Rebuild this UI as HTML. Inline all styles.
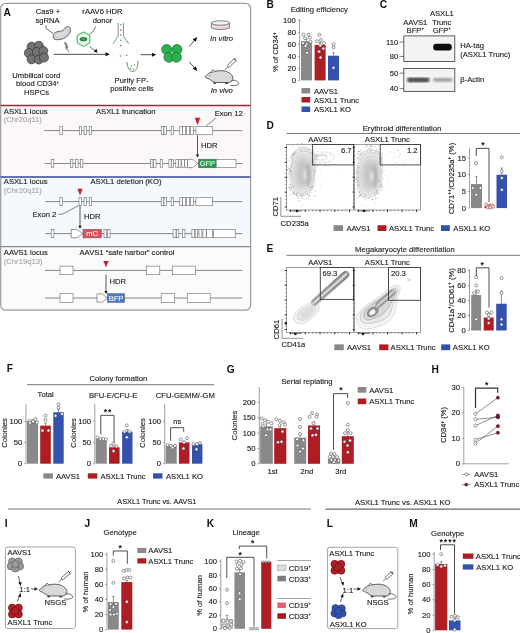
<!DOCTYPE html><html><head><meta charset="utf-8"><style>html,body{margin:0;padding:0;background:#fff;width:520px;height:633px;overflow:hidden}svg{display:block}svg text{font-family:"Liberation Sans",Arial,Helvetica,sans-serif}</style></head><body><svg width="520" height="633" viewBox="0 0 520 633" fill="#1e1e1e">
<defs><clipPath id="boxA"><rect x="0.7" y="3.3" width="249.9" height="306.9" rx="5"/></clipPath><radialGradient id="blob" cx="0.55" cy="0.55" r="0.5"><stop offset="0" stop-color="#d8d8d8"/><stop offset="0.35" stop-color="#9a9a9a"/><stop offset="0.7" stop-color="#c4c4c4"/><stop offset="1" stop-color="#eeeeee" stop-opacity="0.3"/></radialGradient><radialGradient id="blob2" cx="0.5" cy="0.5" r="0.5"><stop offset="0" stop-color="#bbbbbb"/><stop offset="0.6" stop-color="#d6d6d6"/><stop offset="1" stop-color="#f2f2f2" stop-opacity="0.2"/></radialGradient><linearGradient id="streak" x1="0" y1="0" x2="0" y2="1"><stop offset="0" stop-color="#777"/><stop offset="0.3" stop-color="#a8a8a8"/><stop offset="0.5" stop-color="#dddddd"/><stop offset="0.7" stop-color="#a8a8a8"/><stop offset="1" stop-color="#777"/></linearGradient><linearGradient id="along" x1="0" y1="0" x2="1" y2="0"><stop offset="0" stop-color="#bbbbbb"/><stop offset="0.45" stop-color="#888888"/><stop offset="1" stop-color="#444444"/></linearGradient><linearGradient id="fadeL" x1="0" y1="0" x2="1" y2="0"><stop offset="0" stop-color="#fff" stop-opacity="0.6"/><stop offset="1" stop-color="#fff" stop-opacity="0"/></linearGradient><filter id="blur1"><feGaussianBlur stdDeviation="0.8"/></filter><filter id="blur05"><feGaussianBlur stdDeviation="0.45"/></filter></defs>
<rect width="520" height="633" fill="#fff"/>
<g clip-path="url(#boxA)">
<rect x="0.00" y="3.00" width="252.00" height="103.00" fill="#fff" stroke="none" stroke-width="0.8" />
<rect x="0.00" y="105.50" width="252.00" height="71.50" fill="#fcf8fa" stroke="none" stroke-width="0.8" />
<rect x="0.00" y="177.00" width="252.00" height="69.50" fill="#f5f8fc" stroke="none" stroke-width="0.8" />
<rect x="0.00" y="246.50" width="252.00" height="66.00" fill="#fbfbfc" stroke="none" stroke-width="0.8" />
</g>
<rect x="0.70" y="3.30" width="249.90" height="306.90" fill="none" stroke="#9a9a9a" stroke-width="1.2" rx="5" />
<line x1="0.70" y1="105.50" x2="250.60" y2="105.50" stroke="#9c2a2e" stroke-width="1.5" />
<line x1="0.70" y1="177.00" x2="250.60" y2="177.00" stroke="#34469a" stroke-width="1.3" />
<line x1="0.70" y1="246.60" x2="250.60" y2="246.60" stroke="#8a8a8a" stroke-width="1.2" />
<text x="3.60" y="15.60" font-size="10.2" fill="#111" font-weight="bold">A</text>
<text x="48.00" y="14.50" font-size="7.9" text-anchor="middle" stroke="#1e1e1e" stroke-width="0.14" transform="translate(48.00 14.50) scale(0.97 1) translate(-48.00 -14.50)">Cas9 +</text>
<text x="47.50" y="23.00" font-size="7.9" text-anchor="middle" stroke="#1e1e1e" stroke-width="0.14" transform="translate(47.50 23.00) scale(0.97 1) translate(-47.50 -23.00)">sgRNA</text>
<text x="102.50" y="14.50" font-size="7.9" text-anchor="middle" stroke="#1e1e1e" stroke-width="0.14" transform="translate(102.50 14.50) scale(0.97 1) translate(-102.50 -14.50)">rAAV6 HDR</text>
<text x="102.50" y="23.00" font-size="7.9" text-anchor="middle" stroke="#1e1e1e" stroke-width="0.14" transform="translate(102.50 23.00) scale(0.97 1) translate(-102.50 -23.00)">donor</text>
<circle cx="31.60" cy="46.70" r="4.5" fill="#737373" stroke="#333" stroke-width="0.7"/>
<circle cx="38.80" cy="45.80" r="4.5" fill="#737373" stroke="#333" stroke-width="0.7"/>
<circle cx="28.80" cy="53.00" r="4.5" fill="#737373" stroke="#333" stroke-width="0.7"/>
<circle cx="36.80" cy="52.00" r="4.5" fill="#737373" stroke="#333" stroke-width="0.7"/>
<circle cx="43.30" cy="51.00" r="4.5" fill="#737373" stroke="#333" stroke-width="0.7"/>
<circle cx="31.60" cy="59.30" r="4.5" fill="#737373" stroke="#333" stroke-width="0.7"/>
<circle cx="38.80" cy="59.50" r="4.5" fill="#737373" stroke="#333" stroke-width="0.7"/>
<circle cx="44.00" cy="57.50" r="4.5" fill="#737373" stroke="#333" stroke-width="0.7"/>
<text x="36.30" y="78.20" font-size="7.9" text-anchor="middle" stroke="#1e1e1e" stroke-width="0.14" transform="translate(36.30 78.20) scale(0.97 1) translate(-36.30 -78.20)">Umbilical cord</text>
<text x="37.50" y="86.50" font-size="7.9" text-anchor="middle" stroke="#1e1e1e" stroke-width="0.14" transform="translate(37.50 86.50) scale(0.97 1) translate(-37.50 -86.50)">blood CD34<tspan font-size="4.5" dy="-2.8">+</tspan></text>
<text x="36.50" y="95.00" font-size="7.9" text-anchor="middle" stroke="#1e1e1e" stroke-width="0.14" transform="translate(36.50 95.00) scale(0.97 1) translate(-36.50 -95.00)">HSPCs</text>
<path d="M45.8,25.2 L46.2,28.5 L53.2,33.6" fill="none" stroke="#333" stroke-width="0.7" />
<path d="M53.2,35.5 C53.5,32.5 57,31.5 60.5,31.2 C63,31 64.5,28.5 66,27 C68,25.8 70.6,26.8 70.6,29.5 C70.6,33 68,36.5 63.5,38.5 C60,40 55,40.2 53.8,38.5 C53.2,37.6 53.1,36.5 53.2,35.5 Z" fill="#d2d2d2" stroke="#444" stroke-width="0.8" />
<path d="M56,35.5 C59,34 63,33.5 66,31.5" fill="none" stroke="#f2f2f2" stroke-width="0.9" />
<path d="M58,37.3 C61,36.5 64,35.5 67,33.5" fill="none" stroke="#ececec" stroke-width="0.6" />
<path d="M64,42.5 L66.5,47 L65,47.3 L69.3,52.5 L66.8,47.8 L68.3,47.5 L66,42.5 Z" fill="#777" stroke="#666" stroke-width="0.3" />
<polygon points="83.50,31.90 89.82,35.55 89.82,42.85 83.50,46.50 77.18,42.85 77.18,35.55" fill="#e6f5ea" stroke="#2a9f4c" stroke-width="0.9"/>
<ellipse cx="83.5" cy="39.2" rx="3.6" ry="1.9" fill="#1f8c3c" stroke="#1a6e30" stroke-width="0.4"/>
<ellipse cx="83.5" cy="39.2" rx="1.8" ry="0.8" fill="#3cb862"/>
<path d="M95.5,26.5 Q95,31 89.5,34.5" fill="none" stroke="#333" stroke-width="0.7" />
<line x1="89.50" y1="46.50" x2="95.50" y2="51.00" stroke="#333" stroke-width="0.7" />
<polygon points="97.6,52.6 93.6,51.8 96.4,48.8" fill="#111"/>
<line x1="53.70" y1="54.30" x2="106.50" y2="54.30" stroke="#222" stroke-width="0.8" />
<polygon points="110,54.3 105.5,52.3 105.5,56.3" fill="#111"/>
<line x1="118.20" y1="23.00" x2="118.20" y2="36.00" stroke="#555" stroke-width="0.7" />
<line x1="123.40" y1="23.00" x2="123.40" y2="36.00" stroke="#555" stroke-width="0.7" />
<line x1="118.20" y1="36.00" x2="113.00" y2="43.70" stroke="#555" stroke-width="0.7" />
<line x1="123.40" y1="36.00" x2="128.60" y2="43.70" stroke="#555" stroke-width="0.7" />
<circle cx="120.80" cy="24.70" r="0.75" fill="#2ea04c" stroke="none" stroke-width="0"/>
<circle cx="120.80" cy="29.90" r="0.75" fill="#b03030" stroke="none" stroke-width="0"/>
<circle cx="120.80" cy="35.10" r="0.75" fill="#2ea04c" stroke="none" stroke-width="0"/>
<circle cx="120.80" cy="40.30" r="0.75" fill="#2ea04c" stroke="none" stroke-width="0"/>
<circle cx="120.80" cy="45.50" r="0.75" fill="#a04040" stroke="none" stroke-width="0"/>
<circle cx="120.40" cy="55.90" r="0.75" fill="#b05050" stroke="none" stroke-width="0"/>
<circle cx="126.80" cy="55.30" r="0.75" fill="#2ea04c" stroke="none" stroke-width="0"/>
<path d="M126.8,62 Q128,72 133,71.5 Q138,71 138,61" fill="none" stroke="#555" stroke-width="0.7" />
<circle cx="131.50" cy="66.00" r="0.75" fill="#2ea04c" stroke="none" stroke-width="0"/>
<circle cx="134.50" cy="65.00" r="0.75" fill="#2ea04c" stroke="none" stroke-width="0"/>
<circle cx="133.50" cy="69.00" r="0.75" fill="#2ea04c" stroke="none" stroke-width="0"/>
<circle cx="130.50" cy="68.50" r="0.75" fill="#2ea04c" stroke="none" stroke-width="0"/>
<text x="131.60" y="82.70" font-size="7.9" text-anchor="middle" stroke="#1e1e1e" stroke-width="0.14" transform="translate(131.60 82.70) scale(0.97 1) translate(-131.60 -82.70)">Purify FP-</text>
<text x="132.00" y="91.30" font-size="7.9" text-anchor="middle" stroke="#1e1e1e" stroke-width="0.14" transform="translate(132.00 91.30) scale(0.97 1) translate(-132.00 -91.30)">positive cells</text>
<line x1="140.70" y1="54.70" x2="152.50" y2="54.70" stroke="#222" stroke-width="0.8" />
<polygon points="156.2,54.7 152,52.7 152,56.7" fill="#111"/>
<circle cx="166.60" cy="49.50" r="5.0" fill="#2bb04f" stroke="#1b6a30" stroke-width="0.7"/>
<circle cx="177.00" cy="49.50" r="5.0" fill="#2bb04f" stroke="#1b6a30" stroke-width="0.7"/>
<circle cx="168.90" cy="57.30" r="5.0" fill="#2bb04f" stroke="#1b6a30" stroke-width="0.7"/>
<circle cx="176.40" cy="57.30" r="5.0" fill="#2bb04f" stroke="#1b6a30" stroke-width="0.7"/>
<line x1="189.20" y1="46.50" x2="195.50" y2="39.20" stroke="#222" stroke-width="0.8" />
<polygon points="197.3,37 192.6,39.2 195.8,41.8" fill="#111"/>
<line x1="189.20" y1="61.90" x2="195.50" y2="68.80" stroke="#222" stroke-width="0.8" />
<polygon points="197.3,71 192.6,68.8 195.8,66.2" fill="#111"/>
<path d="M211.3,23 V28 Q220.4,31.3 229.5,28 V23" fill="#ead6da" stroke="#555" stroke-width="0.7" />
<ellipse cx="220.4" cy="23" rx="9.1" ry="2.2" fill="#f6f0f1" stroke="#555" stroke-width="0.7"/>
<text x="221.60" y="40.70" font-size="7.9" text-anchor="middle" stroke="#1e1e1e" stroke-width="0.14" font-style="italic" transform="translate(221.60 40.70) scale(0.97 1) translate(-221.60 -40.70)">In vitro</text>
<path d="M205.2,76.5 C208.2,73.5 210.2,72.0 213.2,71.9 C219.2,70.0 227.2,70.0 231.2,74.5 C234.2,78.0 233.2,81.5 229.2,82.5 L215.2,82.5 C212.2,81.5 210.2,79.5 208.2,78.5 C206.7,78.1 205.2,77.5 205.2,76.5 Z" fill="#d9d9d9" stroke="#333" stroke-width="0.75" />
<path d="M211.7,72.5 C211.2,69.5 214.2,69.0 214.7,71.7" fill="#d9d9d9" stroke="#333" stroke-width="0.7" />
<path d="M231.2,80.5 C236.2,79.5 240.2,82.5 238.2,84.5 C236.2,86.0 232.2,85.5 230.2,85.5" fill="none" stroke="#333" stroke-width="0.7" />
<ellipse cx="214.70" cy="83.10" rx="1.60" ry="0.80" fill="#333"/>
<ellipse cx="226.70" cy="83.30" rx="1.60" ry="0.80" fill="#333"/>
<circle cx="209.40" cy="75.50" r="0.45" fill="#333" stroke="none" stroke-width="0"/>
<line x1="225.00" y1="69.80" x2="228.08" y2="66.66" stroke="#333" stroke-width="0.7" />
<polygon points="229.01,67.57 235.88,60.58 234.02,58.76 227.15,65.75" fill="#fff" stroke="#333" stroke-width="0.7"/>
<line x1="236.62" y1="61.31" x2="233.28" y2="58.03" stroke="#333" stroke-width="0.7" />
<line x1="234.95" y1="59.67" x2="236.35" y2="58.24" stroke="#333" stroke-width="0.7" />
<text x="221.70" y="93.50" font-size="7.9" text-anchor="middle" stroke="#1e1e1e" stroke-width="0.14" font-style="italic" transform="translate(221.70 93.50) scale(0.97 1) translate(-221.70 -93.50)">In vivo</text>
<text x="3.80" y="113.80" font-size="7.9" stroke="#1e1e1e" stroke-width="0.14" transform="translate(3.80 113.80) scale(0.97 1) translate(-3.80 -113.80)">ASXL1 locus</text>
<text x="3.80" y="122.00" font-size="7.9" fill="#a8a8a8" stroke="#a8a8a8" stroke-width="0.14" transform="translate(3.80 122.00) scale(0.97 1) translate(-3.80 -122.00)">(Chr20q11)</text>
<text x="96.00" y="113.80" font-size="7.9" stroke="#1e1e1e" stroke-width="0.14" transform="translate(96.00 113.80) scale(0.97 1) translate(-96.00 -113.80)">ASXL1 truncation</text>
<text x="214.70" y="115.80" font-size="7.9" stroke="#1e1e1e" stroke-width="0.14" transform="translate(214.70 115.80) scale(0.97 1) translate(-214.70 -115.80)">Exon 12</text>
<line x1="44.30" y1="130.60" x2="242.30" y2="130.60" stroke="#7a7a7a" stroke-width="0.9" />
<rect x="59.90" y="126.45" width="2.60" height="8.30" fill="#fff" stroke="#6a6a6a" stroke-width="0.6" />
<rect x="79.30" y="126.45" width="2.30" height="8.30" fill="#fff" stroke="#6a6a6a" stroke-width="0.6" />
<rect x="84.10" y="126.45" width="2.30" height="8.30" fill="#fff" stroke="#6a6a6a" stroke-width="0.6" />
<rect x="89.20" y="126.45" width="2.30" height="8.30" fill="#fff" stroke="#6a6a6a" stroke-width="0.6" />
<rect x="161.20" y="126.45" width="2.60" height="8.30" fill="#fff" stroke="#6a6a6a" stroke-width="0.6" />
<rect x="164.00" y="126.45" width="2.30" height="8.30" fill="#fff" stroke="#6a6a6a" stroke-width="0.6" />
<rect x="171.20" y="126.45" width="2.30" height="8.30" fill="#fff" stroke="#6a6a6a" stroke-width="0.6" />
<rect x="179.80" y="126.45" width="2.90" height="8.30" fill="#fff" stroke="#6a6a6a" stroke-width="0.6" />
<rect x="182.70" y="126.45" width="2.90" height="8.30" fill="#fff" stroke="#6a6a6a" stroke-width="0.6" />
<rect x="186.50" y="126.45" width="2.90" height="8.30" fill="#fff" stroke="#6a6a6a" stroke-width="0.6" />
<rect x="190.40" y="126.45" width="2.90" height="8.30" fill="#fff" stroke="#6a6a6a" stroke-width="0.6" />
<rect x="195.90" y="126.45" width="16.70" height="8.30" fill="#fff" stroke="#6a6a6a" stroke-width="0.6" />
<path d="M206.2,126 L215.3,118.6 V117.6" fill="none" stroke="#333" stroke-width="0.6" />
<polygon points="194.80,117.80 200.20,117.80 197.50,125.30" fill="#c8202a"/>
<line x1="197.50" y1="135.50" x2="197.50" y2="154.90" stroke="#222" stroke-width="0.75" />
<polygon points="197.50,157.50 195.90,154.50 199.10,154.50" fill="#111"/>
<text x="201.00" y="148.00" font-size="7.9" stroke="#1e1e1e" stroke-width="0.14" transform="translate(201.00 148.00) scale(0.97 1) translate(-201.00 -148.00)">HDR</text>
<line x1="44.80" y1="163.50" x2="242.30" y2="163.50" stroke="#7a7a7a" stroke-width="0.9" />
<rect x="51.20" y="159.35" width="2.60" height="8.30" fill="#fff" stroke="#6a6a6a" stroke-width="0.6" />
<rect x="70.30" y="159.35" width="2.60" height="8.30" fill="#fff" stroke="#6a6a6a" stroke-width="0.6" />
<rect x="75.50" y="159.35" width="2.60" height="8.30" fill="#fff" stroke="#6a6a6a" stroke-width="0.6" />
<rect x="80.30" y="159.35" width="2.60" height="8.30" fill="#fff" stroke="#6a6a6a" stroke-width="0.6" />
<rect x="150.50" y="159.35" width="2.50" height="8.30" fill="#fff" stroke="#6a6a6a" stroke-width="0.6" />
<rect x="153.60" y="159.35" width="2.40" height="8.30" fill="#fff" stroke="#6a6a6a" stroke-width="0.6" />
<rect x="160.20" y="159.35" width="2.40" height="8.30" fill="#fff" stroke="#6a6a6a" stroke-width="0.6" />
<rect x="168.90" y="159.35" width="2.30" height="8.30" fill="#fff" stroke="#6a6a6a" stroke-width="0.6" />
<rect x="171.40" y="159.35" width="2.20" height="8.30" fill="#fff" stroke="#6a6a6a" stroke-width="0.6" />
<rect x="175.80" y="159.35" width="2.40" height="8.30" fill="#fff" stroke="#6a6a6a" stroke-width="0.6" />
<rect x="178.60" y="159.35" width="2.40" height="8.30" fill="#fff" stroke="#6a6a6a" stroke-width="0.6" />
<rect x="181.80" y="159.35" width="2.80" height="8.30" fill="#fff" stroke="#6a6a6a" stroke-width="0.6" />
<rect x="184.80" y="159.35" width="2.80" height="8.30" fill="#fff" stroke="#6a6a6a" stroke-width="0.6" />
<path d="M187.6,159.35 H192.7 L197.8,163.5 L192.7,167.65 H187.6 Z" fill="#fff" stroke="#555" stroke-width="0.6" />
<rect x="198.60" y="159.20" width="17.60" height="8.60" fill="#1fa04a" stroke="#555" stroke-width="0.5" />
<text x="207.40" y="166.20" font-size="7.79" text-anchor="middle" fill="#f4f4f4" stroke="#f4f4f4" stroke-width="0.14" transform="translate(207.40 166.20) scale(0.97 1) translate(-207.40 -166.20)">GFP</text>
<rect x="216.20" y="159.35" width="19.80" height="8.30" fill="#fff" stroke="#6a6a6a" stroke-width="0.6" />
<text x="3.80" y="184.30" font-size="7.9" stroke="#1e1e1e" stroke-width="0.14" transform="translate(3.80 184.30) scale(0.97 1) translate(-3.80 -184.30)">ASXL1 locus</text>
<text x="3.80" y="193.00" font-size="7.9" fill="#a8a8a8" stroke="#a8a8a8" stroke-width="0.14" transform="translate(3.80 193.00) scale(0.97 1) translate(-3.80 -193.00)">(Chr20q11)</text>
<text x="90.50" y="184.30" font-size="7.9" stroke="#1e1e1e" stroke-width="0.14" transform="translate(90.50 184.30) scale(0.97 1) translate(-90.50 -184.30)">ASXL1 deletion (KO)</text>
<line x1="45.50" y1="201.60" x2="242.30" y2="201.60" stroke="#7a7a7a" stroke-width="0.9" />
<rect x="59.90" y="197.45" width="2.60" height="8.30" fill="#fff" stroke="#6a6a6a" stroke-width="0.6" />
<rect x="79.00" y="197.45" width="2.30" height="8.30" fill="#fff" stroke="#6a6a6a" stroke-width="0.6" />
<rect x="84.10" y="197.45" width="2.30" height="8.30" fill="#fff" stroke="#6a6a6a" stroke-width="0.6" />
<rect x="89.20" y="197.45" width="2.30" height="8.30" fill="#fff" stroke="#6a6a6a" stroke-width="0.6" />
<rect x="161.20" y="197.45" width="2.60" height="8.30" fill="#fff" stroke="#6a6a6a" stroke-width="0.6" />
<rect x="164.00" y="197.45" width="2.30" height="8.30" fill="#fff" stroke="#6a6a6a" stroke-width="0.6" />
<rect x="171.20" y="197.45" width="2.30" height="8.30" fill="#fff" stroke="#6a6a6a" stroke-width="0.6" />
<rect x="179.80" y="197.45" width="2.90" height="8.30" fill="#fff" stroke="#6a6a6a" stroke-width="0.6" />
<rect x="182.70" y="197.45" width="2.90" height="8.30" fill="#fff" stroke="#6a6a6a" stroke-width="0.6" />
<rect x="186.50" y="197.45" width="2.90" height="8.30" fill="#fff" stroke="#6a6a6a" stroke-width="0.6" />
<rect x="190.40" y="197.45" width="2.90" height="8.30" fill="#fff" stroke="#6a6a6a" stroke-width="0.6" />
<rect x="195.90" y="197.45" width="16.70" height="8.30" fill="#fff" stroke="#6a6a6a" stroke-width="0.6" />
<polygon points="77.30,188.80 82.70,188.80 80.00,195.20" fill="#c8202a"/>
<path d="M58.5,214.3 L62,214.3 L78.5,205.6" fill="none" stroke="#333" stroke-width="0.6" />
<text x="32.50" y="217.00" font-size="7.9" stroke="#1e1e1e" stroke-width="0.14" transform="translate(32.50 217.00) scale(0.97 1) translate(-32.50 -217.00)">Exon 2</text>
<line x1="80.00" y1="206.00" x2="80.00" y2="226.20" stroke="#222" stroke-width="0.75" />
<polygon points="80.00,228.80 78.40,225.80 81.60,225.80" fill="#111"/>
<text x="84.00" y="218.80" font-size="7.9" stroke="#1e1e1e" stroke-width="0.14" transform="translate(84.00 218.80) scale(0.97 1) translate(-84.00 -218.80)">HDR</text>
<line x1="45.50" y1="233.60" x2="242.30" y2="233.60" stroke="#7a7a7a" stroke-width="0.9" />
<rect x="51.20" y="229.45" width="2.70" height="8.30" fill="#fff" stroke="#6a6a6a" stroke-width="0.6" />
<rect x="104.00" y="229.45" width="2.30" height="8.30" fill="#fff" stroke="#6a6a6a" stroke-width="0.6" />
<rect x="107.60" y="229.45" width="2.40" height="8.30" fill="#fff" stroke="#6a6a6a" stroke-width="0.6" />
<rect x="173.10" y="229.45" width="2.90" height="8.30" fill="#fff" stroke="#6a6a6a" stroke-width="0.6" />
<rect x="176.30" y="229.45" width="2.50" height="8.30" fill="#fff" stroke="#6a6a6a" stroke-width="0.6" />
<rect x="182.30" y="229.45" width="2.70" height="8.30" fill="#fff" stroke="#6a6a6a" stroke-width="0.6" />
<rect x="191.90" y="229.45" width="2.70" height="8.30" fill="#fff" stroke="#6a6a6a" stroke-width="0.6" />
<rect x="195.20" y="229.45" width="2.50" height="8.30" fill="#fff" stroke="#6a6a6a" stroke-width="0.6" />
<rect x="199.00" y="229.45" width="2.90" height="8.30" fill="#fff" stroke="#6a6a6a" stroke-width="0.6" />
<rect x="202.90" y="229.45" width="3.30" height="8.30" fill="#fff" stroke="#6a6a6a" stroke-width="0.6" />
<rect x="206.70" y="229.45" width="5.80" height="8.30" fill="#fff" stroke="#6a6a6a" stroke-width="0.6" />
<rect x="213.50" y="229.45" width="21.70" height="8.30" fill="#fff" stroke="#6a6a6a" stroke-width="0.6" />
<path d="M71.2,229.45 H77.0 L82.8,233.6 L77.0,237.75 H71.2 Z" fill="#fff" stroke="#555" stroke-width="0.6" />
<rect x="83.00" y="229.30" width="18.30" height="8.60" fill="#e0505a" stroke="#555" stroke-width="0.5" />
<text x="92.15" y="236.30" font-size="7.79" text-anchor="middle" fill="#f4f4f4" stroke="#f4f4f4" stroke-width="0.14" transform="translate(92.15 236.30) scale(0.97 1) translate(-92.15 -236.30)">mC</text>
<text x="3.80" y="255.50" font-size="7.9" stroke="#1e1e1e" stroke-width="0.14" transform="translate(3.80 255.50) scale(0.97 1) translate(-3.80 -255.50)">AAVS1 locus</text>
<text x="3.80" y="264.00" font-size="7.9" fill="#a8a8a8" stroke="#a8a8a8" stroke-width="0.14" transform="translate(3.80 264.00) scale(0.97 1) translate(-3.80 -264.00)">(Chr19q13)</text>
<text x="79.50" y="255.50" font-size="7.9" stroke="#1e1e1e" stroke-width="0.14" transform="translate(79.50 255.50) scale(0.97 1) translate(-79.50 -255.50)">AAVS1 “safe harbor” control</text>
<line x1="45.00" y1="270.40" x2="242.30" y2="270.40" stroke="#7a7a7a" stroke-width="0.9" />
<rect x="60.00" y="266.10" width="13.00" height="8.60" fill="#fff" stroke="#6a6a6a" stroke-width="0.6" />
<rect x="146.40" y="266.10" width="13.40" height="8.60" fill="#fff" stroke="#6a6a6a" stroke-width="0.6" />
<rect x="172.50" y="266.10" width="22.90" height="8.60" fill="#fff" stroke="#6a6a6a" stroke-width="0.6" />
<polygon points="103.30,261.00 108.70,261.00 106.00,267.30" fill="#c8202a"/>
<line x1="106.00" y1="274.60" x2="106.00" y2="291.40" stroke="#222" stroke-width="0.75" />
<polygon points="106.00,294.00 104.40,291.00 107.60,291.00" fill="#111"/>
<text x="109.50" y="284.50" font-size="7.9" stroke="#1e1e1e" stroke-width="0.14" transform="translate(109.50 284.50) scale(0.97 1) translate(-109.50 -284.50)">HDR</text>
<line x1="45.00" y1="298.00" x2="242.30" y2="298.00" stroke="#7a7a7a" stroke-width="0.9" />
<rect x="60.00" y="293.70" width="13.00" height="8.60" fill="#fff" stroke="#6a6a6a" stroke-width="0.6" />
<rect x="161.20" y="293.70" width="13.50" height="8.60" fill="#fff" stroke="#6a6a6a" stroke-width="0.6" />
<rect x="187.30" y="293.70" width="22.90" height="8.60" fill="#fff" stroke="#6a6a6a" stroke-width="0.6" />
<path d="M97,293.85 H102.15 L107.3,298 L102.15,302.15 H97 Z" fill="#fff" stroke="#555" stroke-width="0.6" />
<rect x="107.50" y="293.70" width="17.10" height="8.60" fill="#4a78c8" stroke="#555" stroke-width="0.5" />
<text x="116.05" y="300.70" font-size="7.79" text-anchor="middle" fill="#f4f4f4" stroke="#f4f4f4" stroke-width="0.14" transform="translate(116.05 300.70) scale(0.97 1) translate(-116.05 -300.70)">BFP</text>
<text x="266.60" y="7.60" font-size="10.2" fill="#111" font-weight="bold">B</text>
<text x="319.30" y="12.00" font-size="7.9" text-anchor="middle" stroke="#1e1e1e" stroke-width="0.14" transform="translate(319.30 12.00) scale(0.97 1) translate(-319.30 -12.00)">Editing efficiency</text>
<line x1="299.60" y1="80.40" x2="299.60" y2="19.20" stroke="#777" stroke-width="0.7" />
<line x1="297.80" y1="80.40" x2="299.60" y2="80.40" stroke="#777" stroke-width="0.7" />
<text x="295.90" y="83.00" font-size="7.9" text-anchor="end" stroke="#1e1e1e" stroke-width="0.14" transform="translate(295.90 83.00) scale(0.97 1) translate(-295.90 -83.00)">0</text>
<line x1="297.80" y1="68.36" x2="299.60" y2="68.36" stroke="#777" stroke-width="0.7" />
<text x="295.90" y="70.96" font-size="7.9" text-anchor="end" stroke="#1e1e1e" stroke-width="0.14" transform="translate(295.90 70.96) scale(0.97 1) translate(-295.90 -70.96)">20</text>
<line x1="297.80" y1="56.32" x2="299.60" y2="56.32" stroke="#777" stroke-width="0.7" />
<text x="295.90" y="58.92" font-size="7.9" text-anchor="end" stroke="#1e1e1e" stroke-width="0.14" transform="translate(295.90 58.92) scale(0.97 1) translate(-295.90 -58.92)">40</text>
<line x1="297.80" y1="44.28" x2="299.60" y2="44.28" stroke="#777" stroke-width="0.7" />
<text x="295.90" y="46.88" font-size="7.9" text-anchor="end" stroke="#1e1e1e" stroke-width="0.14" transform="translate(295.90 46.88) scale(0.97 1) translate(-295.90 -46.88)">60</text>
<line x1="297.80" y1="32.24" x2="299.60" y2="32.24" stroke="#777" stroke-width="0.7" />
<text x="295.90" y="34.84" font-size="7.9" text-anchor="end" stroke="#1e1e1e" stroke-width="0.14" transform="translate(295.90 34.84) scale(0.97 1) translate(-295.90 -34.84)">80</text>
<line x1="297.80" y1="20.20" x2="299.60" y2="20.20" stroke="#777" stroke-width="0.7" />
<text x="295.90" y="22.80" font-size="7.9" text-anchor="end" stroke="#1e1e1e" stroke-width="0.14" transform="translate(295.90 22.80) scale(0.97 1) translate(-295.90 -22.80)">100</text>
<text x="278.50" y="52.30" font-size="7.9" text-anchor="middle" stroke="#1e1e1e" stroke-width="0.14" transform="rotate(-90 278.50 52.30) translate(278.50 52.30) scale(0.97 1) translate(-278.50 -52.30)">% of CD34<tspan font-size="4.5" dy="-2.8">+</tspan></text>
<rect x="301.00" y="41.27" width="11.00" height="39.13" fill="#898989" stroke="none" stroke-width="0.5" />
<line x1="306.50" y1="41.27" x2="306.50" y2="38.86" stroke="#444" stroke-width="0.6" />
<line x1="305.40" y1="38.86" x2="307.60" y2="38.86" stroke="#444" stroke-width="0.6" />
<rect x="314.60" y="44.88" width="11.00" height="35.52" fill="#ae1d24" stroke="none" stroke-width="0.5" />
<line x1="320.10" y1="44.88" x2="320.10" y2="42.47" stroke="#444" stroke-width="0.6" />
<line x1="319.00" y1="42.47" x2="321.20" y2="42.47" stroke="#444" stroke-width="0.6" />
<rect x="328.00" y="55.72" width="11.00" height="24.68" fill="#3452ad" stroke="none" stroke-width="0.5" />
<line x1="333.50" y1="55.72" x2="333.50" y2="52.71" stroke="#444" stroke-width="0.6" />
<line x1="332.40" y1="52.71" x2="334.60" y2="52.71" stroke="#444" stroke-width="0.6" />
<circle cx="303.50" cy="34.65" r="1.5" fill="#fff" stroke="#444" stroke-width="0.55"/>
<circle cx="308.50" cy="34.65" r="1.5" fill="#fff" stroke="#444" stroke-width="0.55"/>
<circle cx="305.00" cy="38.26" r="1.5" fill="#fff" stroke="#444" stroke-width="0.55"/>
<circle cx="310.00" cy="37.66" r="1.5" fill="#fff" stroke="#444" stroke-width="0.55"/>
<circle cx="303.00" cy="43.08" r="1.5" fill="#fff" stroke="#444" stroke-width="0.55"/>
<circle cx="306.50" cy="44.28" r="1.5" fill="#fff" stroke="#444" stroke-width="0.55"/>
<circle cx="310.50" cy="41.87" r="1.5" fill="#fff" stroke="#444" stroke-width="0.55"/>
<circle cx="305.50" cy="46.09" r="1.5" fill="#fff" stroke="#444" stroke-width="0.55"/>
<circle cx="307.00" cy="52.71" r="1.5" fill="#fff" stroke="#444" stroke-width="0.55"/>
<circle cx="319.20" cy="34.65" r="1.5" fill="#fff" stroke="#444" stroke-width="0.55"/>
<circle cx="317.00" cy="41.27" r="1.5" fill="#fff" stroke="#444" stroke-width="0.55"/>
<circle cx="321.00" cy="40.07" r="1.5" fill="#fff" stroke="#444" stroke-width="0.55"/>
<circle cx="324.00" cy="43.08" r="1.5" fill="#fff" stroke="#444" stroke-width="0.55"/>
<circle cx="320.20" cy="45.48" r="1.5" fill="#fff" stroke="#444" stroke-width="0.55"/>
<circle cx="323.30" cy="48.49" r="1.5" fill="#fff" stroke="#444" stroke-width="0.55"/>
<circle cx="319.00" cy="51.50" r="1.5" fill="#fff" stroke="#444" stroke-width="0.55"/>
<circle cx="320.50" cy="57.52" r="1.5" fill="#fff" stroke="#444" stroke-width="0.55"/>
<circle cx="333.50" cy="44.28" r="1.5" fill="#fff" stroke="#444" stroke-width="0.55"/>
<circle cx="333.50" cy="47.29" r="1.5" fill="#fff" stroke="#444" stroke-width="0.55"/>
<circle cx="333.50" cy="67.76" r="1.5" fill="#fff" stroke="#444" stroke-width="0.55"/>
<rect x="301.50" y="88.00" width="8.70" height="5.50" fill="#898989" stroke="none" stroke-width="0.5" />
<text x="314.00" y="93.80" font-size="7.9" stroke="#1e1e1e" stroke-width="0.14" transform="translate(314.00 93.80) scale(0.97 1) translate(-314.00 -93.80)">AAVS1</text>
<rect x="301.50" y="97.00" width="8.70" height="5.50" fill="#ae1d24" stroke="none" stroke-width="0.5" />
<text x="314.00" y="102.80" font-size="7.9" stroke="#1e1e1e" stroke-width="0.14" transform="translate(314.00 102.80) scale(0.97 1) translate(-314.00 -102.80)">ASXL1 Trunc</text>
<rect x="301.50" y="106.50" width="8.70" height="5.50" fill="#3452ad" stroke="none" stroke-width="0.5" />
<text x="314.00" y="112.30" font-size="7.9" stroke="#1e1e1e" stroke-width="0.14" transform="translate(314.00 112.30) scale(0.97 1) translate(-314.00 -112.30)">ASXL1 KO</text>
<text x="379.80" y="7.70" font-size="10.2" fill="#111" font-weight="bold">C</text>
<text x="441.80" y="15.60" font-size="7.9" text-anchor="middle" stroke="#1e1e1e" stroke-width="0.14" transform="translate(441.80 15.60) scale(0.97 1) translate(-441.80 -15.60)">ASXL1</text>
<text x="415.30" y="24.80" font-size="7.9" text-anchor="middle" stroke="#1e1e1e" stroke-width="0.14" transform="translate(415.30 24.80) scale(0.97 1) translate(-415.30 -24.80)">AAVS1</text>
<text x="441.80" y="24.80" font-size="7.9" text-anchor="middle" stroke="#1e1e1e" stroke-width="0.14" transform="translate(441.80 24.80) scale(0.97 1) translate(-441.80 -24.80)">Trunc</text>
<text x="415.30" y="33.20" font-size="7.9" text-anchor="middle" stroke="#1e1e1e" stroke-width="0.14" transform="translate(415.30 33.20) scale(0.97 1) translate(-415.30 -33.20)">BFP<tspan font-size="4.5" dy="-2.8">+</tspan></text>
<text x="441.80" y="33.20" font-size="7.9" text-anchor="middle" stroke="#1e1e1e" stroke-width="0.14" transform="translate(441.80 33.20) scale(0.97 1) translate(-441.80 -33.20)">GFP<tspan font-size="4.5" dy="-2.8">+</tspan></text>
<rect x="403.80" y="35.90" width="51.00" height="25.60" fill="#f3f3f3" stroke="#4a4a4a" stroke-width="0.9" />
<rect x="403.80" y="68.50" width="51.00" height="22.90" fill="#f3f3f3" stroke="#4a4a4a" stroke-width="0.9" />
<line x1="399.60" y1="42.10" x2="403.80" y2="42.10" stroke="#444" stroke-width="0.7" />
<text x="398.30" y="44.70" font-size="7.9" text-anchor="end" stroke="#1e1e1e" stroke-width="0.14" transform="translate(398.30 44.70) scale(0.97 1) translate(-398.30 -44.70)">110</text>
<line x1="399.60" y1="56.40" x2="403.80" y2="56.40" stroke="#444" stroke-width="0.7" />
<text x="398.30" y="59.00" font-size="7.9" text-anchor="end" stroke="#1e1e1e" stroke-width="0.14" transform="translate(398.30 59.00) scale(0.97 1) translate(-398.30 -59.00)">80</text>
<line x1="399.60" y1="73.10" x2="403.80" y2="73.10" stroke="#444" stroke-width="0.7" />
<text x="398.30" y="75.70" font-size="7.9" text-anchor="end" stroke="#1e1e1e" stroke-width="0.14" transform="translate(398.30 75.70) scale(0.97 1) translate(-398.30 -75.70)">50</text>
<line x1="399.60" y1="88.70" x2="403.80" y2="88.70" stroke="#444" stroke-width="0.7" />
<text x="398.30" y="91.30" font-size="7.9" text-anchor="end" stroke="#1e1e1e" stroke-width="0.14" transform="translate(398.30 91.30) scale(0.97 1) translate(-398.30 -91.30)">40</text>
<rect x="433.2" y="43.8" width="18.6" height="6.8" rx="3" fill="#111" filter="url(#blur05)"/>
<rect x="407" y="77.6" width="22.5" height="4.6" rx="2.2" fill="#4a4a4a" filter="url(#blur1)"/>
<rect x="433" y="78" width="19.8" height="3.8" rx="1.8" fill="#a0a0a0" filter="url(#blur1)"/>
<text x="460.20" y="48.30" font-size="7.9" stroke="#1e1e1e" stroke-width="0.14" transform="translate(460.20 48.30) scale(0.97 1) translate(-460.20 -48.30)">HA-tag</text>
<text x="460.20" y="57.00" font-size="7.9" stroke="#1e1e1e" stroke-width="0.14" transform="translate(460.20 57.00) scale(0.97 1) translate(-460.20 -57.00)">(ASXL1 Trunc)</text>
<text x="460.20" y="82.50" font-size="7.9" stroke="#1e1e1e" stroke-width="0.14" transform="translate(460.20 82.50) scale(0.97 1) translate(-460.20 -82.50)">β-Actin</text>
<text x="266.60" y="129.30" font-size="10.2" fill="#111" font-weight="bold">D</text>
<line x1="286.50" y1="133.50" x2="520.00" y2="133.50" stroke="#555" stroke-width="0.8" />
<text x="402.00" y="130.60" font-size="7.9" text-anchor="middle" stroke="#1e1e1e" stroke-width="0.14" transform="translate(402.00 130.60) scale(0.97 1) translate(-402.00 -130.60)">Erythroid differentiation</text>
<text x="320.30" y="142.20" font-size="7.9" text-anchor="middle" stroke="#1e1e1e" stroke-width="0.14" transform="translate(320.30 142.20) scale(0.97 1) translate(-320.30 -142.20)">AAVS1</text>
<text x="387.40" y="142.20" font-size="7.9" text-anchor="middle" stroke="#1e1e1e" stroke-width="0.14" transform="translate(387.40 142.20) scale(0.97 1) translate(-387.40 -142.20)">ASXL1 Trunc</text>
<rect x="286.50" y="144.50" width="67.10" height="65.50" fill="#fff" stroke="#8a8a8a" stroke-width="0.8" />
<circle cx="303.9" cy="195.5" r="0.32" fill="#8a8a8a"/>
<circle cx="294.6" cy="191.9" r="0.32" fill="#8a8a8a"/>
<circle cx="300.7" cy="174.3" r="0.32" fill="#8a8a8a"/>
<circle cx="320.1" cy="180.2" r="0.32" fill="#8a8a8a"/>
<circle cx="302.6" cy="188.2" r="0.32" fill="#8a8a8a"/>
<circle cx="313.1" cy="177.6" r="0.32" fill="#8a8a8a"/>
<circle cx="308.3" cy="164.4" r="0.32" fill="#8a8a8a"/>
<circle cx="299.7" cy="171.9" r="0.32" fill="#8a8a8a"/>
<circle cx="291.0" cy="156.9" r="0.32" fill="#8a8a8a"/>
<circle cx="288.4" cy="174.7" r="0.32" fill="#8a8a8a"/>
<circle cx="301.4" cy="173.5" r="0.32" fill="#8a8a8a"/>
<circle cx="303.6" cy="159.3" r="0.32" fill="#8a8a8a"/>
<circle cx="302.3" cy="181.3" r="0.32" fill="#8a8a8a"/>
<circle cx="309.8" cy="166.2" r="0.32" fill="#8a8a8a"/>
<circle cx="299.4" cy="149.8" r="0.32" fill="#8a8a8a"/>
<circle cx="298.5" cy="147.2" r="0.32" fill="#8a8a8a"/>
<circle cx="290.2" cy="193.4" r="0.32" fill="#8a8a8a"/>
<circle cx="306.0" cy="173.6" r="0.32" fill="#8a8a8a"/>
<circle cx="307.1" cy="185.4" r="0.32" fill="#8a8a8a"/>
<circle cx="312.4" cy="174.8" r="0.32" fill="#8a8a8a"/>
<circle cx="297.7" cy="169.5" r="0.32" fill="#8a8a8a"/>
<circle cx="294.1" cy="177.4" r="0.32" fill="#8a8a8a"/>
<circle cx="295.9" cy="193.0" r="0.32" fill="#8a8a8a"/>
<circle cx="294.4" cy="148.7" r="0.32" fill="#8a8a8a"/>
<circle cx="300.5" cy="170.6" r="0.32" fill="#8a8a8a"/>
<circle cx="317.9" cy="150.2" r="0.32" fill="#8a8a8a"/>
<circle cx="312.6" cy="167.8" r="0.32" fill="#8a8a8a"/>
<circle cx="301.6" cy="168.6" r="0.32" fill="#8a8a8a"/>
<circle cx="308.8" cy="162.1" r="0.32" fill="#8a8a8a"/>
<circle cx="302.3" cy="182.9" r="0.32" fill="#8a8a8a"/>
<circle cx="316.7" cy="191.3" r="0.32" fill="#8a8a8a"/>
<circle cx="298.6" cy="182.3" r="0.32" fill="#8a8a8a"/>
<circle cx="298.8" cy="201.1" r="0.32" fill="#8a8a8a"/>
<circle cx="304.9" cy="175.0" r="0.32" fill="#8a8a8a"/>
<circle cx="300.9" cy="175.2" r="0.32" fill="#8a8a8a"/>
<circle cx="301.4" cy="165.7" r="0.32" fill="#8a8a8a"/>
<circle cx="321.5" cy="151.2" r="0.32" fill="#8a8a8a"/>
<circle cx="301.7" cy="183.2" r="0.32" fill="#8a8a8a"/>
<circle cx="301.2" cy="175.9" r="0.32" fill="#8a8a8a"/>
<circle cx="306.0" cy="191.6" r="0.32" fill="#8a8a8a"/>
<circle cx="299.0" cy="172.8" r="0.32" fill="#8a8a8a"/>
<circle cx="320.5" cy="185.4" r="0.32" fill="#8a8a8a"/>
<circle cx="310.0" cy="169.8" r="0.32" fill="#8a8a8a"/>
<circle cx="292.4" cy="182.2" r="0.32" fill="#8a8a8a"/>
<circle cx="295.5" cy="163.2" r="0.32" fill="#8a8a8a"/>
<circle cx="291.3" cy="170.9" r="0.32" fill="#8a8a8a"/>
<circle cx="313.0" cy="171.9" r="0.32" fill="#8a8a8a"/>
<circle cx="290.0" cy="187.4" r="0.32" fill="#8a8a8a"/>
<circle cx="303.6" cy="189.8" r="0.32" fill="#8a8a8a"/>
<circle cx="313.8" cy="175.6" r="0.32" fill="#8a8a8a"/>
<circle cx="301.7" cy="177.4" r="0.32" fill="#8a8a8a"/>
<circle cx="292.8" cy="187.4" r="0.32" fill="#8a8a8a"/>
<circle cx="315.3" cy="180.4" r="0.32" fill="#8a8a8a"/>
<circle cx="300.9" cy="174.4" r="0.32" fill="#8a8a8a"/>
<circle cx="296.0" cy="166.7" r="0.32" fill="#8a8a8a"/>
<circle cx="299.4" cy="166.2" r="0.32" fill="#8a8a8a"/>
<circle cx="299.1" cy="155.9" r="0.32" fill="#8a8a8a"/>
<circle cx="306.2" cy="178.7" r="0.32" fill="#8a8a8a"/>
<circle cx="292.6" cy="145.8" r="0.32" fill="#8a8a8a"/>
<circle cx="302.9" cy="193.5" r="0.32" fill="#8a8a8a"/>
<circle cx="296.4" cy="171.2" r="0.32" fill="#8a8a8a"/>
<circle cx="297.9" cy="187.1" r="0.32" fill="#8a8a8a"/>
<circle cx="294.8" cy="191.8" r="0.32" fill="#8a8a8a"/>
<circle cx="300.3" cy="190.9" r="0.32" fill="#8a8a8a"/>
<circle cx="303.3" cy="174.8" r="0.32" fill="#8a8a8a"/>
<circle cx="289.7" cy="168.4" r="0.32" fill="#8a8a8a"/>
<circle cx="300.6" cy="187.2" r="0.32" fill="#8a8a8a"/>
<circle cx="305.2" cy="168.2" r="0.32" fill="#8a8a8a"/>
<circle cx="306.7" cy="191.8" r="0.32" fill="#8a8a8a"/>
<circle cx="301.7" cy="171.9" r="0.32" fill="#8a8a8a"/>
<circle cx="299.5" cy="189.3" r="0.32" fill="#8a8a8a"/>
<circle cx="307.8" cy="165.0" r="0.32" fill="#8a8a8a"/>
<circle cx="306.4" cy="171.3" r="0.32" fill="#8a8a8a"/>
<circle cx="296.2" cy="195.4" r="0.32" fill="#8a8a8a"/>
<circle cx="310.4" cy="167.9" r="0.32" fill="#8a8a8a"/>
<circle cx="303.7" cy="185.0" r="0.32" fill="#8a8a8a"/>
<circle cx="297.2" cy="176.3" r="0.32" fill="#8a8a8a"/>
<circle cx="309.0" cy="153.0" r="0.32" fill="#8a8a8a"/>
<circle cx="305.9" cy="188.3" r="0.32" fill="#8a8a8a"/>
<circle cx="307.5" cy="159.2" r="0.32" fill="#8a8a8a"/>
<circle cx="305.9" cy="165.9" r="0.32" fill="#8a8a8a"/>
<circle cx="308.1" cy="186.5" r="0.32" fill="#8a8a8a"/>
<circle cx="304.9" cy="167.3" r="0.32" fill="#8a8a8a"/>
<circle cx="297.7" cy="190.0" r="0.32" fill="#8a8a8a"/>
<circle cx="294.9" cy="184.9" r="0.32" fill="#8a8a8a"/>
<circle cx="307.6" cy="174.1" r="0.32" fill="#8a8a8a"/>
<circle cx="324.6" cy="179.0" r="0.32" fill="#8a8a8a"/>
<circle cx="322.3" cy="149.8" r="0.32" fill="#8a8a8a"/>
<circle cx="308.7" cy="173.6" r="0.32" fill="#8a8a8a"/>
<circle cx="302.5" cy="151.4" r="0.32" fill="#8a8a8a"/>
<circle cx="297.3" cy="163.5" r="0.32" fill="#8a8a8a"/>
<circle cx="301.0" cy="190.4" r="0.32" fill="#8a8a8a"/>
<circle cx="303.5" cy="183.2" r="0.32" fill="#8a8a8a"/>
<circle cx="296.7" cy="171.9" r="0.32" fill="#8a8a8a"/>
<circle cx="304.0" cy="174.0" r="0.32" fill="#8a8a8a"/>
<circle cx="314.4" cy="165.7" r="0.32" fill="#8a8a8a"/>
<circle cx="320.0" cy="164.3" r="0.32" fill="#8a8a8a"/>
<circle cx="312.5" cy="167.2" r="0.32" fill="#8a8a8a"/>
<circle cx="317.8" cy="179.9" r="0.32" fill="#8a8a8a"/>
<circle cx="306.6" cy="188.4" r="0.32" fill="#8a8a8a"/>
<circle cx="297.3" cy="163.4" r="0.32" fill="#8a8a8a"/>
<circle cx="296.7" cy="169.7" r="0.32" fill="#8a8a8a"/>
<circle cx="302.7" cy="205.8" r="0.32" fill="#8a8a8a"/>
<circle cx="287.4" cy="181.5" r="0.32" fill="#8a8a8a"/>
<circle cx="299.4" cy="185.4" r="0.32" fill="#8a8a8a"/>
<circle cx="310.6" cy="199.8" r="0.32" fill="#8a8a8a"/>
<circle cx="317.4" cy="166.0" r="0.32" fill="#8a8a8a"/>
<circle cx="303.5" cy="176.5" r="0.32" fill="#8a8a8a"/>
<circle cx="290.6" cy="157.8" r="0.32" fill="#8a8a8a"/>
<circle cx="309.8" cy="181.4" r="0.32" fill="#8a8a8a"/>
<circle cx="301.7" cy="195.0" r="0.32" fill="#8a8a8a"/>
<circle cx="294.0" cy="185.4" r="0.32" fill="#8a8a8a"/>
<circle cx="303.1" cy="177.2" r="0.32" fill="#8a8a8a"/>
<circle cx="307.4" cy="180.5" r="0.32" fill="#8a8a8a"/>
<circle cx="305.4" cy="181.7" r="0.32" fill="#8a8a8a"/>
<circle cx="320.4" cy="173.6" r="0.32" fill="#8a8a8a"/>
<circle cx="312.1" cy="186.5" r="0.32" fill="#8a8a8a"/>
<circle cx="299.9" cy="189.1" r="0.32" fill="#8a8a8a"/>
<circle cx="295.3" cy="194.2" r="0.32" fill="#8a8a8a"/>
<circle cx="295.7" cy="171.1" r="0.32" fill="#8a8a8a"/>
<circle cx="305.9" cy="189.7" r="0.32" fill="#8a8a8a"/>
<circle cx="311.2" cy="190.5" r="0.32" fill="#8a8a8a"/>
<circle cx="301.1" cy="164.6" r="0.32" fill="#8a8a8a"/>
<circle cx="307.9" cy="182.2" r="0.32" fill="#8a8a8a"/>
<circle cx="294.4" cy="191.6" r="0.32" fill="#8a8a8a"/>
<circle cx="304.8" cy="164.6" r="0.32" fill="#8a8a8a"/>
<circle cx="307.0" cy="159.4" r="0.32" fill="#8a8a8a"/>
<circle cx="295.1" cy="183.6" r="0.32" fill="#8a8a8a"/>
<circle cx="289.0" cy="178.5" r="0.32" fill="#8a8a8a"/>
<circle cx="290.8" cy="188.3" r="0.32" fill="#8a8a8a"/>
<circle cx="296.5" cy="180.6" r="0.32" fill="#8a8a8a"/>
<circle cx="289.5" cy="173.2" r="0.32" fill="#8a8a8a"/>
<circle cx="311.5" cy="184.4" r="0.32" fill="#8a8a8a"/>
<circle cx="311.0" cy="172.7" r="0.32" fill="#8a8a8a"/>
<circle cx="315.8" cy="163.2" r="0.32" fill="#8a8a8a"/>
<circle cx="302.2" cy="193.6" r="0.32" fill="#8a8a8a"/>
<circle cx="314.8" cy="195.9" r="0.32" fill="#8a8a8a"/>
<circle cx="293.2" cy="153.1" r="0.32" fill="#8a8a8a"/>
<circle cx="306.5" cy="158.0" r="0.32" fill="#8a8a8a"/>
<circle cx="301.8" cy="160.1" r="0.32" fill="#8a8a8a"/>
<circle cx="312.6" cy="189.2" r="0.32" fill="#8a8a8a"/>
<circle cx="308.0" cy="178.2" r="0.32" fill="#8a8a8a"/>
<circle cx="303.4" cy="173.8" r="0.32" fill="#8a8a8a"/>
<circle cx="306.5" cy="181.5" r="0.32" fill="#8a8a8a"/>
<circle cx="307.1" cy="172.0" r="0.32" fill="#8a8a8a"/>
<circle cx="320.1" cy="182.0" r="0.32" fill="#8a8a8a"/>
<circle cx="315.5" cy="196.6" r="0.32" fill="#8a8a8a"/>
<circle cx="295.1" cy="154.4" r="0.32" fill="#8a8a8a"/>
<circle cx="314.3" cy="172.6" r="0.32" fill="#8a8a8a"/>
<circle cx="303.7" cy="174.4" r="0.32" fill="#8a8a8a"/>
<circle cx="304.2" cy="161.3" r="0.32" fill="#8a8a8a"/>
<circle cx="302.1" cy="171.5" r="0.32" fill="#8a8a8a"/>
<circle cx="302.9" cy="145.3" r="0.32" fill="#8a8a8a"/>
<circle cx="310.4" cy="182.6" r="0.32" fill="#8a8a8a"/>
<circle cx="287.5" cy="167.7" r="0.32" fill="#8a8a8a"/>
<circle cx="303.3" cy="186.8" r="0.32" fill="#8a8a8a"/>
<circle cx="303.0" cy="197.4" r="0.32" fill="#8a8a8a"/>
<circle cx="303.2" cy="164.0" r="0.32" fill="#8a8a8a"/>
<circle cx="296.9" cy="188.4" r="0.32" fill="#8a8a8a"/>
<circle cx="297.5" cy="189.8" r="0.32" fill="#8a8a8a"/>
<circle cx="330.2" cy="161.5" r="0.32" fill="#8a8a8a"/>
<circle cx="330.1" cy="157.0" r="0.32" fill="#8a8a8a"/>
<circle cx="321.9" cy="154.4" r="0.32" fill="#8a8a8a"/>
<circle cx="317.1" cy="148.6" r="0.32" fill="#8a8a8a"/>
<circle cx="317.6" cy="151.6" r="0.32" fill="#8a8a8a"/>
<circle cx="310.6" cy="158.9" r="0.32" fill="#8a8a8a"/>
<circle cx="325.6" cy="155.9" r="0.32" fill="#8a8a8a"/>
<circle cx="332.9" cy="163.6" r="0.32" fill="#8a8a8a"/>
<circle cx="330.4" cy="154.4" r="0.32" fill="#8a8a8a"/>
<circle cx="310.1" cy="161.3" r="0.32" fill="#8a8a8a"/>
<circle cx="324.5" cy="162.4" r="0.32" fill="#8a8a8a"/>
<circle cx="325.3" cy="165.6" r="0.32" fill="#8a8a8a"/>
<circle cx="319.7" cy="162.0" r="0.32" fill="#8a8a8a"/>
<circle cx="318.4" cy="167.0" r="0.32" fill="#8a8a8a"/>
<circle cx="308.6" cy="164.1" r="0.32" fill="#8a8a8a"/>
<circle cx="316.6" cy="155.6" r="0.32" fill="#8a8a8a"/>
<circle cx="322.3" cy="159.3" r="0.32" fill="#8a8a8a"/>
<circle cx="314.2" cy="158.8" r="0.32" fill="#8a8a8a"/>
<circle cx="325.6" cy="163.0" r="0.32" fill="#8a8a8a"/>
<circle cx="316.0" cy="167.3" r="0.32" fill="#8a8a8a"/>
<circle cx="337.3" cy="172.5" r="0.32" fill="#8a8a8a"/>
<circle cx="311.3" cy="159.0" r="0.32" fill="#8a8a8a"/>
<circle cx="307.1" cy="160.3" r="0.32" fill="#8a8a8a"/>
<circle cx="326.4" cy="151.1" r="0.32" fill="#8a8a8a"/>
<circle cx="309.3" cy="159.1" r="0.32" fill="#8a8a8a"/>
<circle cx="327.0" cy="153.2" r="0.32" fill="#8a8a8a"/>
<circle cx="316.3" cy="158.9" r="0.32" fill="#8a8a8a"/>
<circle cx="323.2" cy="167.5" r="0.32" fill="#8a8a8a"/>
<circle cx="325.6" cy="154.5" r="0.32" fill="#8a8a8a"/>
<circle cx="324.3" cy="162.3" r="0.32" fill="#8a8a8a"/>
<circle cx="326.8" cy="166.7" r="0.32" fill="#8a8a8a"/>
<circle cx="332.8" cy="148.0" r="0.32" fill="#8a8a8a"/>
<circle cx="321.5" cy="170.0" r="0.32" fill="#8a8a8a"/>
<circle cx="318.7" cy="163.8" r="0.32" fill="#8a8a8a"/>
<circle cx="321.6" cy="155.5" r="0.32" fill="#8a8a8a"/>
<circle cx="334.7" cy="164.3" r="0.32" fill="#8a8a8a"/>
<circle cx="320.1" cy="163.4" r="0.32" fill="#8a8a8a"/>
<g filter="url(#blur1)">
<path d="M291.00,165.00 C291.50,162.00 291.67,156.67 293.00,154.00 C294.33,151.33 296.67,149.92 299.00,149.00 C301.33,148.08 304.67,148.00 307.00,148.50 C309.33,149.00 311.67,149.75 313.00,152.00 C314.33,154.25 314.75,158.17 315.00,162.00 C315.25,165.83 314.83,171.00 314.50,175.00 C314.17,179.00 314.08,183.00 313.00,186.00 C311.92,189.00 310.17,191.33 308.00,193.00 C305.83,194.67 302.50,196.17 300.00,196.00 C297.50,195.83 294.58,194.33 293.00,192.00 C291.42,189.67 291.00,185.33 290.50,182.00 C290.00,178.67 289.92,174.83 290.00,172.00 C290.08,169.17 290.50,168.00 291.00,165.00 Z" fill="#ececec" stroke="none" stroke-width="0" />
<path d="M291.00,165.00 C291.50,162.00 291.67,156.67 293.00,154.00 C294.33,151.33 296.67,149.92 299.00,149.00 C301.33,148.08 304.67,148.00 307.00,148.50 C309.33,149.00 311.67,149.75 313.00,152.00 C314.33,154.25 314.75,158.17 315.00,162.00 C315.25,165.83 314.83,171.00 314.50,175.00 C314.17,179.00 314.08,183.00 313.00,186.00 C311.92,189.00 310.17,191.33 308.00,193.00 C305.83,194.67 302.50,196.17 300.00,196.00 C297.50,195.83 294.58,194.33 293.00,192.00 C291.42,189.67 291.00,185.33 290.50,182.00 C290.00,178.67 289.92,174.83 290.00,172.00 C290.08,169.17 290.50,168.00 291.00,165.00 Z" fill="#e0e0e0" transform="translate(304.0 174) scale(0.82) translate(-304.0 -174)"/>
<path d="M291.00,165.00 C291.50,162.00 291.67,156.67 293.00,154.00 C294.33,151.33 296.67,149.92 299.00,149.00 C301.33,148.08 304.67,148.00 307.00,148.50 C309.33,149.00 311.67,149.75 313.00,152.00 C314.33,154.25 314.75,158.17 315.00,162.00 C315.25,165.83 314.83,171.00 314.50,175.00 C314.17,179.00 314.08,183.00 313.00,186.00 C311.92,189.00 310.17,191.33 308.00,193.00 C305.83,194.67 302.50,196.17 300.00,196.00 C297.50,195.83 294.58,194.33 293.00,192.00 C291.42,189.67 291.00,185.33 290.50,182.00 C290.00,178.67 289.92,174.83 290.00,172.00 C290.08,169.17 290.50,168.00 291.00,165.00 Z" fill="#d2d2d2" transform="translate(304.0 174) scale(0.64) translate(-304.0 -174)"/>
<path d="M291.00,165.00 C291.50,162.00 291.67,156.67 293.00,154.00 C294.33,151.33 296.67,149.92 299.00,149.00 C301.33,148.08 304.67,148.00 307.00,148.50 C309.33,149.00 311.67,149.75 313.00,152.00 C314.33,154.25 314.75,158.17 315.00,162.00 C315.25,165.83 314.83,171.00 314.50,175.00 C314.17,179.00 314.08,183.00 313.00,186.00 C311.92,189.00 310.17,191.33 308.00,193.00 C305.83,194.67 302.50,196.17 300.00,196.00 C297.50,195.83 294.58,194.33 293.00,192.00 C291.42,189.67 291.00,185.33 290.50,182.00 C290.00,178.67 289.92,174.83 290.00,172.00 C290.08,169.17 290.50,168.00 291.00,165.00 Z" fill="#c6c6c6" transform="translate(304.0 174) scale(0.46) translate(-304.0 -174)"/>
<ellipse cx="308.0" cy="175" rx="3.2" ry="12" fill="#b8b8b8"/>
<ellipse cx="305.0" cy="175" rx="1.1" ry="5.5" fill="#ececec"/>
</g>
<path d="M291.00,165.00 C291.50,162.00 291.67,156.67 293.00,154.00 C294.33,151.33 296.67,149.92 299.00,149.00 C301.33,148.08 304.67,148.00 307.00,148.50 C309.33,149.00 311.67,149.75 313.00,152.00 C314.33,154.25 314.75,158.17 315.00,162.00 C315.25,165.83 314.83,171.00 314.50,175.00 C314.17,179.00 314.08,183.00 313.00,186.00 C311.92,189.00 310.17,191.33 308.00,193.00 C305.83,194.67 302.50,196.17 300.00,196.00 C297.50,195.83 294.58,194.33 293.00,192.00 C291.42,189.67 291.00,185.33 290.50,182.00 C290.00,178.67 289.92,174.83 290.00,172.00 C290.08,169.17 290.50,168.00 291.00,165.00 Z" fill="none" stroke="#7a7a7a" stroke-width="0.45" stroke-dasharray="0.6 0.7"/>
<circle cx="311.9" cy="192.3" r="0.33" fill="#555"/>
<circle cx="315.7" cy="171.4" r="0.33" fill="#555"/>
<circle cx="289.7" cy="168.9" r="0.33" fill="#555"/>
<circle cx="312.4" cy="148.5" r="0.33" fill="#555"/>
<circle cx="291.5" cy="173.5" r="0.33" fill="#555"/>
<circle cx="291.1" cy="195.7" r="0.33" fill="#555"/>
<circle cx="304.1" cy="199.6" r="0.33" fill="#555"/>
<circle cx="288.6" cy="168.0" r="0.33" fill="#555"/>
<circle cx="314.0" cy="178.9" r="0.33" fill="#555"/>
<circle cx="310.4" cy="187.3" r="0.33" fill="#555"/>
<circle cx="301.3" cy="143.7" r="0.33" fill="#555"/>
<circle cx="290.3" cy="172.1" r="0.33" fill="#555"/>
<circle cx="309.4" cy="192.7" r="0.33" fill="#555"/>
<circle cx="313.6" cy="153.8" r="0.33" fill="#555"/>
<circle cx="293.6" cy="194.1" r="0.33" fill="#555"/>
<circle cx="310.1" cy="149.2" r="0.33" fill="#555"/>
<circle cx="313.6" cy="180.5" r="0.33" fill="#555"/>
<circle cx="313.1" cy="154.3" r="0.33" fill="#555"/>
<circle cx="316.8" cy="155.4" r="0.33" fill="#555"/>
<circle cx="295.4" cy="152.8" r="0.33" fill="#555"/>
<circle cx="301.4" cy="150.1" r="0.33" fill="#555"/>
<circle cx="289.4" cy="188.0" r="0.33" fill="#555"/>
<circle cx="313.7" cy="164.4" r="0.33" fill="#555"/>
<circle cx="304.0" cy="148.8" r="0.33" fill="#555"/>
<circle cx="290.2" cy="190.7" r="0.33" fill="#555"/>
<circle cx="312.0" cy="187.7" r="0.33" fill="#555"/>
<circle cx="301.0" cy="195.4" r="0.33" fill="#555"/>
<circle cx="310.9" cy="194.8" r="0.33" fill="#555"/>
<circle cx="302.5" cy="196.4" r="0.33" fill="#555"/>
<circle cx="303.9" cy="146.9" r="0.33" fill="#555"/>
<circle cx="303.6" cy="194.8" r="0.33" fill="#555"/>
<circle cx="291.1" cy="175.0" r="0.33" fill="#555"/>
<circle cx="292.1" cy="157.6" r="0.33" fill="#555"/>
<circle cx="314.8" cy="190.3" r="0.33" fill="#555"/>
<circle cx="300.4" cy="194.0" r="0.33" fill="#555"/>
<circle cx="288.1" cy="171.0" r="0.33" fill="#555"/>
<circle cx="289.8" cy="190.1" r="0.33" fill="#555"/>
<circle cx="293.7" cy="194.2" r="0.33" fill="#555"/>
<circle cx="293.7" cy="155.1" r="0.33" fill="#555"/>
<circle cx="298.3" cy="198.1" r="0.33" fill="#555"/>
<circle cx="313.4" cy="150.0" r="0.33" fill="#555"/>
<circle cx="301.5" cy="143.3" r="0.33" fill="#555"/>
<circle cx="315.3" cy="159.0" r="0.33" fill="#555"/>
<circle cx="291.4" cy="164.5" r="0.33" fill="#555"/>
<circle cx="314.2" cy="175.0" r="0.33" fill="#555"/>
<circle cx="314.7" cy="165.6" r="0.33" fill="#555"/>
<circle cx="300.5" cy="147.3" r="0.33" fill="#555"/>
<circle cx="315.0" cy="172.6" r="0.33" fill="#555"/>
<circle cx="316.9" cy="165.2" r="0.33" fill="#555"/>
<circle cx="305.2" cy="150.2" r="0.33" fill="#555"/>
<circle cx="307.5" cy="193.9" r="0.33" fill="#555"/>
<circle cx="297.0" cy="193.4" r="0.33" fill="#555"/>
<circle cx="290.1" cy="171.6" r="0.33" fill="#555"/>
<circle cx="290.1" cy="188.0" r="0.33" fill="#555"/>
<circle cx="300.6" cy="201.2" r="0.33" fill="#555"/>
<circle cx="292.6" cy="161.6" r="0.33" fill="#555"/>
<circle cx="291.4" cy="155.2" r="0.33" fill="#555"/>
<circle cx="290.3" cy="165.8" r="0.33" fill="#555"/>
<circle cx="291.0" cy="171.4" r="0.33" fill="#555"/>
<circle cx="290.8" cy="171.1" r="0.33" fill="#555"/>
<circle cx="295.2" cy="151.6" r="0.33" fill="#555"/>
<circle cx="290.5" cy="170.5" r="0.33" fill="#555"/>
<circle cx="290.3" cy="184.2" r="0.33" fill="#555"/>
<circle cx="314.7" cy="166.5" r="0.33" fill="#555"/>
<circle cx="309.6" cy="150.3" r="0.33" fill="#555"/>
<circle cx="297.8" cy="195.9" r="0.33" fill="#555"/>
<circle cx="297.7" cy="193.1" r="0.33" fill="#555"/>
<circle cx="301.7" cy="195.0" r="0.33" fill="#555"/>
<circle cx="306.2" cy="198.2" r="0.33" fill="#555"/>
<circle cx="288.0" cy="176.4" r="0.33" fill="#555"/>
<circle cx="292.8" cy="153.9" r="0.33" fill="#555"/>
<circle cx="311.3" cy="188.2" r="0.33" fill="#555"/>
<circle cx="307.8" cy="151.6" r="0.33" fill="#555"/>
<circle cx="309.4" cy="190.1" r="0.33" fill="#555"/>
<circle cx="305.3" cy="146.8" r="0.33" fill="#555"/>
<circle cx="309.4" cy="195.4" r="0.33" fill="#555"/>
<circle cx="301.7" cy="150.3" r="0.33" fill="#555"/>
<circle cx="289.4" cy="160.3" r="0.33" fill="#555"/>
<circle cx="293.3" cy="153.4" r="0.33" fill="#555"/>
<circle cx="308.8" cy="194.4" r="0.33" fill="#555"/>
<circle cx="315.0" cy="155.4" r="0.33" fill="#555"/>
<circle cx="289.8" cy="184.3" r="0.33" fill="#555"/>
<circle cx="313.6" cy="186.7" r="0.33" fill="#555"/>
<circle cx="315.5" cy="156.3" r="0.33" fill="#555"/>
<circle cx="295.3" cy="194.2" r="0.33" fill="#555"/>
<circle cx="305.9" cy="148.1" r="0.33" fill="#555"/>
<circle cx="313.9" cy="170.3" r="0.33" fill="#555"/>
<circle cx="289.4" cy="169.9" r="0.33" fill="#555"/>
<circle cx="308.9" cy="197.2" r="0.33" fill="#555"/>
<circle cx="288.3" cy="169.0" r="0.33" fill="#555"/>
<circle cx="293.8" cy="192.3" r="0.33" fill="#555"/>
<circle cx="314.0" cy="146.8" r="0.33" fill="#555"/>
<circle cx="296.4" cy="194.4" r="0.33" fill="#555"/>
<circle cx="290.3" cy="157.8" r="0.33" fill="#555"/>
<circle cx="315.8" cy="153.9" r="0.33" fill="#555"/>
<circle cx="294.8" cy="152.3" r="0.33" fill="#555"/>
<circle cx="297.9" cy="143.6" r="0.33" fill="#555"/>
<circle cx="288.1" cy="166.0" r="0.33" fill="#555"/>
<circle cx="313.0" cy="151.2" r="0.33" fill="#555"/>
<circle cx="316.6" cy="156.8" r="0.33" fill="#555"/>
<circle cx="287.9" cy="178.0" r="0.33" fill="#555"/>
<circle cx="293.3" cy="186.2" r="0.33" fill="#555"/>
<circle cx="313.0" cy="185.2" r="0.33" fill="#555"/>
<circle cx="293.4" cy="193.0" r="0.33" fill="#555"/>
<circle cx="291.8" cy="167.4" r="0.33" fill="#555"/>
<circle cx="315.6" cy="170.3" r="0.33" fill="#555"/>
<circle cx="294.3" cy="153.8" r="0.33" fill="#555"/>
<circle cx="315.3" cy="167.9" r="0.33" fill="#555"/>
<circle cx="308.3" cy="195.8" r="0.33" fill="#555"/>
<circle cx="308.0" cy="149.4" r="0.33" fill="#555"/>
<circle cx="315.2" cy="183.5" r="0.33" fill="#555"/>
<circle cx="299.9" cy="150.1" r="0.33" fill="#555"/>
<circle cx="288.6" cy="173.2" r="0.33" fill="#555"/>
<circle cx="289.7" cy="188.1" r="0.33" fill="#555"/>
<circle cx="300.1" cy="148.0" r="0.33" fill="#555"/>
<circle cx="312.5" cy="187.9" r="0.33" fill="#555"/>
<circle cx="291.6" cy="188.4" r="0.33" fill="#555"/>
<circle cx="313.1" cy="152.0" r="0.33" fill="#555"/>
<circle cx="288.4" cy="187.1" r="0.33" fill="#555"/>
<circle cx="310.9" cy="190.9" r="0.33" fill="#555"/>
<circle cx="298.3" cy="200.7" r="0.33" fill="#555"/>
<circle cx="316.8" cy="158.4" r="0.33" fill="#555"/>
<circle cx="305.3" cy="193.2" r="0.33" fill="#555"/>
<circle cx="317.1" cy="160.3" r="0.33" fill="#555"/>
<circle cx="287.3" cy="169.5" r="0.33" fill="#555"/>
<circle cx="310.5" cy="153.7" r="0.33" fill="#555"/>
<circle cx="293.4" cy="154.4" r="0.33" fill="#555"/>
<circle cx="315.4" cy="185.5" r="0.33" fill="#555"/>
<circle cx="292.2" cy="185.8" r="0.33" fill="#555"/>
<circle cx="292.4" cy="155.2" r="0.33" fill="#555"/>
<circle cx="311.8" cy="187.0" r="0.33" fill="#555"/>
<circle cx="298.2" cy="146.5" r="0.33" fill="#555"/>
<circle cx="301.9" cy="198.4" r="0.33" fill="#555"/>
<circle cx="294.6" cy="192.8" r="0.33" fill="#555"/>
<circle cx="292.0" cy="177.6" r="0.33" fill="#555"/>
<circle cx="312.8" cy="163.5" r="0.33" fill="#555"/>
<circle cx="310.6" cy="152.2" r="0.33" fill="#555"/>
<circle cx="317.1" cy="154.9" r="0.33" fill="#555"/>
<circle cx="287.6" cy="170.1" r="0.33" fill="#555"/>
<circle cx="316.0" cy="154.9" r="0.33" fill="#555"/>
<path d="M291.00,165.00 C291.50,162.00 291.67,156.67 293.00,154.00 C294.33,151.33 296.67,149.92 299.00,149.00 C301.33,148.08 304.67,148.00 307.00,148.50 C309.33,149.00 311.67,149.75 313.00,152.00 C314.33,154.25 314.75,158.17 315.00,162.00 C315.25,165.83 314.83,171.00 314.50,175.00 C314.17,179.00 314.08,183.00 313.00,186.00 C311.92,189.00 310.17,191.33 308.00,193.00 C305.83,194.67 302.50,196.17 300.00,196.00 C297.50,195.83 294.58,194.33 293.00,192.00 C291.42,189.67 291.00,185.33 290.50,182.00 C290.00,178.67 289.92,174.83 290.00,172.00 C290.08,169.17 290.50,168.00 291.00,165.00 Z" fill="none" stroke="#9a9a9a" stroke-width="0.35" transform="translate(304.0 174) scale(0.88) translate(-304.0 -174)"/>
<path d="M291.00,165.00 C291.50,162.00 291.67,156.67 293.00,154.00 C294.33,151.33 296.67,149.92 299.00,149.00 C301.33,148.08 304.67,148.00 307.00,148.50 C309.33,149.00 311.67,149.75 313.00,152.00 C314.33,154.25 314.75,158.17 315.00,162.00 C315.25,165.83 314.83,171.00 314.50,175.00 C314.17,179.00 314.08,183.00 313.00,186.00 C311.92,189.00 310.17,191.33 308.00,193.00 C305.83,194.67 302.50,196.17 300.00,196.00 C297.50,195.83 294.58,194.33 293.00,192.00 C291.42,189.67 291.00,185.33 290.50,182.00 C290.00,178.67 289.92,174.83 290.00,172.00 C290.08,169.17 290.50,168.00 291.00,165.00 Z" fill="none" stroke="#b0b0b0" stroke-width="0.35" transform="translate(304.0 174) scale(0.74) translate(-304.0 -174)"/>
<path d="M291.00,165.00 C291.50,162.00 291.67,156.67 293.00,154.00 C294.33,151.33 296.67,149.92 299.00,149.00 C301.33,148.08 304.67,148.00 307.00,148.50 C309.33,149.00 311.67,149.75 313.00,152.00 C314.33,154.25 314.75,158.17 315.00,162.00 C315.25,165.83 314.83,171.00 314.50,175.00 C314.17,179.00 314.08,183.00 313.00,186.00 C311.92,189.00 310.17,191.33 308.00,193.00 C305.83,194.67 302.50,196.17 300.00,196.00 C297.50,195.83 294.58,194.33 293.00,192.00 C291.42,189.67 291.00,185.33 290.50,182.00 C290.00,178.67 289.92,174.83 290.00,172.00 C290.08,169.17 290.50,168.00 291.00,165.00 Z" fill="none" stroke="#bbbbbb" stroke-width="0.35" transform="translate(304.0 174) scale(0.6) translate(-304.0 -174)"/>
<path d="M313,161 C317,151 327,151 332,154 C336,157 333,162 326,162 C321,162 316,163 313,161 Z" fill="none" stroke="#999" stroke-width="0.45" stroke-dasharray="0.7 0.6"/>
<path d="M316,159 C318,155 324,154 327,157 C329,160 322,161 316,159 Z" fill="none" stroke="#aaa" stroke-width="0.4"/>
<path d="M314,158 C318,154 325,154 328,156" fill="none" stroke="#aaa" stroke-width="0.4"/>
<rect x="312.40" y="144.50" width="41.20" height="20.40" fill="none" stroke="#3a3a3a" stroke-width="0.9" />
<text x="351.60" y="153.20" font-size="7.9" text-anchor="end" stroke="#1e1e1e" stroke-width="0.14" transform="translate(351.60 153.20) scale(0.97 1) translate(-351.60 -153.20)">6.7</text>
<line x1="284.70" y1="147.50" x2="286.80" y2="147.50" stroke="#222" stroke-width="1.0" />
<line x1="284.70" y1="162.38" x2="286.80" y2="162.38" stroke="#222" stroke-width="1.0" />
<line x1="284.70" y1="177.25" x2="286.80" y2="177.25" stroke="#222" stroke-width="1.0" />
<line x1="284.70" y1="192.12" x2="286.80" y2="192.12" stroke="#222" stroke-width="1.0" />
<line x1="284.70" y1="207.00" x2="286.80" y2="207.00" stroke="#222" stroke-width="1.0" />
<line x1="290.50" y1="209.70" x2="290.50" y2="211.90" stroke="#222" stroke-width="1.0" />
<line x1="305.27" y1="209.70" x2="305.27" y2="211.90" stroke="#222" stroke-width="1.0" />
<line x1="320.05" y1="209.70" x2="320.05" y2="211.90" stroke="#222" stroke-width="1.0" />
<line x1="334.83" y1="209.70" x2="334.83" y2="211.90" stroke="#222" stroke-width="1.0" />
<line x1="349.60" y1="209.70" x2="349.60" y2="211.90" stroke="#222" stroke-width="1.0" />
<line x1="285.40" y1="151.22" x2="286.50" y2="151.22" stroke="#333" stroke-width="0.6" />
<line x1="294.19" y1="210.00" x2="294.19" y2="211.20" stroke="#333" stroke-width="0.6" />
<line x1="285.40" y1="154.94" x2="286.50" y2="154.94" stroke="#333" stroke-width="0.6" />
<line x1="297.89" y1="210.00" x2="297.89" y2="211.20" stroke="#333" stroke-width="0.6" />
<line x1="285.40" y1="158.66" x2="286.50" y2="158.66" stroke="#333" stroke-width="0.6" />
<line x1="301.58" y1="210.00" x2="301.58" y2="211.20" stroke="#333" stroke-width="0.6" />
<line x1="285.40" y1="166.09" x2="286.50" y2="166.09" stroke="#333" stroke-width="0.6" />
<line x1="308.97" y1="210.00" x2="308.97" y2="211.20" stroke="#333" stroke-width="0.6" />
<line x1="285.40" y1="169.81" x2="286.50" y2="169.81" stroke="#333" stroke-width="0.6" />
<line x1="312.66" y1="210.00" x2="312.66" y2="211.20" stroke="#333" stroke-width="0.6" />
<line x1="285.40" y1="173.53" x2="286.50" y2="173.53" stroke="#333" stroke-width="0.6" />
<line x1="316.36" y1="210.00" x2="316.36" y2="211.20" stroke="#333" stroke-width="0.6" />
<line x1="285.40" y1="180.97" x2="286.50" y2="180.97" stroke="#333" stroke-width="0.6" />
<line x1="323.74" y1="210.00" x2="323.74" y2="211.20" stroke="#333" stroke-width="0.6" />
<line x1="285.40" y1="184.69" x2="286.50" y2="184.69" stroke="#333" stroke-width="0.6" />
<line x1="327.44" y1="210.00" x2="327.44" y2="211.20" stroke="#333" stroke-width="0.6" />
<line x1="285.40" y1="188.41" x2="286.50" y2="188.41" stroke="#333" stroke-width="0.6" />
<line x1="331.13" y1="210.00" x2="331.13" y2="211.20" stroke="#333" stroke-width="0.6" />
<line x1="285.40" y1="195.84" x2="286.50" y2="195.84" stroke="#333" stroke-width="0.6" />
<line x1="338.52" y1="210.00" x2="338.52" y2="211.20" stroke="#333" stroke-width="0.6" />
<line x1="285.40" y1="199.56" x2="286.50" y2="199.56" stroke="#333" stroke-width="0.6" />
<line x1="342.21" y1="210.00" x2="342.21" y2="211.20" stroke="#333" stroke-width="0.6" />
<line x1="285.40" y1="203.28" x2="286.50" y2="203.28" stroke="#333" stroke-width="0.6" />
<line x1="345.91" y1="210.00" x2="345.91" y2="211.20" stroke="#333" stroke-width="0.6" />
<line x1="289.50" y1="210.90" x2="301.50" y2="210.90" stroke="#555" stroke-width="0.8" />
<rect x="295.90" y="209.90" width="2.20" height="2.20" fill="#111" stroke="none" stroke-width="0.8" />
<rect x="354.40" y="144.50" width="66.20" height="65.50" fill="#fff" stroke="#8a8a8a" stroke-width="0.8" />
<circle cx="368.3" cy="179.7" r="0.32" fill="#8a8a8a"/>
<circle cx="360.6" cy="196.2" r="0.32" fill="#8a8a8a"/>
<circle cx="371.3" cy="159.2" r="0.32" fill="#8a8a8a"/>
<circle cx="358.1" cy="180.9" r="0.32" fill="#8a8a8a"/>
<circle cx="358.6" cy="183.1" r="0.32" fill="#8a8a8a"/>
<circle cx="372.0" cy="168.9" r="0.32" fill="#8a8a8a"/>
<circle cx="372.3" cy="169.8" r="0.32" fill="#8a8a8a"/>
<circle cx="385.8" cy="170.9" r="0.32" fill="#8a8a8a"/>
<circle cx="372.5" cy="186.6" r="0.32" fill="#8a8a8a"/>
<circle cx="369.9" cy="181.4" r="0.32" fill="#8a8a8a"/>
<circle cx="378.1" cy="175.1" r="0.32" fill="#8a8a8a"/>
<circle cx="372.1" cy="172.0" r="0.32" fill="#8a8a8a"/>
<circle cx="387.1" cy="179.5" r="0.32" fill="#8a8a8a"/>
<circle cx="364.7" cy="161.3" r="0.32" fill="#8a8a8a"/>
<circle cx="369.4" cy="170.9" r="0.32" fill="#8a8a8a"/>
<circle cx="359.6" cy="173.2" r="0.32" fill="#8a8a8a"/>
<circle cx="376.4" cy="192.1" r="0.32" fill="#8a8a8a"/>
<circle cx="364.3" cy="191.9" r="0.32" fill="#8a8a8a"/>
<circle cx="363.5" cy="185.7" r="0.32" fill="#8a8a8a"/>
<circle cx="361.3" cy="191.7" r="0.32" fill="#8a8a8a"/>
<circle cx="390.0" cy="173.0" r="0.32" fill="#8a8a8a"/>
<circle cx="380.1" cy="156.7" r="0.32" fill="#8a8a8a"/>
<circle cx="368.4" cy="184.1" r="0.32" fill="#8a8a8a"/>
<circle cx="362.0" cy="193.9" r="0.32" fill="#8a8a8a"/>
<circle cx="359.2" cy="181.7" r="0.32" fill="#8a8a8a"/>
<circle cx="380.0" cy="175.5" r="0.32" fill="#8a8a8a"/>
<circle cx="357.3" cy="184.0" r="0.32" fill="#8a8a8a"/>
<circle cx="377.6" cy="183.2" r="0.32" fill="#8a8a8a"/>
<circle cx="378.0" cy="157.1" r="0.32" fill="#8a8a8a"/>
<circle cx="385.5" cy="187.0" r="0.32" fill="#8a8a8a"/>
<circle cx="364.8" cy="184.2" r="0.32" fill="#8a8a8a"/>
<circle cx="367.0" cy="164.1" r="0.32" fill="#8a8a8a"/>
<circle cx="365.7" cy="192.8" r="0.32" fill="#8a8a8a"/>
<circle cx="362.0" cy="185.0" r="0.32" fill="#8a8a8a"/>
<circle cx="358.4" cy="153.7" r="0.32" fill="#8a8a8a"/>
<circle cx="364.6" cy="173.0" r="0.32" fill="#8a8a8a"/>
<circle cx="370.6" cy="190.2" r="0.32" fill="#8a8a8a"/>
<circle cx="365.3" cy="171.9" r="0.32" fill="#8a8a8a"/>
<circle cx="375.9" cy="183.0" r="0.32" fill="#8a8a8a"/>
<circle cx="368.5" cy="180.4" r="0.32" fill="#8a8a8a"/>
<circle cx="377.1" cy="153.5" r="0.32" fill="#8a8a8a"/>
<circle cx="377.3" cy="169.2" r="0.32" fill="#8a8a8a"/>
<circle cx="367.1" cy="170.5" r="0.32" fill="#8a8a8a"/>
<circle cx="375.4" cy="167.7" r="0.32" fill="#8a8a8a"/>
<circle cx="367.7" cy="185.8" r="0.32" fill="#8a8a8a"/>
<circle cx="374.4" cy="160.1" r="0.32" fill="#8a8a8a"/>
<circle cx="370.8" cy="178.7" r="0.32" fill="#8a8a8a"/>
<circle cx="368.3" cy="178.4" r="0.32" fill="#8a8a8a"/>
<circle cx="371.8" cy="169.3" r="0.32" fill="#8a8a8a"/>
<circle cx="367.6" cy="190.7" r="0.32" fill="#8a8a8a"/>
<circle cx="359.4" cy="175.9" r="0.32" fill="#8a8a8a"/>
<circle cx="359.9" cy="162.1" r="0.32" fill="#8a8a8a"/>
<circle cx="365.3" cy="179.5" r="0.32" fill="#8a8a8a"/>
<circle cx="382.7" cy="174.2" r="0.32" fill="#8a8a8a"/>
<circle cx="377.4" cy="184.6" r="0.32" fill="#8a8a8a"/>
<circle cx="370.1" cy="177.8" r="0.32" fill="#8a8a8a"/>
<circle cx="359.6" cy="178.8" r="0.32" fill="#8a8a8a"/>
<circle cx="382.3" cy="160.9" r="0.32" fill="#8a8a8a"/>
<circle cx="364.4" cy="189.7" r="0.32" fill="#8a8a8a"/>
<circle cx="371.7" cy="190.3" r="0.32" fill="#8a8a8a"/>
<circle cx="379.9" cy="187.6" r="0.32" fill="#8a8a8a"/>
<circle cx="389.8" cy="182.4" r="0.32" fill="#8a8a8a"/>
<circle cx="357.4" cy="174.3" r="0.32" fill="#8a8a8a"/>
<circle cx="374.6" cy="182.2" r="0.32" fill="#8a8a8a"/>
<circle cx="361.9" cy="174.2" r="0.32" fill="#8a8a8a"/>
<circle cx="382.2" cy="174.7" r="0.32" fill="#8a8a8a"/>
<circle cx="363.0" cy="175.3" r="0.32" fill="#8a8a8a"/>
<circle cx="363.2" cy="205.6" r="0.32" fill="#8a8a8a"/>
<circle cx="376.4" cy="189.8" r="0.32" fill="#8a8a8a"/>
<circle cx="362.9" cy="168.0" r="0.32" fill="#8a8a8a"/>
<circle cx="371.3" cy="146.5" r="0.32" fill="#8a8a8a"/>
<circle cx="378.2" cy="159.1" r="0.32" fill="#8a8a8a"/>
<circle cx="369.9" cy="181.7" r="0.32" fill="#8a8a8a"/>
<circle cx="361.9" cy="182.0" r="0.32" fill="#8a8a8a"/>
<circle cx="375.3" cy="203.6" r="0.32" fill="#8a8a8a"/>
<circle cx="372.5" cy="202.5" r="0.32" fill="#8a8a8a"/>
<circle cx="373.2" cy="174.3" r="0.32" fill="#8a8a8a"/>
<circle cx="376.8" cy="169.7" r="0.32" fill="#8a8a8a"/>
<circle cx="370.4" cy="185.7" r="0.32" fill="#8a8a8a"/>
<circle cx="379.3" cy="180.9" r="0.32" fill="#8a8a8a"/>
<circle cx="355.9" cy="195.2" r="0.32" fill="#8a8a8a"/>
<circle cx="370.5" cy="172.8" r="0.32" fill="#8a8a8a"/>
<circle cx="361.7" cy="185.1" r="0.32" fill="#8a8a8a"/>
<circle cx="372.0" cy="186.6" r="0.32" fill="#8a8a8a"/>
<circle cx="367.8" cy="198.5" r="0.32" fill="#8a8a8a"/>
<circle cx="366.7" cy="182.7" r="0.32" fill="#8a8a8a"/>
<circle cx="370.8" cy="191.9" r="0.32" fill="#8a8a8a"/>
<circle cx="362.8" cy="172.8" r="0.32" fill="#8a8a8a"/>
<circle cx="367.0" cy="167.7" r="0.32" fill="#8a8a8a"/>
<circle cx="363.1" cy="160.1" r="0.32" fill="#8a8a8a"/>
<circle cx="375.7" cy="197.9" r="0.32" fill="#8a8a8a"/>
<circle cx="360.2" cy="187.8" r="0.32" fill="#8a8a8a"/>
<circle cx="358.7" cy="165.6" r="0.32" fill="#8a8a8a"/>
<circle cx="366.1" cy="178.7" r="0.32" fill="#8a8a8a"/>
<circle cx="373.1" cy="150.0" r="0.32" fill="#8a8a8a"/>
<circle cx="357.2" cy="178.1" r="0.32" fill="#8a8a8a"/>
<circle cx="366.8" cy="206.8" r="0.32" fill="#8a8a8a"/>
<circle cx="366.5" cy="167.9" r="0.32" fill="#8a8a8a"/>
<circle cx="363.4" cy="177.9" r="0.32" fill="#8a8a8a"/>
<circle cx="367.3" cy="164.5" r="0.32" fill="#8a8a8a"/>
<circle cx="367.7" cy="158.6" r="0.32" fill="#8a8a8a"/>
<circle cx="377.6" cy="187.7" r="0.32" fill="#8a8a8a"/>
<circle cx="375.1" cy="164.1" r="0.32" fill="#8a8a8a"/>
<circle cx="359.1" cy="182.4" r="0.32" fill="#8a8a8a"/>
<circle cx="370.2" cy="182.9" r="0.32" fill="#8a8a8a"/>
<circle cx="369.8" cy="159.3" r="0.32" fill="#8a8a8a"/>
<circle cx="362.8" cy="204.9" r="0.32" fill="#8a8a8a"/>
<circle cx="377.4" cy="165.4" r="0.32" fill="#8a8a8a"/>
<circle cx="386.1" cy="175.1" r="0.32" fill="#8a8a8a"/>
<circle cx="368.9" cy="165.4" r="0.32" fill="#8a8a8a"/>
<circle cx="382.5" cy="178.4" r="0.32" fill="#8a8a8a"/>
<circle cx="368.2" cy="164.0" r="0.32" fill="#8a8a8a"/>
<circle cx="357.5" cy="179.4" r="0.32" fill="#8a8a8a"/>
<circle cx="369.0" cy="198.7" r="0.32" fill="#8a8a8a"/>
<circle cx="360.8" cy="171.7" r="0.32" fill="#8a8a8a"/>
<circle cx="377.8" cy="188.3" r="0.32" fill="#8a8a8a"/>
<circle cx="362.9" cy="197.4" r="0.32" fill="#8a8a8a"/>
<circle cx="373.2" cy="189.4" r="0.32" fill="#8a8a8a"/>
<circle cx="372.1" cy="190.5" r="0.32" fill="#8a8a8a"/>
<circle cx="365.2" cy="173.9" r="0.32" fill="#8a8a8a"/>
<circle cx="378.7" cy="182.4" r="0.32" fill="#8a8a8a"/>
<circle cx="372.2" cy="192.8" r="0.32" fill="#8a8a8a"/>
<circle cx="371.1" cy="182.6" r="0.32" fill="#8a8a8a"/>
<circle cx="376.3" cy="164.6" r="0.32" fill="#8a8a8a"/>
<circle cx="366.3" cy="180.1" r="0.32" fill="#8a8a8a"/>
<circle cx="367.7" cy="189.0" r="0.32" fill="#8a8a8a"/>
<circle cx="373.2" cy="174.5" r="0.32" fill="#8a8a8a"/>
<circle cx="378.7" cy="171.9" r="0.32" fill="#8a8a8a"/>
<circle cx="362.6" cy="181.4" r="0.32" fill="#8a8a8a"/>
<circle cx="374.6" cy="174.9" r="0.32" fill="#8a8a8a"/>
<circle cx="359.3" cy="169.7" r="0.32" fill="#8a8a8a"/>
<circle cx="371.0" cy="186.4" r="0.32" fill="#8a8a8a"/>
<circle cx="384.9" cy="174.7" r="0.32" fill="#8a8a8a"/>
<circle cx="367.0" cy="146.9" r="0.32" fill="#8a8a8a"/>
<circle cx="380.4" cy="189.7" r="0.32" fill="#8a8a8a"/>
<circle cx="369.0" cy="167.0" r="0.32" fill="#8a8a8a"/>
<circle cx="361.9" cy="198.0" r="0.32" fill="#8a8a8a"/>
<circle cx="375.8" cy="194.9" r="0.32" fill="#8a8a8a"/>
<circle cx="367.7" cy="193.6" r="0.32" fill="#8a8a8a"/>
<circle cx="356.4" cy="197.3" r="0.32" fill="#8a8a8a"/>
<circle cx="368.7" cy="160.4" r="0.32" fill="#8a8a8a"/>
<circle cx="365.3" cy="163.3" r="0.32" fill="#8a8a8a"/>
<circle cx="371.3" cy="166.8" r="0.32" fill="#8a8a8a"/>
<circle cx="357.5" cy="171.9" r="0.32" fill="#8a8a8a"/>
<circle cx="366.9" cy="179.8" r="0.32" fill="#8a8a8a"/>
<circle cx="375.2" cy="194.5" r="0.32" fill="#8a8a8a"/>
<circle cx="372.6" cy="199.9" r="0.32" fill="#8a8a8a"/>
<circle cx="377.4" cy="158.6" r="0.32" fill="#8a8a8a"/>
<circle cx="392.9" cy="157.3" r="0.32" fill="#8a8a8a"/>
<circle cx="379.5" cy="152.5" r="0.32" fill="#8a8a8a"/>
<circle cx="400.9" cy="154.1" r="0.32" fill="#8a8a8a"/>
<circle cx="410.3" cy="170.1" r="0.32" fill="#8a8a8a"/>
<circle cx="394.2" cy="149.1" r="0.32" fill="#8a8a8a"/>
<circle cx="394.6" cy="152.6" r="0.32" fill="#8a8a8a"/>
<circle cx="380.7" cy="153.6" r="0.32" fill="#8a8a8a"/>
<circle cx="390.3" cy="153.8" r="0.32" fill="#8a8a8a"/>
<circle cx="404.1" cy="162.4" r="0.32" fill="#8a8a8a"/>
<circle cx="399.1" cy="153.8" r="0.32" fill="#8a8a8a"/>
<circle cx="399.2" cy="156.1" r="0.32" fill="#8a8a8a"/>
<circle cx="397.2" cy="150.2" r="0.32" fill="#8a8a8a"/>
<circle cx="364.2" cy="161.3" r="0.32" fill="#8a8a8a"/>
<circle cx="389.0" cy="153.0" r="0.32" fill="#8a8a8a"/>
<circle cx="394.8" cy="155.6" r="0.32" fill="#8a8a8a"/>
<circle cx="392.0" cy="165.1" r="0.32" fill="#8a8a8a"/>
<circle cx="396.2" cy="157.4" r="0.32" fill="#8a8a8a"/>
<circle cx="386.1" cy="155.4" r="0.32" fill="#8a8a8a"/>
<circle cx="399.6" cy="155.5" r="0.32" fill="#8a8a8a"/>
<circle cx="398.2" cy="150.4" r="0.32" fill="#8a8a8a"/>
<circle cx="398.7" cy="149.9" r="0.32" fill="#8a8a8a"/>
<circle cx="390.6" cy="151.4" r="0.32" fill="#8a8a8a"/>
<circle cx="396.7" cy="162.5" r="0.32" fill="#8a8a8a"/>
<circle cx="397.9" cy="150.7" r="0.32" fill="#8a8a8a"/>
<circle cx="396.3" cy="162.2" r="0.32" fill="#8a8a8a"/>
<g filter="url(#blur1)">
<path d="M358.00,166.50 C358.50,163.50 358.67,158.17 360.00,155.50 C361.33,152.83 363.67,151.42 366.00,150.50 C368.33,149.58 371.67,149.50 374.00,150.00 C376.33,150.50 378.67,151.25 380.00,153.50 C381.33,155.75 381.75,159.67 382.00,163.50 C382.25,167.33 381.83,172.50 381.50,176.50 C381.17,180.50 381.08,184.50 380.00,187.50 C378.92,190.50 377.17,192.83 375.00,194.50 C372.83,196.17 369.50,197.67 367.00,197.50 C364.50,197.33 361.58,195.83 360.00,193.50 C358.42,191.17 358.00,186.83 357.50,183.50 C357.00,180.17 356.92,176.33 357.00,173.50 C357.08,170.67 357.50,169.50 358.00,166.50 Z" fill="#ececec" stroke="none" stroke-width="0" />
<path d="M358.00,166.50 C358.50,163.50 358.67,158.17 360.00,155.50 C361.33,152.83 363.67,151.42 366.00,150.50 C368.33,149.58 371.67,149.50 374.00,150.00 C376.33,150.50 378.67,151.25 380.00,153.50 C381.33,155.75 381.75,159.67 382.00,163.50 C382.25,167.33 381.83,172.50 381.50,176.50 C381.17,180.50 381.08,184.50 380.00,187.50 C378.92,190.50 377.17,192.83 375.00,194.50 C372.83,196.17 369.50,197.67 367.00,197.50 C364.50,197.33 361.58,195.83 360.00,193.50 C358.42,191.17 358.00,186.83 357.50,183.50 C357.00,180.17 356.92,176.33 357.00,173.50 C357.08,170.67 357.50,169.50 358.00,166.50 Z" fill="#e0e0e0" transform="translate(371.0 175.5) scale(0.82) translate(-371.0 -175.5)"/>
<path d="M358.00,166.50 C358.50,163.50 358.67,158.17 360.00,155.50 C361.33,152.83 363.67,151.42 366.00,150.50 C368.33,149.58 371.67,149.50 374.00,150.00 C376.33,150.50 378.67,151.25 380.00,153.50 C381.33,155.75 381.75,159.67 382.00,163.50 C382.25,167.33 381.83,172.50 381.50,176.50 C381.17,180.50 381.08,184.50 380.00,187.50 C378.92,190.50 377.17,192.83 375.00,194.50 C372.83,196.17 369.50,197.67 367.00,197.50 C364.50,197.33 361.58,195.83 360.00,193.50 C358.42,191.17 358.00,186.83 357.50,183.50 C357.00,180.17 356.92,176.33 357.00,173.50 C357.08,170.67 357.50,169.50 358.00,166.50 Z" fill="#d2d2d2" transform="translate(371.0 175.5) scale(0.64) translate(-371.0 -175.5)"/>
<path d="M358.00,166.50 C358.50,163.50 358.67,158.17 360.00,155.50 C361.33,152.83 363.67,151.42 366.00,150.50 C368.33,149.58 371.67,149.50 374.00,150.00 C376.33,150.50 378.67,151.25 380.00,153.50 C381.33,155.75 381.75,159.67 382.00,163.50 C382.25,167.33 381.83,172.50 381.50,176.50 C381.17,180.50 381.08,184.50 380.00,187.50 C378.92,190.50 377.17,192.83 375.00,194.50 C372.83,196.17 369.50,197.67 367.00,197.50 C364.50,197.33 361.58,195.83 360.00,193.50 C358.42,191.17 358.00,186.83 357.50,183.50 C357.00,180.17 356.92,176.33 357.00,173.50 C357.08,170.67 357.50,169.50 358.00,166.50 Z" fill="#c6c6c6" transform="translate(371.0 175.5) scale(0.46) translate(-371.0 -175.5)"/>
<ellipse cx="375.0" cy="176.5" rx="3.2" ry="12" fill="#b8b8b8"/>
<ellipse cx="372.0" cy="176.5" rx="1.1" ry="5.5" fill="#ececec"/>
</g>
<path d="M358.00,166.50 C358.50,163.50 358.67,158.17 360.00,155.50 C361.33,152.83 363.67,151.42 366.00,150.50 C368.33,149.58 371.67,149.50 374.00,150.00 C376.33,150.50 378.67,151.25 380.00,153.50 C381.33,155.75 381.75,159.67 382.00,163.50 C382.25,167.33 381.83,172.50 381.50,176.50 C381.17,180.50 381.08,184.50 380.00,187.50 C378.92,190.50 377.17,192.83 375.00,194.50 C372.83,196.17 369.50,197.67 367.00,197.50 C364.50,197.33 361.58,195.83 360.00,193.50 C358.42,191.17 358.00,186.83 357.50,183.50 C357.00,180.17 356.92,176.33 357.00,173.50 C357.08,170.67 357.50,169.50 358.00,166.50 Z" fill="none" stroke="#7a7a7a" stroke-width="0.45" stroke-dasharray="0.6 0.7"/>
<circle cx="360.7" cy="153.7" r="0.33" fill="#555"/>
<circle cx="376.3" cy="192.9" r="0.33" fill="#555"/>
<circle cx="380.0" cy="157.9" r="0.33" fill="#555"/>
<circle cx="359.2" cy="195.3" r="0.33" fill="#555"/>
<circle cx="380.8" cy="185.9" r="0.33" fill="#555"/>
<circle cx="359.5" cy="192.3" r="0.33" fill="#555"/>
<circle cx="377.8" cy="193.7" r="0.33" fill="#555"/>
<circle cx="356.9" cy="168.5" r="0.33" fill="#555"/>
<circle cx="362.6" cy="151.1" r="0.33" fill="#555"/>
<circle cx="357.1" cy="173.4" r="0.33" fill="#555"/>
<circle cx="357.3" cy="163.7" r="0.33" fill="#555"/>
<circle cx="357.6" cy="158.4" r="0.33" fill="#555"/>
<circle cx="380.1" cy="153.7" r="0.33" fill="#555"/>
<circle cx="360.4" cy="150.7" r="0.33" fill="#555"/>
<circle cx="369.9" cy="151.2" r="0.33" fill="#555"/>
<circle cx="359.1" cy="194.9" r="0.33" fill="#555"/>
<circle cx="368.9" cy="198.6" r="0.33" fill="#555"/>
<circle cx="359.0" cy="154.2" r="0.33" fill="#555"/>
<circle cx="364.4" cy="199.2" r="0.33" fill="#555"/>
<circle cx="375.0" cy="192.4" r="0.33" fill="#555"/>
<circle cx="376.5" cy="150.3" r="0.33" fill="#555"/>
<circle cx="372.3" cy="199.3" r="0.33" fill="#555"/>
<circle cx="371.5" cy="149.9" r="0.33" fill="#555"/>
<circle cx="377.9" cy="194.1" r="0.33" fill="#555"/>
<circle cx="361.5" cy="154.8" r="0.33" fill="#555"/>
<circle cx="355.7" cy="179.7" r="0.33" fill="#555"/>
<circle cx="357.4" cy="158.2" r="0.33" fill="#555"/>
<circle cx="364.1" cy="196.1" r="0.33" fill="#555"/>
<circle cx="370.0" cy="146.9" r="0.33" fill="#555"/>
<circle cx="360.3" cy="150.5" r="0.33" fill="#555"/>
<circle cx="381.5" cy="183.5" r="0.33" fill="#555"/>
<circle cx="372.5" cy="198.8" r="0.33" fill="#555"/>
<circle cx="354.6" cy="176.8" r="0.33" fill="#555"/>
<circle cx="364.2" cy="147.6" r="0.33" fill="#555"/>
<circle cx="377.6" cy="198.2" r="0.33" fill="#555"/>
<circle cx="356.7" cy="176.1" r="0.33" fill="#555"/>
<circle cx="357.2" cy="186.8" r="0.33" fill="#555"/>
<circle cx="358.7" cy="173.2" r="0.33" fill="#555"/>
<circle cx="381.1" cy="154.0" r="0.33" fill="#555"/>
<circle cx="358.8" cy="151.4" r="0.33" fill="#555"/>
<circle cx="357.9" cy="171.9" r="0.33" fill="#555"/>
<circle cx="378.7" cy="153.6" r="0.33" fill="#555"/>
<circle cx="382.5" cy="166.3" r="0.33" fill="#555"/>
<circle cx="355.2" cy="172.1" r="0.33" fill="#555"/>
<circle cx="376.2" cy="152.8" r="0.33" fill="#555"/>
<circle cx="354.1" cy="176.2" r="0.33" fill="#555"/>
<circle cx="381.1" cy="170.6" r="0.33" fill="#555"/>
<circle cx="381.0" cy="149.1" r="0.33" fill="#555"/>
<circle cx="382.5" cy="152.2" r="0.33" fill="#555"/>
<circle cx="381.7" cy="165.0" r="0.33" fill="#555"/>
<circle cx="375.1" cy="152.1" r="0.33" fill="#555"/>
<circle cx="357.3" cy="180.8" r="0.33" fill="#555"/>
<circle cx="362.2" cy="152.7" r="0.33" fill="#555"/>
<circle cx="379.7" cy="157.0" r="0.33" fill="#555"/>
<circle cx="383.4" cy="172.3" r="0.33" fill="#555"/>
<circle cx="366.8" cy="145.9" r="0.33" fill="#555"/>
<circle cx="382.2" cy="186.7" r="0.33" fill="#555"/>
<circle cx="379.7" cy="162.1" r="0.33" fill="#555"/>
<circle cx="380.6" cy="182.0" r="0.33" fill="#555"/>
<circle cx="370.2" cy="145.4" r="0.33" fill="#555"/>
<circle cx="368.0" cy="146.5" r="0.33" fill="#555"/>
<circle cx="382.6" cy="189.4" r="0.33" fill="#555"/>
<circle cx="358.5" cy="169.0" r="0.33" fill="#555"/>
<circle cx="360.8" cy="194.4" r="0.33" fill="#555"/>
<circle cx="356.9" cy="165.1" r="0.33" fill="#555"/>
<circle cx="358.6" cy="151.5" r="0.33" fill="#555"/>
<circle cx="358.0" cy="185.4" r="0.33" fill="#555"/>
<circle cx="373.0" cy="146.8" r="0.33" fill="#555"/>
<circle cx="357.2" cy="171.3" r="0.33" fill="#555"/>
<circle cx="375.3" cy="198.1" r="0.33" fill="#555"/>
<circle cx="370.4" cy="148.1" r="0.33" fill="#555"/>
<circle cx="376.8" cy="190.4" r="0.33" fill="#555"/>
<circle cx="382.4" cy="187.4" r="0.33" fill="#555"/>
<circle cx="356.8" cy="193.2" r="0.33" fill="#555"/>
<circle cx="366.1" cy="145.7" r="0.33" fill="#555"/>
<circle cx="381.7" cy="187.1" r="0.33" fill="#555"/>
<circle cx="358.6" cy="197.3" r="0.33" fill="#555"/>
<circle cx="354.6" cy="172.6" r="0.33" fill="#555"/>
<circle cx="356.9" cy="170.4" r="0.33" fill="#555"/>
<circle cx="381.5" cy="158.6" r="0.33" fill="#555"/>
<circle cx="371.1" cy="196.5" r="0.33" fill="#555"/>
<circle cx="374.5" cy="196.0" r="0.33" fill="#555"/>
<circle cx="358.5" cy="184.5" r="0.33" fill="#555"/>
<circle cx="357.7" cy="182.5" r="0.33" fill="#555"/>
<circle cx="365.3" cy="196.1" r="0.33" fill="#555"/>
<circle cx="379.8" cy="191.2" r="0.33" fill="#555"/>
<circle cx="370.3" cy="144.9" r="0.33" fill="#555"/>
<circle cx="380.1" cy="149.1" r="0.33" fill="#555"/>
<circle cx="357.2" cy="165.9" r="0.33" fill="#555"/>
<circle cx="359.0" cy="191.8" r="0.33" fill="#555"/>
<circle cx="378.0" cy="192.5" r="0.33" fill="#555"/>
<circle cx="379.5" cy="159.1" r="0.33" fill="#555"/>
<circle cx="380.4" cy="187.5" r="0.33" fill="#555"/>
<circle cx="367.1" cy="151.4" r="0.33" fill="#555"/>
<circle cx="375.2" cy="146.7" r="0.33" fill="#555"/>
<circle cx="362.1" cy="194.0" r="0.33" fill="#555"/>
<circle cx="378.9" cy="151.9" r="0.33" fill="#555"/>
<circle cx="376.1" cy="190.8" r="0.33" fill="#555"/>
<circle cx="358.0" cy="153.7" r="0.33" fill="#555"/>
<circle cx="366.5" cy="199.8" r="0.33" fill="#555"/>
<circle cx="379.7" cy="155.5" r="0.33" fill="#555"/>
<circle cx="359.2" cy="152.0" r="0.33" fill="#555"/>
<circle cx="359.8" cy="196.7" r="0.33" fill="#555"/>
<circle cx="376.1" cy="151.3" r="0.33" fill="#555"/>
<circle cx="356.2" cy="179.7" r="0.33" fill="#555"/>
<circle cx="382.2" cy="157.7" r="0.33" fill="#555"/>
<circle cx="381.6" cy="161.0" r="0.33" fill="#555"/>
<circle cx="358.1" cy="177.6" r="0.33" fill="#555"/>
<circle cx="368.8" cy="148.2" r="0.33" fill="#555"/>
<circle cx="356.8" cy="178.1" r="0.33" fill="#555"/>
<circle cx="367.7" cy="144.5" r="0.33" fill="#555"/>
<circle cx="360.8" cy="195.6" r="0.33" fill="#555"/>
<circle cx="371.3" cy="145.8" r="0.33" fill="#555"/>
<circle cx="382.1" cy="159.3" r="0.33" fill="#555"/>
<circle cx="382.2" cy="162.0" r="0.33" fill="#555"/>
<circle cx="381.7" cy="184.2" r="0.33" fill="#555"/>
<circle cx="361.3" cy="194.9" r="0.33" fill="#555"/>
<circle cx="357.0" cy="189.2" r="0.33" fill="#555"/>
<circle cx="380.1" cy="185.3" r="0.33" fill="#555"/>
<circle cx="372.1" cy="199.4" r="0.33" fill="#555"/>
<circle cx="379.4" cy="193.7" r="0.33" fill="#555"/>
<circle cx="358.8" cy="181.0" r="0.33" fill="#555"/>
<circle cx="376.9" cy="191.6" r="0.33" fill="#555"/>
<circle cx="381.1" cy="185.1" r="0.33" fill="#555"/>
<circle cx="382.7" cy="179.4" r="0.33" fill="#555"/>
<circle cx="366.3" cy="144.8" r="0.33" fill="#555"/>
<circle cx="359.6" cy="151.7" r="0.33" fill="#555"/>
<circle cx="379.0" cy="180.3" r="0.33" fill="#555"/>
<circle cx="374.3" cy="194.5" r="0.33" fill="#555"/>
<circle cx="358.1" cy="177.8" r="0.33" fill="#555"/>
<circle cx="360.0" cy="156.2" r="0.33" fill="#555"/>
<circle cx="381.2" cy="190.6" r="0.33" fill="#555"/>
<circle cx="358.7" cy="197.6" r="0.33" fill="#555"/>
<circle cx="382.4" cy="154.6" r="0.33" fill="#555"/>
<circle cx="358.6" cy="167.5" r="0.33" fill="#555"/>
<circle cx="370.8" cy="150.8" r="0.33" fill="#555"/>
<circle cx="357.9" cy="167.6" r="0.33" fill="#555"/>
<circle cx="371.5" cy="146.3" r="0.33" fill="#555"/>
<circle cx="357.2" cy="157.7" r="0.33" fill="#555"/>
<circle cx="358.1" cy="185.0" r="0.33" fill="#555"/>
<path d="M358.00,166.50 C358.50,163.50 358.67,158.17 360.00,155.50 C361.33,152.83 363.67,151.42 366.00,150.50 C368.33,149.58 371.67,149.50 374.00,150.00 C376.33,150.50 378.67,151.25 380.00,153.50 C381.33,155.75 381.75,159.67 382.00,163.50 C382.25,167.33 381.83,172.50 381.50,176.50 C381.17,180.50 381.08,184.50 380.00,187.50 C378.92,190.50 377.17,192.83 375.00,194.50 C372.83,196.17 369.50,197.67 367.00,197.50 C364.50,197.33 361.58,195.83 360.00,193.50 C358.42,191.17 358.00,186.83 357.50,183.50 C357.00,180.17 356.92,176.33 357.00,173.50 C357.08,170.67 357.50,169.50 358.00,166.50 Z" fill="none" stroke="#9a9a9a" stroke-width="0.35" transform="translate(371.0 175.5) scale(0.88) translate(-371.0 -175.5)"/>
<path d="M358.00,166.50 C358.50,163.50 358.67,158.17 360.00,155.50 C361.33,152.83 363.67,151.42 366.00,150.50 C368.33,149.58 371.67,149.50 374.00,150.00 C376.33,150.50 378.67,151.25 380.00,153.50 C381.33,155.75 381.75,159.67 382.00,163.50 C382.25,167.33 381.83,172.50 381.50,176.50 C381.17,180.50 381.08,184.50 380.00,187.50 C378.92,190.50 377.17,192.83 375.00,194.50 C372.83,196.17 369.50,197.67 367.00,197.50 C364.50,197.33 361.58,195.83 360.00,193.50 C358.42,191.17 358.00,186.83 357.50,183.50 C357.00,180.17 356.92,176.33 357.00,173.50 C357.08,170.67 357.50,169.50 358.00,166.50 Z" fill="none" stroke="#b0b0b0" stroke-width="0.35" transform="translate(371.0 175.5) scale(0.74) translate(-371.0 -175.5)"/>
<path d="M358.00,166.50 C358.50,163.50 358.67,158.17 360.00,155.50 C361.33,152.83 363.67,151.42 366.00,150.50 C368.33,149.58 371.67,149.50 374.00,150.00 C376.33,150.50 378.67,151.25 380.00,153.50 C381.33,155.75 381.75,159.67 382.00,163.50 C382.25,167.33 381.83,172.50 381.50,176.50 C381.17,180.50 381.08,184.50 380.00,187.50 C378.92,190.50 377.17,192.83 375.00,194.50 C372.83,196.17 369.50,197.67 367.00,197.50 C364.50,197.33 361.58,195.83 360.00,193.50 C358.42,191.17 358.00,186.83 357.50,183.50 C357.00,180.17 356.92,176.33 357.00,173.50 C357.08,170.67 357.50,169.50 358.00,166.50 Z" fill="none" stroke="#bbbbbb" stroke-width="0.35" transform="translate(371.0 175.5) scale(0.6) translate(-371.0 -175.5)"/>
<rect x="380.20" y="144.50" width="40.40" height="20.40" fill="none" stroke="#3a3a3a" stroke-width="0.9" />
<text x="417.60" y="153.20" font-size="7.9" text-anchor="end" stroke="#1e1e1e" stroke-width="0.14" transform="translate(417.60 153.20) scale(0.97 1) translate(-417.60 -153.20)">1.2</text>
<line x1="352.60" y1="147.50" x2="354.70" y2="147.50" stroke="#222" stroke-width="1.0" />
<line x1="352.60" y1="162.38" x2="354.70" y2="162.38" stroke="#222" stroke-width="1.0" />
<line x1="352.60" y1="177.25" x2="354.70" y2="177.25" stroke="#222" stroke-width="1.0" />
<line x1="352.60" y1="192.12" x2="354.70" y2="192.12" stroke="#222" stroke-width="1.0" />
<line x1="352.60" y1="207.00" x2="354.70" y2="207.00" stroke="#222" stroke-width="1.0" />
<line x1="358.40" y1="209.70" x2="358.40" y2="211.90" stroke="#222" stroke-width="1.0" />
<line x1="372.95" y1="209.70" x2="372.95" y2="211.90" stroke="#222" stroke-width="1.0" />
<line x1="387.50" y1="209.70" x2="387.50" y2="211.90" stroke="#222" stroke-width="1.0" />
<line x1="402.05" y1="209.70" x2="402.05" y2="211.90" stroke="#222" stroke-width="1.0" />
<line x1="416.60" y1="209.70" x2="416.60" y2="211.90" stroke="#222" stroke-width="1.0" />
<line x1="353.30" y1="151.22" x2="354.40" y2="151.22" stroke="#333" stroke-width="0.6" />
<line x1="362.04" y1="210.00" x2="362.04" y2="211.20" stroke="#333" stroke-width="0.6" />
<line x1="353.30" y1="154.94" x2="354.40" y2="154.94" stroke="#333" stroke-width="0.6" />
<line x1="365.67" y1="210.00" x2="365.67" y2="211.20" stroke="#333" stroke-width="0.6" />
<line x1="353.30" y1="158.66" x2="354.40" y2="158.66" stroke="#333" stroke-width="0.6" />
<line x1="369.31" y1="210.00" x2="369.31" y2="211.20" stroke="#333" stroke-width="0.6" />
<line x1="353.30" y1="166.09" x2="354.40" y2="166.09" stroke="#333" stroke-width="0.6" />
<line x1="376.59" y1="210.00" x2="376.59" y2="211.20" stroke="#333" stroke-width="0.6" />
<line x1="353.30" y1="169.81" x2="354.40" y2="169.81" stroke="#333" stroke-width="0.6" />
<line x1="380.23" y1="210.00" x2="380.23" y2="211.20" stroke="#333" stroke-width="0.6" />
<line x1="353.30" y1="173.53" x2="354.40" y2="173.53" stroke="#333" stroke-width="0.6" />
<line x1="383.86" y1="210.00" x2="383.86" y2="211.20" stroke="#333" stroke-width="0.6" />
<line x1="353.30" y1="180.97" x2="354.40" y2="180.97" stroke="#333" stroke-width="0.6" />
<line x1="391.14" y1="210.00" x2="391.14" y2="211.20" stroke="#333" stroke-width="0.6" />
<line x1="353.30" y1="184.69" x2="354.40" y2="184.69" stroke="#333" stroke-width="0.6" />
<line x1="394.77" y1="210.00" x2="394.77" y2="211.20" stroke="#333" stroke-width="0.6" />
<line x1="353.30" y1="188.41" x2="354.40" y2="188.41" stroke="#333" stroke-width="0.6" />
<line x1="398.41" y1="210.00" x2="398.41" y2="211.20" stroke="#333" stroke-width="0.6" />
<line x1="353.30" y1="195.84" x2="354.40" y2="195.84" stroke="#333" stroke-width="0.6" />
<line x1="405.69" y1="210.00" x2="405.69" y2="211.20" stroke="#333" stroke-width="0.6" />
<line x1="353.30" y1="199.56" x2="354.40" y2="199.56" stroke="#333" stroke-width="0.6" />
<line x1="409.33" y1="210.00" x2="409.33" y2="211.20" stroke="#333" stroke-width="0.6" />
<line x1="353.30" y1="203.28" x2="354.40" y2="203.28" stroke="#333" stroke-width="0.6" />
<line x1="412.96" y1="210.00" x2="412.96" y2="211.20" stroke="#333" stroke-width="0.6" />
<line x1="357.40" y1="210.90" x2="369.40" y2="210.90" stroke="#555" stroke-width="0.8" />
<rect x="362.90" y="209.90" width="2.20" height="2.20" fill="#111" stroke="none" stroke-width="0.8" />
<line x1="280.80" y1="197.00" x2="280.80" y2="216.30" stroke="#888" stroke-width="0.9" />
<line x1="280.80" y1="216.30" x2="301.00" y2="216.30" stroke="#888" stroke-width="0.9" />
<text x="277.60" y="206.80" font-size="7.9" text-anchor="middle" stroke="#1e1e1e" stroke-width="0.14" transform="rotate(-90 277.60 206.80) translate(277.60 206.80) scale(0.97 1) translate(-277.60 -206.80)">CD71</text>
<text x="280.60" y="225.60" font-size="7.9" stroke="#1e1e1e" stroke-width="0.14" transform="translate(280.60 225.60) scale(0.97 1) translate(-280.60 -225.60)">CD235a</text>
<rect x="333.50" y="225.20" width="9.50" height="5.80" fill="#898989" stroke="none" stroke-width="0.5" />
<text x="346.40" y="231.30" font-size="7.9" stroke="#1e1e1e" stroke-width="0.14" transform="translate(346.40 231.30) scale(0.97 1) translate(-346.40 -231.30)">AAVS1</text>
<rect x="377.50" y="225.20" width="8.90" height="5.80" fill="#ae1d24" stroke="none" stroke-width="0.5" />
<text x="389.00" y="231.30" font-size="7.9" stroke="#1e1e1e" stroke-width="0.14" transform="translate(389.00 231.30) scale(0.97 1) translate(-389.00 -231.30)">ASXL1 Trunc</text>
<rect x="441.00" y="225.20" width="8.80" height="5.80" fill="#3452ad" stroke="none" stroke-width="0.5" />
<text x="453.30" y="231.30" font-size="7.9" stroke="#1e1e1e" stroke-width="0.14" transform="translate(453.30 231.30) scale(0.97 1) translate(-453.30 -231.30)">ASXL1 KO</text>
<line x1="469.60" y1="208.10" x2="469.60" y2="147.70" stroke="#777" stroke-width="0.7" />
<line x1="467.80" y1="208.10" x2="469.60" y2="208.10" stroke="#777" stroke-width="0.7" />
<text x="465.90" y="210.70" font-size="7.9" text-anchor="end" stroke="#1e1e1e" stroke-width="0.14" transform="translate(465.90 210.70) scale(0.97 1) translate(-465.90 -210.70)">0</text>
<line x1="467.80" y1="191.40" x2="469.60" y2="191.40" stroke="#777" stroke-width="0.7" />
<text x="465.90" y="194.00" font-size="7.9" text-anchor="end" stroke="#1e1e1e" stroke-width="0.14" transform="translate(465.90 194.00) scale(0.97 1) translate(-465.90 -194.00)">5</text>
<line x1="467.80" y1="174.70" x2="469.60" y2="174.70" stroke="#777" stroke-width="0.7" />
<text x="465.90" y="177.30" font-size="7.9" text-anchor="end" stroke="#1e1e1e" stroke-width="0.14" transform="translate(465.90 177.30) scale(0.97 1) translate(-465.90 -177.30)">10</text>
<line x1="467.80" y1="158.00" x2="469.60" y2="158.00" stroke="#777" stroke-width="0.7" />
<text x="465.90" y="160.60" font-size="7.9" text-anchor="end" stroke="#1e1e1e" stroke-width="0.14" transform="translate(465.90 160.60) scale(0.97 1) translate(-465.90 -160.60)">15</text>
<text x="454.00" y="178.50" font-size="7.9" text-anchor="middle" stroke="#1e1e1e" stroke-width="0.14" transform="rotate(-90 454.00 178.50) translate(454.00 178.50) scale(0.97 1) translate(-454.00 -178.50)">CD71<tspan font-size="4.5" dy="-2.8">++</tspan><tspan dy="2.8">/CD235a</tspan><tspan font-size="4.5" dy="-2.8">+</tspan><tspan dy="2.8"> (%)</tspan></text>
<rect x="471.00" y="184.05" width="11.00" height="24.05" fill="#898989" stroke="none" stroke-width="0.5" />
<line x1="476.50" y1="184.05" x2="476.50" y2="176.37" stroke="#444" stroke-width="0.6" />
<line x1="475.40" y1="176.37" x2="477.60" y2="176.37" stroke="#444" stroke-width="0.6" />
<rect x="484.40" y="206.43" width="9.60" height="1.67" fill="#ae1d24" stroke="none" stroke-width="0.5" />
<line x1="489.20" y1="206.43" x2="489.20" y2="205.09" stroke="#444" stroke-width="0.6" />
<line x1="488.10" y1="205.09" x2="490.30" y2="205.09" stroke="#444" stroke-width="0.6" />
<rect x="496.50" y="174.70" width="10.50" height="33.40" fill="#3452ad" stroke="none" stroke-width="0.5" />
<line x1="501.75" y1="174.70" x2="501.75" y2="168.02" stroke="#444" stroke-width="0.6" />
<line x1="500.65" y1="168.02" x2="502.85" y2="168.02" stroke="#444" stroke-width="0.6" />
<circle cx="476.00" cy="163.01" r="1.5" fill="#fff" stroke="#444" stroke-width="0.55"/>
<circle cx="472.80" cy="188.06" r="1.5" fill="#fff" stroke="#444" stroke-width="0.55"/>
<circle cx="480.50" cy="188.06" r="1.5" fill="#fff" stroke="#444" stroke-width="0.55"/>
<circle cx="476.30" cy="194.74" r="1.5" fill="#fff" stroke="#444" stroke-width="0.55"/>
<circle cx="486.30" cy="204.60" r="1.55" fill="#fff" stroke="#a02020" stroke-width="0.6"/>
<circle cx="489.00" cy="206.20" r="1.55" fill="#fff" stroke="#a02020" stroke-width="0.6"/>
<circle cx="491.60" cy="205.20" r="1.55" fill="#fff" stroke="#a02020" stroke-width="0.6"/>
<circle cx="493.20" cy="206.60" r="1.55" fill="#fff" stroke="#a02020" stroke-width="0.6"/>
<circle cx="487.60" cy="207.20" r="1.55" fill="#fff" stroke="#a02020" stroke-width="0.6"/>
<circle cx="490.30" cy="207.40" r="1.55" fill="#fff" stroke="#a02020" stroke-width="0.6"/>
<circle cx="501.80" cy="157.33" r="1.5" fill="#fff" stroke="#444" stroke-width="0.55"/>
<circle cx="501.80" cy="171.36" r="1.5" fill="#fff" stroke="#444" stroke-width="0.55"/>
<circle cx="501.80" cy="178.04" r="1.5" fill="#fff" stroke="#444" stroke-width="0.55"/>
<circle cx="501.80" cy="189.73" r="1.5" fill="#fff" stroke="#444" stroke-width="0.55"/>
<path d="M476.30,156.00 V148.40 H489.00 V202.00" fill="none" stroke="#3a3a3a" stroke-width="0.9" />
<text x="483.50" y="148.27" font-size="8.6" text-anchor="middle" fill="#111" font-weight="bold" letter-spacing="1.0">*</text>
<text x="266.60" y="252.00" font-size="10.2" fill="#111" font-weight="bold">E</text>
<line x1="286.50" y1="255.30" x2="520.00" y2="255.30" stroke="#555" stroke-width="0.8" />
<text x="405.00" y="252.00" font-size="7.9" text-anchor="middle" stroke="#1e1e1e" stroke-width="0.14" transform="translate(405.00 252.00) scale(0.97 1) translate(-405.00 -252.00)">Megakaryocyte differentiation</text>
<text x="320.30" y="265.20" font-size="7.9" text-anchor="middle" stroke="#1e1e1e" stroke-width="0.14" transform="translate(320.30 265.20) scale(0.97 1) translate(-320.30 -265.20)">AAVS1</text>
<text x="387.40" y="265.20" font-size="7.9" text-anchor="middle" stroke="#1e1e1e" stroke-width="0.14" transform="translate(387.40 265.20) scale(0.97 1) translate(-387.40 -265.20)">ASXL1 Trunc</text>
<rect x="286.50" y="267.50" width="67.10" height="65.00" fill="#fff" stroke="#8a8a8a" stroke-width="0.8" />
<g filter="url(#blur05)">
<path d="M295.00,322.00 C293.67,320.50 293.17,317.33 294.00,315.00 C294.83,312.67 297.67,309.83 300.00,308.00 C302.33,306.17 305.67,305.00 308.00,304.00 C310.33,303.00 312.17,301.83 314.00,302.00 C315.83,302.17 318.33,303.33 319.00,305.00 C319.67,306.67 319.33,309.67 318.00,312.00 C316.67,314.33 313.67,317.00 311.00,319.00 C308.33,321.00 304.67,323.50 302.00,324.00 C299.33,324.50 296.33,323.50 295.00,322.00 Z" fill="#f2f2f2" stroke="#c4c4c4" stroke-width="0.5" />
<path d="M298.00,319.00 C296.83,318.00 297.17,315.67 298.00,314.00 C298.83,312.33 301.00,310.33 303.00,309.00 C305.00,307.67 308.00,306.67 310.00,306.00 C312.00,305.33 314.00,304.50 315.00,305.00 C316.00,305.50 316.50,307.33 316.00,309.00 C315.50,310.67 313.83,313.17 312.00,315.00 C310.17,316.83 307.33,319.33 305.00,320.00 C302.67,320.67 299.17,320.00 298.00,319.00 Z" fill="#e6e6e6" stroke="#bdbdbd" stroke-width="0.45" />
<path d="M302.00,316.00 C301.50,315.33 302.83,313.17 304.00,312.00 C305.17,310.83 307.50,309.67 309.00,309.00 C310.50,308.33 312.50,307.50 313.00,308.00 C313.50,308.50 313.00,310.67 312.00,312.00 C311.00,313.33 308.67,315.33 307.00,316.00 C305.33,316.67 302.50,316.67 302.00,316.00 Z" fill="#dedede" stroke="#c0c0c0" stroke-width="0.4" />
</g>
<g transform="rotate(-41.6 330 288.5)" filter="url(#blur05)"><rect x="306" y="285.4" width="48" height="6.2" rx="3.1" fill="url(#streak)" stroke="url(#along)" stroke-width="0.85"/><line x1="310" y1="288.5" x2="350" y2="288.5" stroke="#f0f0f0" stroke-width="0.8" stroke-linecap="round"/></g>
<rect x="320.30" y="267.50" width="33.30" height="31.90" fill="none" stroke="#3a3a3a" stroke-width="0.9" />
<text x="322.40" y="276.20" font-size="7.9" stroke="#1e1e1e" stroke-width="0.14" transform="translate(322.40 276.20) scale(0.97 1) translate(-322.40 -276.20)">69.3</text>
<line x1="284.70" y1="270.50" x2="286.80" y2="270.50" stroke="#222" stroke-width="1.0" />
<line x1="284.70" y1="285.25" x2="286.80" y2="285.25" stroke="#222" stroke-width="1.0" />
<line x1="284.70" y1="300.00" x2="286.80" y2="300.00" stroke="#222" stroke-width="1.0" />
<line x1="284.70" y1="314.75" x2="286.80" y2="314.75" stroke="#222" stroke-width="1.0" />
<line x1="284.70" y1="329.50" x2="286.80" y2="329.50" stroke="#222" stroke-width="1.0" />
<line x1="290.50" y1="332.20" x2="290.50" y2="334.40" stroke="#222" stroke-width="1.0" />
<line x1="305.27" y1="332.20" x2="305.27" y2="334.40" stroke="#222" stroke-width="1.0" />
<line x1="320.05" y1="332.20" x2="320.05" y2="334.40" stroke="#222" stroke-width="1.0" />
<line x1="334.83" y1="332.20" x2="334.83" y2="334.40" stroke="#222" stroke-width="1.0" />
<line x1="349.60" y1="332.20" x2="349.60" y2="334.40" stroke="#222" stroke-width="1.0" />
<line x1="285.40" y1="274.19" x2="286.50" y2="274.19" stroke="#333" stroke-width="0.6" />
<line x1="294.19" y1="332.50" x2="294.19" y2="333.70" stroke="#333" stroke-width="0.6" />
<line x1="285.40" y1="277.88" x2="286.50" y2="277.88" stroke="#333" stroke-width="0.6" />
<line x1="297.89" y1="332.50" x2="297.89" y2="333.70" stroke="#333" stroke-width="0.6" />
<line x1="285.40" y1="281.56" x2="286.50" y2="281.56" stroke="#333" stroke-width="0.6" />
<line x1="301.58" y1="332.50" x2="301.58" y2="333.70" stroke="#333" stroke-width="0.6" />
<line x1="285.40" y1="288.94" x2="286.50" y2="288.94" stroke="#333" stroke-width="0.6" />
<line x1="308.97" y1="332.50" x2="308.97" y2="333.70" stroke="#333" stroke-width="0.6" />
<line x1="285.40" y1="292.62" x2="286.50" y2="292.62" stroke="#333" stroke-width="0.6" />
<line x1="312.66" y1="332.50" x2="312.66" y2="333.70" stroke="#333" stroke-width="0.6" />
<line x1="285.40" y1="296.31" x2="286.50" y2="296.31" stroke="#333" stroke-width="0.6" />
<line x1="316.36" y1="332.50" x2="316.36" y2="333.70" stroke="#333" stroke-width="0.6" />
<line x1="285.40" y1="303.69" x2="286.50" y2="303.69" stroke="#333" stroke-width="0.6" />
<line x1="323.74" y1="332.50" x2="323.74" y2="333.70" stroke="#333" stroke-width="0.6" />
<line x1="285.40" y1="307.38" x2="286.50" y2="307.38" stroke="#333" stroke-width="0.6" />
<line x1="327.44" y1="332.50" x2="327.44" y2="333.70" stroke="#333" stroke-width="0.6" />
<line x1="285.40" y1="311.06" x2="286.50" y2="311.06" stroke="#333" stroke-width="0.6" />
<line x1="331.13" y1="332.50" x2="331.13" y2="333.70" stroke="#333" stroke-width="0.6" />
<line x1="285.40" y1="318.44" x2="286.50" y2="318.44" stroke="#333" stroke-width="0.6" />
<line x1="338.52" y1="332.50" x2="338.52" y2="333.70" stroke="#333" stroke-width="0.6" />
<line x1="285.40" y1="322.12" x2="286.50" y2="322.12" stroke="#333" stroke-width="0.6" />
<line x1="342.21" y1="332.50" x2="342.21" y2="333.70" stroke="#333" stroke-width="0.6" />
<line x1="285.40" y1="325.81" x2="286.50" y2="325.81" stroke="#333" stroke-width="0.6" />
<line x1="345.91" y1="332.50" x2="345.91" y2="333.70" stroke="#333" stroke-width="0.6" />
<line x1="289.50" y1="333.40" x2="301.50" y2="333.40" stroke="#555" stroke-width="0.8" />
<rect x="294.30" y="332.90" width="2.20" height="2.20" fill="#111" stroke="none" stroke-width="0.8" />
<rect x="284.70" y="322.20" width="2.20" height="2.20" fill="#111" stroke="none" stroke-width="0.8" />
<rect x="354.60" y="267.50" width="66.00" height="65.00" fill="#fff" stroke="#8a8a8a" stroke-width="0.8" />
<g filter="url(#blur05)">
<path d="M358.00,324.00 C357.33,322.00 356.00,318.83 357.00,316.00 C358.00,313.17 360.67,310.00 364.00,307.00 C367.33,304.00 372.67,301.17 377.00,298.00 C381.33,294.83 386.50,290.17 390.00,288.00 C393.50,285.83 396.33,284.67 398.00,285.00 C399.67,285.33 400.17,287.50 400.00,290.00 C399.83,292.50 397.83,296.33 397.00,300.00 C396.17,303.67 396.17,308.67 395.00,312.00 C393.83,315.33 392.50,317.67 390.00,320.00 C387.50,322.33 383.67,324.50 380.00,326.00 C376.33,327.50 371.17,328.67 368.00,329.00 C364.83,329.33 362.67,328.83 361.00,328.00 C359.33,327.17 358.67,326.00 358.00,324.00 Z" fill="#f4f4f4" stroke="#c0c0c0" stroke-width="0.5" />
<path d="M361.00,320.00 C360.50,318.33 359.83,315.33 361.00,313.00 C362.17,310.67 364.83,308.50 368.00,306.00 C371.17,303.50 376.17,300.67 380.00,298.00 C383.83,295.33 388.17,291.67 391.00,290.00 C393.83,288.33 396.00,287.33 397.00,288.00 C398.00,288.67 397.67,291.33 397.00,294.00 C396.33,296.67 394.17,300.67 393.00,304.00 C391.83,307.33 391.67,311.33 390.00,314.00 C388.33,316.67 386.00,318.50 383.00,320.00 C380.00,321.50 375.17,322.50 372.00,323.00 C368.83,323.50 365.83,323.50 364.00,323.00 C362.17,322.50 361.50,321.67 361.00,320.00 Z" fill="#e8e8e8" stroke="#a8a8a8" stroke-width="0.5" />
<path d="M364.00,317.00 C363.67,315.50 363.67,313.00 365.00,311.00 C366.33,309.00 369.00,307.33 372.00,305.00 C375.00,302.67 379.50,299.50 383.00,297.00 C386.50,294.50 390.83,291.00 393.00,290.00 C395.17,289.00 396.00,289.50 396.00,291.00 C396.00,292.50 394.33,296.17 393.00,299.00 C391.67,301.83 390.00,305.33 388.00,308.00 C386.00,310.67 383.67,313.17 381.00,315.00 C378.33,316.83 374.33,318.17 372.00,319.00 C369.67,319.83 368.33,320.33 367.00,320.00 C365.67,319.67 364.33,318.50 364.00,317.00 Z" fill="#d8d8d8" stroke="#909090" stroke-width="0.5" />
<ellipse cx="372.8" cy="311.8" rx="6.8" ry="4.4" transform="rotate(-38 372.8 311.8)" fill="#8e8e8e"/>
<ellipse cx="372.4" cy="312.3" rx="3.4" ry="2.3" transform="rotate(-38 372.4 312.3)" fill="#f7f7f7"/>
</g>
<g transform="rotate(-42 385 299)" filter="url(#blur05)"><rect x="373" y="296.2" width="25" height="5.6" rx="2.8" fill="url(#streak)"/><line x1="377" y1="299" x2="395" y2="299" stroke="#e6e6e6" stroke-width="0.8" stroke-linecap="round"/></g>
<ellipse cx="409" cy="280" rx="1.6" ry="1.1" fill="none" stroke="#aaa" stroke-width="0.5"/>
<rect x="388.50" y="267.50" width="32.10" height="32.80" fill="none" stroke="#3a3a3a" stroke-width="0.9" />
<text x="390.90" y="275.80" font-size="7.9" stroke="#1e1e1e" stroke-width="0.14" transform="translate(390.90 275.80) scale(0.97 1) translate(-390.90 -275.80)">20.3</text>
<line x1="352.80" y1="270.50" x2="354.90" y2="270.50" stroke="#222" stroke-width="1.0" />
<line x1="352.80" y1="285.25" x2="354.90" y2="285.25" stroke="#222" stroke-width="1.0" />
<line x1="352.80" y1="300.00" x2="354.90" y2="300.00" stroke="#222" stroke-width="1.0" />
<line x1="352.80" y1="314.75" x2="354.90" y2="314.75" stroke="#222" stroke-width="1.0" />
<line x1="352.80" y1="329.50" x2="354.90" y2="329.50" stroke="#222" stroke-width="1.0" />
<line x1="358.60" y1="332.20" x2="358.60" y2="334.40" stroke="#222" stroke-width="1.0" />
<line x1="373.10" y1="332.20" x2="373.10" y2="334.40" stroke="#222" stroke-width="1.0" />
<line x1="387.60" y1="332.20" x2="387.60" y2="334.40" stroke="#222" stroke-width="1.0" />
<line x1="402.10" y1="332.20" x2="402.10" y2="334.40" stroke="#222" stroke-width="1.0" />
<line x1="416.60" y1="332.20" x2="416.60" y2="334.40" stroke="#222" stroke-width="1.0" />
<line x1="353.50" y1="274.19" x2="354.60" y2="274.19" stroke="#333" stroke-width="0.6" />
<line x1="362.23" y1="332.50" x2="362.23" y2="333.70" stroke="#333" stroke-width="0.6" />
<line x1="353.50" y1="277.88" x2="354.60" y2="277.88" stroke="#333" stroke-width="0.6" />
<line x1="365.85" y1="332.50" x2="365.85" y2="333.70" stroke="#333" stroke-width="0.6" />
<line x1="353.50" y1="281.56" x2="354.60" y2="281.56" stroke="#333" stroke-width="0.6" />
<line x1="369.48" y1="332.50" x2="369.48" y2="333.70" stroke="#333" stroke-width="0.6" />
<line x1="353.50" y1="288.94" x2="354.60" y2="288.94" stroke="#333" stroke-width="0.6" />
<line x1="376.73" y1="332.50" x2="376.73" y2="333.70" stroke="#333" stroke-width="0.6" />
<line x1="353.50" y1="292.62" x2="354.60" y2="292.62" stroke="#333" stroke-width="0.6" />
<line x1="380.35" y1="332.50" x2="380.35" y2="333.70" stroke="#333" stroke-width="0.6" />
<line x1="353.50" y1="296.31" x2="354.60" y2="296.31" stroke="#333" stroke-width="0.6" />
<line x1="383.98" y1="332.50" x2="383.98" y2="333.70" stroke="#333" stroke-width="0.6" />
<line x1="353.50" y1="303.69" x2="354.60" y2="303.69" stroke="#333" stroke-width="0.6" />
<line x1="391.23" y1="332.50" x2="391.23" y2="333.70" stroke="#333" stroke-width="0.6" />
<line x1="353.50" y1="307.38" x2="354.60" y2="307.38" stroke="#333" stroke-width="0.6" />
<line x1="394.85" y1="332.50" x2="394.85" y2="333.70" stroke="#333" stroke-width="0.6" />
<line x1="353.50" y1="311.06" x2="354.60" y2="311.06" stroke="#333" stroke-width="0.6" />
<line x1="398.48" y1="332.50" x2="398.48" y2="333.70" stroke="#333" stroke-width="0.6" />
<line x1="353.50" y1="318.44" x2="354.60" y2="318.44" stroke="#333" stroke-width="0.6" />
<line x1="405.73" y1="332.50" x2="405.73" y2="333.70" stroke="#333" stroke-width="0.6" />
<line x1="353.50" y1="322.12" x2="354.60" y2="322.12" stroke="#333" stroke-width="0.6" />
<line x1="409.35" y1="332.50" x2="409.35" y2="333.70" stroke="#333" stroke-width="0.6" />
<line x1="353.50" y1="325.81" x2="354.60" y2="325.81" stroke="#333" stroke-width="0.6" />
<line x1="412.98" y1="332.50" x2="412.98" y2="333.70" stroke="#333" stroke-width="0.6" />
<line x1="357.60" y1="333.40" x2="369.60" y2="333.40" stroke="#555" stroke-width="0.8" />
<rect x="361.90" y="332.90" width="2.20" height="2.20" fill="#111" stroke="none" stroke-width="0.8" />
<line x1="282.10" y1="318.70" x2="282.10" y2="338.30" stroke="#888" stroke-width="0.9" />
<line x1="282.10" y1="338.30" x2="302.90" y2="338.30" stroke="#888" stroke-width="0.9" />
<text x="278.60" y="329.60" font-size="7.9" text-anchor="middle" stroke="#1e1e1e" stroke-width="0.14" transform="rotate(-90 278.60 329.60) translate(278.60 329.60) scale(0.97 1) translate(-278.60 -329.60)">CD61</text>
<text x="281.50" y="347.30" font-size="7.9" stroke="#1e1e1e" stroke-width="0.14" transform="translate(281.50 347.30) scale(0.97 1) translate(-281.50 -347.30)">CD41a</text>
<rect x="334.30" y="344.40" width="9.50" height="5.80" fill="#898989" stroke="none" stroke-width="0.5" />
<text x="347.00" y="350.50" font-size="7.9" stroke="#1e1e1e" stroke-width="0.14" transform="translate(347.00 350.50) scale(0.97 1) translate(-347.00 -350.50)">AAVS1</text>
<rect x="379.20" y="344.40" width="9.20" height="5.80" fill="#ae1d24" stroke="none" stroke-width="0.5" />
<text x="390.60" y="350.50" font-size="7.9" stroke="#1e1e1e" stroke-width="0.14" transform="translate(390.60 350.50) scale(0.97 1) translate(-390.60 -350.50)">ASXL1 Trunc</text>
<rect x="441.20" y="344.40" width="9.00" height="5.80" fill="#3452ad" stroke="none" stroke-width="0.5" />
<text x="452.80" y="350.50" font-size="7.9" stroke="#1e1e1e" stroke-width="0.14" transform="translate(452.80 350.50) scale(0.97 1) translate(-452.80 -350.50)">ASXL1 KO</text>
<line x1="469.50" y1="330.50" x2="469.50" y2="269.50" stroke="#777" stroke-width="0.7" />
<line x1="467.70" y1="330.50" x2="469.50" y2="330.50" stroke="#777" stroke-width="0.7" />
<text x="465.80" y="333.10" font-size="7.9" text-anchor="end" stroke="#1e1e1e" stroke-width="0.14" transform="translate(465.80 333.10) scale(0.97 1) translate(-465.80 -333.10)">0</text>
<line x1="467.70" y1="315.50" x2="469.50" y2="315.50" stroke="#777" stroke-width="0.7" />
<text x="465.80" y="318.10" font-size="7.9" text-anchor="end" stroke="#1e1e1e" stroke-width="0.14" transform="translate(465.80 318.10) scale(0.97 1) translate(-465.80 -318.10)">20</text>
<line x1="467.70" y1="300.50" x2="469.50" y2="300.50" stroke="#777" stroke-width="0.7" />
<text x="465.80" y="303.10" font-size="7.9" text-anchor="end" stroke="#1e1e1e" stroke-width="0.14" transform="translate(465.80 303.10) scale(0.97 1) translate(-465.80 -303.10)">40</text>
<line x1="467.70" y1="285.50" x2="469.50" y2="285.50" stroke="#777" stroke-width="0.7" />
<text x="465.80" y="288.10" font-size="7.9" text-anchor="end" stroke="#1e1e1e" stroke-width="0.14" transform="translate(465.80 288.10) scale(0.97 1) translate(-465.80 -288.10)">60</text>
<line x1="467.70" y1="270.50" x2="469.50" y2="270.50" stroke="#777" stroke-width="0.7" />
<text x="465.80" y="273.10" font-size="7.9" text-anchor="end" stroke="#1e1e1e" stroke-width="0.14" transform="translate(465.80 273.10) scale(0.97 1) translate(-465.80 -273.10)">80</text>
<text x="454.00" y="300.50" font-size="7.9" text-anchor="middle" stroke="#1e1e1e" stroke-width="0.14" transform="rotate(-90 454.00 300.50) translate(454.00 300.50) scale(0.97 1) translate(-454.00 -300.50)">CD41a<tspan font-size="4.5" dy="-2.8">+</tspan><tspan dy="2.8">/CD61</tspan><tspan font-size="4.5" dy="-2.8">+</tspan><tspan dy="2.8"> (%)</tspan></text>
<rect x="471.20" y="295.02" width="10.00" height="35.48" fill="#898989" stroke="none" stroke-width="0.5" />
<line x1="476.20" y1="295.02" x2="476.20" y2="290.00" stroke="#444" stroke-width="0.6" />
<line x1="475.10" y1="290.00" x2="477.30" y2="290.00" stroke="#444" stroke-width="0.6" />
<rect x="483.70" y="317.52" width="10.00" height="12.98" fill="#ae1d24" stroke="none" stroke-width="0.5" />
<line x1="488.70" y1="317.52" x2="488.70" y2="313.25" stroke="#444" stroke-width="0.6" />
<line x1="487.60" y1="313.25" x2="489.80" y2="313.25" stroke="#444" stroke-width="0.6" />
<rect x="496.20" y="303.73" width="10.50" height="26.77" fill="#3452ad" stroke="none" stroke-width="0.5" />
<line x1="501.45" y1="303.73" x2="501.45" y2="291.05" stroke="#444" stroke-width="0.6" />
<line x1="500.35" y1="291.05" x2="502.55" y2="291.05" stroke="#444" stroke-width="0.6" />
<circle cx="476.20" cy="277.25" r="1.5" fill="#fff" stroke="#444" stroke-width="0.55"/>
<circle cx="476.20" cy="285.50" r="1.5" fill="#fff" stroke="#444" stroke-width="0.55"/>
<circle cx="478.00" cy="291.50" r="1.5" fill="#fff" stroke="#444" stroke-width="0.55"/>
<circle cx="474.00" cy="293.00" r="1.5" fill="#fff" stroke="#444" stroke-width="0.55"/>
<circle cx="476.20" cy="319.25" r="1.5" fill="#fff" stroke="#444" stroke-width="0.55"/>
<circle cx="487.00" cy="312.50" r="1.5" fill="#fff" stroke="#444" stroke-width="0.55"/>
<circle cx="491.50" cy="312.50" r="1.5" fill="#fff" stroke="#444" stroke-width="0.55"/>
<circle cx="488.70" cy="314.75" r="1.5" fill="#fff" stroke="#444" stroke-width="0.55"/>
<circle cx="488.70" cy="318.50" r="1.5" fill="#fff" stroke="#444" stroke-width="0.55"/>
<circle cx="488.70" cy="323.00" r="1.5" fill="#fff" stroke="#444" stroke-width="0.55"/>
<circle cx="501.50" cy="278.00" r="1.5" fill="#fff" stroke="#444" stroke-width="0.55"/>
<circle cx="501.50" cy="293.00" r="1.5" fill="#fff" stroke="#444" stroke-width="0.55"/>
<circle cx="501.50" cy="319.25" r="1.5" fill="#fff" stroke="#444" stroke-width="0.55"/>
<circle cx="501.50" cy="324.50" r="1.5" fill="#fff" stroke="#444" stroke-width="0.55"/>
<path d="M476.30,276.00 V267.80 H489.00 V307.50" fill="none" stroke="#3a3a3a" stroke-width="0.9" />
<text x="482.80" y="267.77" font-size="8.6" text-anchor="middle" fill="#111" font-weight="bold" letter-spacing="1.0">*</text>
<text x="6.80" y="372.10" font-size="10.2" fill="#111" font-weight="bold">F</text>
<line x1="27.00" y1="384.70" x2="214.20" y2="384.70" stroke="#555" stroke-width="0.8" />
<text x="118.40" y="381.20" font-size="7.9" text-anchor="middle" stroke="#1e1e1e" stroke-width="0.14" transform="translate(118.40 381.20) scale(0.97 1) translate(-118.40 -381.20)">Colony formation</text>
<text x="45.70" y="397.10" font-size="7.9" text-anchor="middle" stroke="#1e1e1e" stroke-width="0.14" transform="translate(45.70 397.10) scale(0.97 1) translate(-45.70 -397.10)">Total</text>
<text x="113.20" y="397.90" font-size="7.9" text-anchor="middle" stroke="#1e1e1e" stroke-width="0.14" transform="translate(113.20 397.90) scale(0.97 1) translate(-113.20 -397.90)">BFU-E/CFU-E</text>
<text x="185.30" y="397.90" font-size="7.9" text-anchor="middle" stroke="#1e1e1e" stroke-width="0.14" transform="translate(185.30 397.90) scale(0.97 1) translate(-185.30 -397.90)">CFU-GEMM/-GM</text>
<line x1="26.00" y1="463.70" x2="26.00" y2="403.70" stroke="#777" stroke-width="0.7" />
<line x1="24.20" y1="463.70" x2="26.00" y2="463.70" stroke="#777" stroke-width="0.7" />
<text x="22.30" y="466.30" font-size="7.9" text-anchor="end" stroke="#1e1e1e" stroke-width="0.14" transform="translate(22.30 466.30) scale(0.97 1) translate(-22.30 -466.30)">0</text>
<line x1="24.20" y1="442.45" x2="26.00" y2="442.45" stroke="#777" stroke-width="0.7" />
<text x="22.30" y="445.05" font-size="7.9" text-anchor="end" stroke="#1e1e1e" stroke-width="0.14" transform="translate(22.30 445.05) scale(0.97 1) translate(-22.30 -445.05)">50</text>
<line x1="24.20" y1="421.20" x2="26.00" y2="421.20" stroke="#777" stroke-width="0.7" />
<text x="22.30" y="423.80" font-size="7.9" text-anchor="end" stroke="#1e1e1e" stroke-width="0.14" transform="translate(22.30 423.80) scale(0.97 1) translate(-22.30 -423.80)">100</text>
<text x="6.80" y="433.00" font-size="7.9" text-anchor="middle" stroke="#1e1e1e" stroke-width="0.14" transform="rotate(-90 6.80 433.00) translate(6.80 433.00) scale(0.97 1) translate(-6.80 -433.00)">Colonies</text>
<line x1="94.80" y1="463.70" x2="94.80" y2="403.70" stroke="#777" stroke-width="0.7" />
<line x1="93.00" y1="463.70" x2="94.80" y2="463.70" stroke="#777" stroke-width="0.7" />
<text x="91.10" y="466.30" font-size="7.9" text-anchor="end" stroke="#1e1e1e" stroke-width="0.14" transform="translate(91.10 466.30) scale(0.97 1) translate(-91.10 -466.30)">0</text>
<line x1="93.00" y1="442.45" x2="94.80" y2="442.45" stroke="#777" stroke-width="0.7" />
<text x="91.10" y="445.05" font-size="7.9" text-anchor="end" stroke="#1e1e1e" stroke-width="0.14" transform="translate(91.10 445.05) scale(0.97 1) translate(-91.10 -445.05)">50</text>
<line x1="93.00" y1="421.20" x2="94.80" y2="421.20" stroke="#777" stroke-width="0.7" />
<text x="91.10" y="423.80" font-size="7.9" text-anchor="end" stroke="#1e1e1e" stroke-width="0.14" transform="translate(91.10 423.80) scale(0.97 1) translate(-91.10 -423.80)">100</text>
<text x="75.60" y="433.00" font-size="7.9" text-anchor="middle" stroke="#1e1e1e" stroke-width="0.14" transform="rotate(-90 75.60 433.00) translate(75.60 433.00) scale(0.97 1) translate(-75.60 -433.00)">Colonies</text>
<line x1="164.70" y1="463.70" x2="164.70" y2="403.70" stroke="#777" stroke-width="0.7" />
<line x1="162.90" y1="463.70" x2="164.70" y2="463.70" stroke="#777" stroke-width="0.7" />
<text x="161.00" y="466.30" font-size="7.9" text-anchor="end" stroke="#1e1e1e" stroke-width="0.14" transform="translate(161.00 466.30) scale(0.97 1) translate(-161.00 -466.30)">0</text>
<line x1="162.90" y1="442.45" x2="164.70" y2="442.45" stroke="#777" stroke-width="0.7" />
<text x="161.00" y="445.05" font-size="7.9" text-anchor="end" stroke="#1e1e1e" stroke-width="0.14" transform="translate(161.00 445.05) scale(0.97 1) translate(-161.00 -445.05)">50</text>
<line x1="162.90" y1="421.20" x2="164.70" y2="421.20" stroke="#777" stroke-width="0.7" />
<text x="161.00" y="423.80" font-size="7.9" text-anchor="end" stroke="#1e1e1e" stroke-width="0.14" transform="translate(161.00 423.80) scale(0.97 1) translate(-161.00 -423.80)">100</text>
<text x="145.50" y="433.00" font-size="7.9" text-anchor="middle" stroke="#1e1e1e" stroke-width="0.14" transform="rotate(-90 145.50 433.00) translate(145.50 433.00) scale(0.97 1) translate(-145.50 -433.00)">Colonies</text>
<rect x="26.90" y="421.20" width="11.10" height="42.50" fill="#898989" stroke="none" stroke-width="0.5" />
<line x1="32.45" y1="421.20" x2="32.45" y2="419.93" stroke="#444" stroke-width="0.6" />
<line x1="31.35" y1="419.93" x2="33.55" y2="419.93" stroke="#444" stroke-width="0.6" />
<rect x="40.20" y="425.62" width="10.60" height="38.08" fill="#ae1d24" stroke="none" stroke-width="0.5" />
<line x1="45.50" y1="425.62" x2="45.50" y2="423.32" stroke="#444" stroke-width="0.6" />
<line x1="44.40" y1="423.32" x2="46.60" y2="423.32" stroke="#444" stroke-width="0.6" />
<rect x="53.30" y="412.27" width="10.40" height="51.43" fill="#3452ad" stroke="none" stroke-width="0.5" />
<line x1="58.50" y1="412.27" x2="58.50" y2="409.30" stroke="#444" stroke-width="0.6" />
<line x1="57.40" y1="409.30" x2="59.60" y2="409.30" stroke="#444" stroke-width="0.6" />
<circle cx="29.50" cy="420.77" r="1.5" fill="#fff" stroke="#444" stroke-width="0.55"/>
<circle cx="33.00" cy="421.62" r="1.5" fill="#fff" stroke="#444" stroke-width="0.55"/>
<circle cx="37.00" cy="422.47" r="1.5" fill="#fff" stroke="#444" stroke-width="0.55"/>
<circle cx="30.00" cy="422.90" r="1.5" fill="#fff" stroke="#444" stroke-width="0.55"/>
<circle cx="35.50" cy="419.07" r="1.5" fill="#fff" stroke="#444" stroke-width="0.55"/>
<circle cx="45.50" cy="415.68" r="1.5" fill="#fff" stroke="#444" stroke-width="0.55"/>
<circle cx="45.50" cy="419.93" r="1.5" fill="#fff" stroke="#444" stroke-width="0.55"/>
<circle cx="42.50" cy="430.55" r="1.5" fill="#fff" stroke="#444" stroke-width="0.55"/>
<circle cx="48.50" cy="430.55" r="1.5" fill="#fff" stroke="#444" stroke-width="0.55"/>
<circle cx="58.50" cy="404.20" r="1.5" fill="#fff" stroke="#444" stroke-width="0.55"/>
<circle cx="58.50" cy="407.60" r="1.5" fill="#fff" stroke="#444" stroke-width="0.55"/>
<circle cx="55.50" cy="415.68" r="1.5" fill="#fff" stroke="#444" stroke-width="0.55"/>
<circle cx="62.00" cy="413.97" r="1.5" fill="#fff" stroke="#444" stroke-width="0.55"/>
<rect x="95.70" y="439.05" width="11.10" height="24.65" fill="#898989" stroke="none" stroke-width="0.5" />
<line x1="101.25" y1="439.05" x2="101.25" y2="438.20" stroke="#444" stroke-width="0.6" />
<line x1="100.15" y1="438.20" x2="102.35" y2="438.20" stroke="#444" stroke-width="0.6" />
<rect x="109.00" y="447.34" width="10.60" height="16.36" fill="#ae1d24" stroke="none" stroke-width="0.5" />
<line x1="114.30" y1="447.34" x2="114.30" y2="446.27" stroke="#444" stroke-width="0.6" />
<line x1="113.20" y1="446.27" x2="115.40" y2="446.27" stroke="#444" stroke-width="0.6" />
<rect x="122.10" y="431.82" width="10.40" height="31.88" fill="#3452ad" stroke="none" stroke-width="0.5" />
<line x1="127.30" y1="431.82" x2="127.30" y2="429.70" stroke="#444" stroke-width="0.6" />
<line x1="126.20" y1="429.70" x2="128.40" y2="429.70" stroke="#444" stroke-width="0.6" />
<circle cx="97.50" cy="437.35" r="1.5" fill="#fff" stroke="#444" stroke-width="0.55"/>
<circle cx="100.50" cy="439.05" r="1.5" fill="#fff" stroke="#444" stroke-width="0.55"/>
<circle cx="103.50" cy="439.05" r="1.5" fill="#fff" stroke="#444" stroke-width="0.55"/>
<circle cx="106.00" cy="439.47" r="1.5" fill="#fff" stroke="#444" stroke-width="0.55"/>
<circle cx="113.50" cy="443.30" r="1.5" fill="#fff" stroke="#444" stroke-width="0.55"/>
<circle cx="111.00" cy="445.85" r="1.5" fill="#fff" stroke="#444" stroke-width="0.55"/>
<circle cx="116.50" cy="446.27" r="1.5" fill="#fff" stroke="#444" stroke-width="0.55"/>
<circle cx="113.50" cy="450.95" r="1.5" fill="#fff" stroke="#444" stroke-width="0.55"/>
<circle cx="126.80" cy="425.45" r="1.5" fill="#fff" stroke="#444" stroke-width="0.55"/>
<circle cx="124.50" cy="431.82" r="1.5" fill="#fff" stroke="#444" stroke-width="0.55"/>
<circle cx="129.50" cy="431.82" r="1.5" fill="#fff" stroke="#444" stroke-width="0.55"/>
<circle cx="126.80" cy="437.35" r="1.5" fill="#fff" stroke="#444" stroke-width="0.55"/>
<path d="M100.80,434.20 V415.30 H114.00 V442.40" fill="none" stroke="#3a3a3a" stroke-width="0.9" />
<text x="108.00" y="414.87" font-size="8.6" text-anchor="middle" fill="#111" font-weight="bold" letter-spacing="1.0">**</text>
<rect x="165.60" y="445.85" width="11.10" height="17.85" fill="#898989" stroke="none" stroke-width="0.5" />
<line x1="171.15" y1="445.85" x2="171.15" y2="445.00" stroke="#444" stroke-width="0.6" />
<line x1="170.05" y1="445.00" x2="172.25" y2="445.00" stroke="#444" stroke-width="0.6" />
<rect x="178.90" y="442.45" width="10.60" height="21.25" fill="#ae1d24" stroke="none" stroke-width="0.5" />
<line x1="184.20" y1="442.45" x2="184.20" y2="441.18" stroke="#444" stroke-width="0.6" />
<line x1="183.10" y1="441.18" x2="185.30" y2="441.18" stroke="#444" stroke-width="0.6" />
<rect x="192.00" y="444.15" width="10.40" height="19.55" fill="#3452ad" stroke="none" stroke-width="0.5" />
<line x1="197.20" y1="444.15" x2="197.20" y2="443.30" stroke="#444" stroke-width="0.6" />
<line x1="196.10" y1="443.30" x2="198.30" y2="443.30" stroke="#444" stroke-width="0.6" />
<circle cx="167.50" cy="445.00" r="1.5" fill="#fff" stroke="#444" stroke-width="0.55"/>
<circle cx="171.00" cy="445.85" r="1.5" fill="#fff" stroke="#444" stroke-width="0.55"/>
<circle cx="175.00" cy="445.85" r="1.5" fill="#fff" stroke="#444" stroke-width="0.55"/>
<circle cx="172.50" cy="447.55" r="1.5" fill="#fff" stroke="#444" stroke-width="0.55"/>
<circle cx="180.80" cy="439.47" r="1.5" fill="#fff" stroke="#444" stroke-width="0.55"/>
<circle cx="187.00" cy="438.20" r="1.5" fill="#fff" stroke="#444" stroke-width="0.55"/>
<circle cx="184.00" cy="442.45" r="1.5" fill="#fff" stroke="#444" stroke-width="0.55"/>
<circle cx="183.50" cy="448.40" r="1.5" fill="#fff" stroke="#444" stroke-width="0.55"/>
<circle cx="193.50" cy="444.15" r="1.5" fill="#fff" stroke="#444" stroke-width="0.55"/>
<circle cx="197.00" cy="444.15" r="1.5" fill="#fff" stroke="#444" stroke-width="0.55"/>
<circle cx="200.00" cy="442.88" r="1.5" fill="#fff" stroke="#444" stroke-width="0.55"/>
<circle cx="196.50" cy="449.25" r="1.5" fill="#fff" stroke="#444" stroke-width="0.55"/>
<path d="M170.60,440.80 V427.70 H183.70 V431.80" fill="none" stroke="#3a3a3a" stroke-width="0.9" />
<text x="177.20" y="423.60" font-size="7.9" text-anchor="middle" stroke="#1e1e1e" stroke-width="0.14" transform="translate(177.20 423.60) scale(0.97 1) translate(-177.20 -423.60)">ns</text>
<rect x="43.40" y="473.30" width="9.50" height="5.30" fill="#898989" stroke="none" stroke-width="0.5" />
<text x="56.00" y="478.90" font-size="7.9" stroke="#1e1e1e" stroke-width="0.14" transform="translate(56.00 478.90) scale(0.97 1) translate(-56.00 -478.90)">AAVS1</text>
<rect x="87.80" y="473.30" width="9.50" height="5.30" fill="#ae1d24" stroke="none" stroke-width="0.5" />
<text x="100.50" y="478.90" font-size="7.9" stroke="#1e1e1e" stroke-width="0.14" transform="translate(100.50 478.90) scale(0.97 1) translate(-100.50 -478.90)">ASXL1 Trunc</text>
<rect x="153.00" y="473.30" width="9.50" height="5.30" fill="#3452ad" stroke="none" stroke-width="0.5" />
<text x="166.00" y="478.90" font-size="7.9" stroke="#1e1e1e" stroke-width="0.14" transform="translate(166.00 478.90) scale(0.97 1) translate(-166.00 -478.90)">ASXL1 KO</text>
<text x="226.80" y="372.50" font-size="10.2" fill="#111" font-weight="bold">G</text>
<text x="307.00" y="384.20" font-size="7.9" text-anchor="middle" stroke="#1e1e1e" stroke-width="0.14" transform="translate(307.00 384.20) scale(0.97 1) translate(-307.00 -384.20)">Serial replating</text>
<line x1="259.30" y1="463.80" x2="259.30" y2="386.90" stroke="#777" stroke-width="0.7" />
<line x1="257.50" y1="463.80" x2="259.30" y2="463.80" stroke="#777" stroke-width="0.7" />
<text x="255.60" y="466.40" font-size="7.9" text-anchor="end" stroke="#1e1e1e" stroke-width="0.14" transform="translate(255.60 466.40) scale(0.97 1) translate(-255.60 -466.40)">0</text>
<line x1="257.50" y1="448.45" x2="259.30" y2="448.45" stroke="#777" stroke-width="0.7" />
<text x="255.60" y="451.05" font-size="7.9" text-anchor="end" stroke="#1e1e1e" stroke-width="0.14" transform="translate(255.60 451.05) scale(0.97 1) translate(-255.60 -451.05)">50</text>
<line x1="257.50" y1="433.10" x2="259.30" y2="433.10" stroke="#777" stroke-width="0.7" />
<text x="255.60" y="435.70" font-size="7.9" text-anchor="end" stroke="#1e1e1e" stroke-width="0.14" transform="translate(255.60 435.70) scale(0.97 1) translate(-255.60 -435.70)">100</text>
<line x1="257.50" y1="417.75" x2="259.30" y2="417.75" stroke="#777" stroke-width="0.7" />
<text x="255.60" y="420.35" font-size="7.9" text-anchor="end" stroke="#1e1e1e" stroke-width="0.14" transform="translate(255.60 420.35) scale(0.97 1) translate(-255.60 -420.35)">150</text>
<line x1="257.50" y1="402.40" x2="259.30" y2="402.40" stroke="#777" stroke-width="0.7" />
<text x="255.60" y="405.00" font-size="7.9" text-anchor="end" stroke="#1e1e1e" stroke-width="0.14" transform="translate(255.60 405.00) scale(0.97 1) translate(-255.60 -405.00)">200</text>
<text x="237.50" y="425.50" font-size="7.9" text-anchor="middle" stroke="#1e1e1e" stroke-width="0.14" transform="rotate(-90 237.50 425.50) translate(237.50 425.50) scale(0.97 1) translate(-237.50 -425.50)">Colonies</text>
<rect x="260.20" y="426.35" width="12.60" height="37.45" fill="#898989" stroke="none" stroke-width="0.5" />
<line x1="266.50" y1="426.35" x2="266.50" y2="423.89" stroke="#444" stroke-width="0.6" />
<line x1="265.40" y1="423.89" x2="267.60" y2="423.89" stroke="#444" stroke-width="0.6" />
<rect x="274.20" y="428.19" width="12.10" height="35.61" fill="#ae1d24" stroke="none" stroke-width="0.5" />
<line x1="280.25" y1="428.19" x2="280.25" y2="425.12" stroke="#444" stroke-width="0.6" />
<line x1="279.15" y1="425.12" x2="281.35" y2="425.12" stroke="#444" stroke-width="0.6" />
<rect x="294.20" y="437.71" width="12.00" height="26.09" fill="#898989" stroke="none" stroke-width="0.5" />
<line x1="300.20" y1="437.71" x2="300.20" y2="433.71" stroke="#444" stroke-width="0.6" />
<line x1="299.10" y1="433.71" x2="301.30" y2="433.71" stroke="#444" stroke-width="0.6" />
<rect x="308.00" y="425.43" width="12.00" height="38.38" fill="#ae1d24" stroke="none" stroke-width="0.5" />
<line x1="314.00" y1="425.43" x2="314.00" y2="422.05" stroke="#444" stroke-width="0.6" />
<line x1="312.90" y1="422.05" x2="315.10" y2="422.05" stroke="#444" stroke-width="0.6" />
<rect x="327.90" y="458.58" width="12.30" height="5.22" fill="#898989" stroke="none" stroke-width="0.5" />
<line x1="334.05" y1="458.58" x2="334.05" y2="456.74" stroke="#444" stroke-width="0.6" />
<line x1="332.95" y1="456.74" x2="335.15" y2="456.74" stroke="#444" stroke-width="0.6" />
<rect x="341.80" y="436.17" width="12.00" height="27.63" fill="#ae1d24" stroke="none" stroke-width="0.5" />
<line x1="347.80" y1="436.17" x2="347.80" y2="430.03" stroke="#444" stroke-width="0.6" />
<line x1="346.70" y1="430.03" x2="348.90" y2="430.03" stroke="#444" stroke-width="0.6" />
<circle cx="261.50" cy="418.36" r="1.5" fill="#fff" stroke="#444" stroke-width="0.55"/>
<circle cx="265.00" cy="420.21" r="1.5" fill="#fff" stroke="#444" stroke-width="0.55"/>
<circle cx="268.00" cy="421.74" r="1.5" fill="#fff" stroke="#444" stroke-width="0.55"/>
<circle cx="271.50" cy="423.28" r="1.5" fill="#fff" stroke="#444" stroke-width="0.55"/>
<circle cx="263.50" cy="426.35" r="1.5" fill="#fff" stroke="#444" stroke-width="0.55"/>
<circle cx="267.50" cy="429.42" r="1.5" fill="#fff" stroke="#444" stroke-width="0.55"/>
<circle cx="270.50" cy="429.42" r="1.5" fill="#fff" stroke="#444" stroke-width="0.55"/>
<circle cx="266.00" cy="435.25" r="1.5" fill="#fff" stroke="#444" stroke-width="0.55"/>
<circle cx="262.50" cy="423.89" r="1.5" fill="#fff" stroke="#444" stroke-width="0.55"/>
<circle cx="276.20" cy="419.29" r="1.5" fill="#fff" stroke="#444" stroke-width="0.55"/>
<circle cx="280.00" cy="420.82" r="1.5" fill="#fff" stroke="#444" stroke-width="0.55"/>
<circle cx="283.50" cy="422.36" r="1.5" fill="#fff" stroke="#444" stroke-width="0.55"/>
<circle cx="285.00" cy="424.50" r="1.5" fill="#fff" stroke="#444" stroke-width="0.55"/>
<circle cx="279.50" cy="425.12" r="1.5" fill="#fff" stroke="#444" stroke-width="0.55"/>
<circle cx="282.50" cy="431.56" r="1.5" fill="#fff" stroke="#444" stroke-width="0.55"/>
<circle cx="278.00" cy="442.31" r="1.5" fill="#fff" stroke="#444" stroke-width="0.55"/>
<circle cx="281.50" cy="441.70" r="1.5" fill="#fff" stroke="#444" stroke-width="0.55"/>
<circle cx="300.00" cy="418.98" r="1.5" fill="#fff" stroke="#444" stroke-width="0.55"/>
<circle cx="300.00" cy="426.96" r="1.5" fill="#fff" stroke="#444" stroke-width="0.55"/>
<circle cx="300.00" cy="434.02" r="1.5" fill="#fff" stroke="#444" stroke-width="0.55"/>
<circle cx="297.00" cy="439.24" r="1.5" fill="#fff" stroke="#444" stroke-width="0.55"/>
<circle cx="303.50" cy="440.16" r="1.5" fill="#fff" stroke="#444" stroke-width="0.55"/>
<circle cx="297.50" cy="445.38" r="1.5" fill="#fff" stroke="#444" stroke-width="0.55"/>
<circle cx="303.00" cy="448.45" r="1.5" fill="#fff" stroke="#444" stroke-width="0.55"/>
<circle cx="300.00" cy="451.52" r="1.5" fill="#fff" stroke="#444" stroke-width="0.55"/>
<circle cx="312.00" cy="413.14" r="1.5" fill="#fff" stroke="#444" stroke-width="0.55"/>
<circle cx="317.00" cy="414.68" r="1.5" fill="#fff" stroke="#444" stroke-width="0.55"/>
<circle cx="309.50" cy="416.83" r="1.5" fill="#fff" stroke="#444" stroke-width="0.55"/>
<circle cx="316.50" cy="416.83" r="1.5" fill="#fff" stroke="#444" stroke-width="0.55"/>
<circle cx="313.50" cy="423.28" r="1.5" fill="#fff" stroke="#444" stroke-width="0.55"/>
<circle cx="311.00" cy="428.50" r="1.5" fill="#fff" stroke="#444" stroke-width="0.55"/>
<circle cx="317.50" cy="428.50" r="1.5" fill="#fff" stroke="#444" stroke-width="0.55"/>
<circle cx="312.50" cy="435.25" r="1.5" fill="#fff" stroke="#444" stroke-width="0.55"/>
<circle cx="316.00" cy="434.63" r="1.5" fill="#fff" stroke="#444" stroke-width="0.55"/>
<circle cx="331.00" cy="453.67" r="1.5" fill="#fff" stroke="#444" stroke-width="0.55"/>
<circle cx="334.50" cy="453.98" r="1.5" fill="#fff" stroke="#444" stroke-width="0.55"/>
<circle cx="330.00" cy="456.74" r="1.5" fill="#fff" stroke="#444" stroke-width="0.55"/>
<circle cx="333.00" cy="457.05" r="1.5" fill="#fff" stroke="#444" stroke-width="0.55"/>
<circle cx="337.00" cy="457.05" r="1.5" fill="#fff" stroke="#444" stroke-width="0.55"/>
<circle cx="331.50" cy="460.12" r="1.5" fill="#fff" stroke="#444" stroke-width="0.55"/>
<circle cx="335.00" cy="460.12" r="1.5" fill="#fff" stroke="#444" stroke-width="0.55"/>
<circle cx="338.50" cy="460.42" r="1.5" fill="#fff" stroke="#444" stroke-width="0.55"/>
<circle cx="334.00" cy="461.96" r="1.5" fill="#fff" stroke="#444" stroke-width="0.55"/>
<circle cx="347.80" cy="403.01" r="1.5" fill="#fff" stroke="#444" stroke-width="0.55"/>
<circle cx="347.80" cy="424.81" r="1.5" fill="#fff" stroke="#444" stroke-width="0.55"/>
<circle cx="347.80" cy="430.03" r="1.5" fill="#fff" stroke="#444" stroke-width="0.55"/>
<circle cx="345.00" cy="433.10" r="1.5" fill="#fff" stroke="#444" stroke-width="0.55"/>
<circle cx="350.50" cy="433.10" r="1.5" fill="#fff" stroke="#444" stroke-width="0.55"/>
<circle cx="344.50" cy="441.70" r="1.5" fill="#fff" stroke="#444" stroke-width="0.55"/>
<circle cx="350.00" cy="440.47" r="1.5" fill="#fff" stroke="#444" stroke-width="0.55"/>
<circle cx="347.50" cy="445.38" r="1.5" fill="#fff" stroke="#444" stroke-width="0.55"/>
<circle cx="347.80" cy="452.13" r="1.5" fill="#fff" stroke="#444" stroke-width="0.55"/>
<path d="M333.50,449.80 V393.60 H347.60 V397.90" fill="none" stroke="#3a3a3a" stroke-width="0.9" />
<text x="341.50" y="393.17" font-size="8.6" text-anchor="middle" fill="#111" font-weight="bold" letter-spacing="1.0">*</text>
<rect x="357.70" y="387.00" width="8.60" height="5.70" fill="#898989" stroke="none" stroke-width="0.5" />
<text x="369.20" y="393.00" font-size="7.9" stroke="#1e1e1e" stroke-width="0.14" transform="translate(369.20 393.00) scale(0.97 1) translate(-369.20 -393.00)">AAVS1</text>
<rect x="357.70" y="398.50" width="8.60" height="5.70" fill="#ae1d24" stroke="none" stroke-width="0.5" />
<text x="369.20" y="404.50" font-size="7.9" stroke="#1e1e1e" stroke-width="0.14" transform="translate(369.20 404.50) scale(0.97 1) translate(-369.20 -404.50)">ASXL1 Trunc</text>
<text x="272.50" y="473.60" font-size="7.9" text-anchor="middle" stroke="#1e1e1e" stroke-width="0.14" transform="translate(272.50 473.60) scale(0.97 1) translate(-272.50 -473.60)">1st</text>
<text x="307.00" y="473.60" font-size="7.9" text-anchor="middle" stroke="#1e1e1e" stroke-width="0.14" transform="translate(307.00 473.60) scale(0.97 1) translate(-307.00 -473.60)">2nd</text>
<text x="340.80" y="473.60" font-size="7.9" text-anchor="middle" stroke="#1e1e1e" stroke-width="0.14" transform="translate(340.80 473.60) scale(0.97 1) translate(-340.80 -473.60)">3rd</text>
<text x="431.50" y="372.50" font-size="10.2" fill="#111" font-weight="bold">H</text>
<line x1="463.80" y1="463.80" x2="463.80" y2="386.90" stroke="#777" stroke-width="0.7" />
<line x1="462.00" y1="463.80" x2="463.80" y2="463.80" stroke="#777" stroke-width="0.7" />
<text x="460.10" y="466.40" font-size="7.9" text-anchor="end" stroke="#1e1e1e" stroke-width="0.14" transform="translate(460.10 466.40) scale(0.97 1) translate(-460.10 -466.40)">0</text>
<line x1="462.00" y1="438.35" x2="463.80" y2="438.35" stroke="#777" stroke-width="0.7" />
<text x="460.10" y="440.95" font-size="7.9" text-anchor="end" stroke="#1e1e1e" stroke-width="0.14" transform="translate(460.10 440.95) scale(0.97 1) translate(-460.10 -440.95)">10</text>
<line x1="462.00" y1="412.90" x2="463.80" y2="412.90" stroke="#777" stroke-width="0.7" />
<text x="460.10" y="415.50" font-size="7.9" text-anchor="end" stroke="#1e1e1e" stroke-width="0.14" transform="translate(460.10 415.50) scale(0.97 1) translate(-460.10 -415.50)">20</text>
<line x1="462.00" y1="387.45" x2="463.80" y2="387.45" stroke="#777" stroke-width="0.7" />
<text x="460.10" y="390.05" font-size="7.9" text-anchor="end" stroke="#1e1e1e" stroke-width="0.14" transform="translate(460.10 390.05) scale(0.97 1) translate(-460.10 -390.05)">30</text>
<line x1="463.80" y1="463.80" x2="508.80" y2="463.80" stroke="#777" stroke-width="0.7" />
<text x="446.50" y="425.00" font-size="7.9" text-anchor="middle" stroke="#1e1e1e" stroke-width="0.14" transform="rotate(-90 446.50 425.00) translate(446.50 425.00) scale(0.97 1) translate(-446.50 -425.00)">CD34<tspan font-size="4.5" dy="-2.8">+</tspan><tspan dy="2.8"> (%)</tspan></text>
<line x1="475.40" y1="413.92" x2="497.90" y2="397.63" stroke="#444" stroke-width="0.6" />
<line x1="475.40" y1="419.26" x2="497.90" y2="417.23" stroke="#444" stroke-width="0.6" />
<line x1="475.40" y1="425.62" x2="497.90" y2="415.44" stroke="#444" stroke-width="0.6" />
<line x1="475.40" y1="439.62" x2="497.90" y2="432.75" stroke="#444" stroke-width="0.6" />
<line x1="475.40" y1="443.44" x2="497.90" y2="426.13" stroke="#444" stroke-width="0.6" />
<circle cx="475.40" cy="413.92" r="1.6" fill="#fff" stroke="#555" stroke-width="0.6"/>
<circle cx="475.40" cy="419.26" r="1.6" fill="#fff" stroke="#555" stroke-width="0.6"/>
<circle cx="475.40" cy="425.62" r="1.6" fill="#fff" stroke="#555" stroke-width="0.6"/>
<circle cx="475.40" cy="439.62" r="1.6" fill="#fff" stroke="#555" stroke-width="0.6"/>
<circle cx="475.40" cy="443.44" r="1.6" fill="#fff" stroke="#555" stroke-width="0.6"/>
<circle cx="497.90" cy="397.63" r="1.7" fill="#6e1e24" stroke="#5a1a1e" stroke-width="0.4"/>
<circle cx="497.90" cy="417.23" r="1.7" fill="#6e1e24" stroke="#5a1a1e" stroke-width="0.4"/>
<circle cx="497.90" cy="416.72" r="1.7" fill="#6e1e24" stroke="#5a1a1e" stroke-width="0.4"/>
<circle cx="497.90" cy="415.44" r="1.7" fill="#6e1e24" stroke="#5a1a1e" stroke-width="0.4"/>
<circle cx="497.90" cy="432.75" r="1.7" fill="#6e1e24" stroke="#5a1a1e" stroke-width="0.4"/>
<circle cx="497.90" cy="426.13" r="1.7" fill="#6e1e24" stroke="#5a1a1e" stroke-width="0.4"/>
<path d="M475.50,408.00 V388.10 H497.70 V392.70" fill="none" stroke="#333" stroke-width="1.2" />
<text x="487.20" y="387.97" font-size="8.6" text-anchor="middle" fill="#111" font-weight="bold" letter-spacing="1.0">*</text>
<line x1="461.90" y1="474.40" x2="470.40" y2="474.40" stroke="#444" stroke-width="0.6" />
<circle cx="466.20" cy="474.40" r="1.5" fill="#fff" stroke="#555" stroke-width="0.6"/>
<text x="474.20" y="476.80" font-size="7.9" stroke="#1e1e1e" stroke-width="0.14" transform="translate(474.20 476.80) scale(0.97 1) translate(-474.20 -476.80)">AAVS1</text>
<line x1="461.90" y1="484.60" x2="470.40" y2="484.60" stroke="#444" stroke-width="0.6" />
<circle cx="466.20" cy="484.60" r="1.6" fill="#6e1e24" stroke="#5a1a1e" stroke-width="0.4"/>
<text x="474.20" y="487.00" font-size="7.9" stroke="#1e1e1e" stroke-width="0.14" transform="translate(474.20 487.00) scale(0.97 1) translate(-474.20 -487.00)">ASXL1 Trunc</text>
<line x1="8.00" y1="509.10" x2="310.80" y2="509.10" stroke="#a5a5a5" stroke-width="1.5" />
<line x1="325.40" y1="509.20" x2="520.00" y2="509.20" stroke="#6a6a6a" stroke-width="1.2" />
<text x="156.90" y="503.80" font-size="7.9" text-anchor="middle" stroke="#1e1e1e" stroke-width="0.14" transform="translate(156.90 503.80) scale(0.9254 1) translate(-156.90 -503.80)">ASXL1 Trunc vs. AAVS1</text>
<text x="402.70" y="504.60" font-size="7.9" text-anchor="middle" stroke="#1e1e1e" stroke-width="0.14" transform="translate(402.70 504.60) scale(0.97 1) translate(-402.70 -504.60)">ASXL1 Trunc vs. ASXL1 KO</text>
<text x="4.80" y="527.20" font-size="10.2" fill="#111" font-weight="bold">I</text>
<rect x="5.40" y="547.00" width="70.00" height="81.50" fill="#fff" stroke="#9a9a9a" stroke-width="0.9" rx="2.5" />
<text x="7.40" y="554.60" font-size="7.9" stroke="#1e1e1e" stroke-width="0.14" transform="translate(7.40 554.60) scale(0.97 1) translate(-7.40 -554.60)">AAVS1</text>
<circle cx="12.20" cy="561.60" r="3.7" fill="#9a9a9a" stroke="#555" stroke-width="0.6"/>
<circle cx="18.60" cy="561.60" r="3.7" fill="#9a9a9a" stroke="#555" stroke-width="0.6"/>
<circle cx="10.90" cy="566.30" r="3.7" fill="#9a9a9a" stroke="#555" stroke-width="0.6"/>
<circle cx="19.90" cy="566.30" r="3.7" fill="#9a9a9a" stroke="#555" stroke-width="0.6"/>
<circle cx="15.40" cy="568.40" r="3.7" fill="#9a9a9a" stroke="#555" stroke-width="0.6"/>
<circle cx="15.40" cy="564.30" r="3.7" fill="#9a9a9a" stroke="#555" stroke-width="0.6"/>
<circle cx="12.20" cy="607.80" r="3.8" fill="#b01e26" stroke="#6a1015" stroke-width="0.6"/>
<circle cx="18.60" cy="607.80" r="3.8" fill="#b01e26" stroke="#6a1015" stroke-width="0.6"/>
<circle cx="12.20" cy="614.20" r="3.8" fill="#b01e26" stroke="#6a1015" stroke-width="0.6"/>
<circle cx="18.60" cy="614.20" r="3.8" fill="#b01e26" stroke="#6a1015" stroke-width="0.6"/>
<circle cx="15.40" cy="611.00" r="3.8" fill="#b01e26" stroke="#6a1015" stroke-width="0.6"/>
<line x1="18.50" y1="576.00" x2="19.80" y2="583.00" stroke="#222" stroke-width="0.7" />
<polygon points="20.6,586 18.4,582.4 21.6,582" fill="#111"/>
<line x1="17.20" y1="601.50" x2="19.50" y2="596.00" stroke="#222" stroke-width="0.7" />
<polygon points="20.8,592.8 18,596.5 21.1,597.2" fill="#111"/>
<text x="24.60" y="592.30" font-size="7.9" text-anchor="middle" stroke="#1e1e1e" stroke-width="0.14" transform="translate(24.60 592.30) scale(0.97 1) translate(-24.60 -592.30)">1:1</text>
<line x1="30.80" y1="589.00" x2="35.00" y2="589.00" stroke="#222" stroke-width="0.7" />
<polygon points="38,589 34.5,587.3 34.5,590.7" fill="#111"/>
<path d="M39.2,590 C42.2,587.0 44.2,585.5 47.2,585.4 C53.2,583.5 61.2,583.5 65.2,588.0 C68.2,591.5 67.2,595.0 63.2,596.0 L49.2,596.0 C46.2,595.0 44.2,593.0 42.2,592.0 C40.7,591.6 39.2,591.0 39.2,590 Z" fill="#d9d9d9" stroke="#333" stroke-width="0.75" />
<path d="M45.7,586.0 C45.2,583.0 48.2,582.5 48.7,585.2" fill="#d9d9d9" stroke="#333" stroke-width="0.7" />
<path d="M65.2,594.0 C70.2,593.0 74.2,596.0 72.2,598.0 C70.2,599.5 66.2,599.0 64.2,599.0" fill="none" stroke="#333" stroke-width="0.7" />
<ellipse cx="48.70" cy="596.60" rx="1.60" ry="0.80" fill="#333"/>
<ellipse cx="60.70" cy="596.80" rx="1.60" ry="0.80" fill="#333"/>
<circle cx="43.40" cy="589.00" r="0.45" fill="#333" stroke="none" stroke-width="0"/>
<line x1="58.50" y1="582.00" x2="61.86" y2="579.06" stroke="#333" stroke-width="0.7" />
<polygon points="62.72,580.04 70.23,573.47 68.52,571.51 61.00,578.08" fill="#fff" stroke="#333" stroke-width="0.7"/>
<line x1="70.91" y1="574.25" x2="67.83" y2="570.73" stroke="#333" stroke-width="0.7" />
<line x1="69.37" y1="572.49" x2="70.88" y2="571.17" stroke="#333" stroke-width="0.7" />
<text x="55.40" y="604.60" font-size="7.9" text-anchor="middle" stroke="#1e1e1e" stroke-width="0.14" transform="translate(55.40 604.60) scale(0.97 1) translate(-55.40 -604.60)">NSGS</text>
<text x="7.40" y="625.40" font-size="7.9" stroke="#1e1e1e" stroke-width="0.14" transform="translate(7.40 625.40) scale(0.97 1) translate(-7.40 -625.40)">ASXL1 Trunc</text>
<text x="84.60" y="527.20" font-size="10.2" fill="#111" font-weight="bold">J</text>
<text x="120.20" y="535.40" font-size="7.9" text-anchor="middle" stroke="#1e1e1e" stroke-width="0.14" transform="translate(120.20 535.40) scale(0.97 1) translate(-120.20 -535.40)">Genotype</text>
<line x1="107.00" y1="629.60" x2="107.00" y2="552.50" stroke="#777" stroke-width="0.7" />
<line x1="105.20" y1="629.60" x2="107.00" y2="629.60" stroke="#777" stroke-width="0.7" />
<text x="103.30" y="632.20" font-size="7.9" text-anchor="end" stroke="#1e1e1e" stroke-width="0.14" transform="translate(103.30 632.20) scale(0.97 1) translate(-103.30 -632.20)">0</text>
<line x1="105.20" y1="614.52" x2="107.00" y2="614.52" stroke="#777" stroke-width="0.7" />
<text x="103.30" y="617.12" font-size="7.9" text-anchor="end" stroke="#1e1e1e" stroke-width="0.14" transform="translate(103.30 617.12) scale(0.97 1) translate(-103.30 -617.12)">20</text>
<line x1="105.20" y1="599.44" x2="107.00" y2="599.44" stroke="#777" stroke-width="0.7" />
<text x="103.30" y="602.04" font-size="7.9" text-anchor="end" stroke="#1e1e1e" stroke-width="0.14" transform="translate(103.30 602.04) scale(0.97 1) translate(-103.30 -602.04)">40</text>
<line x1="105.20" y1="584.36" x2="107.00" y2="584.36" stroke="#777" stroke-width="0.7" />
<text x="103.30" y="586.96" font-size="7.9" text-anchor="end" stroke="#1e1e1e" stroke-width="0.14" transform="translate(103.30 586.96) scale(0.97 1) translate(-103.30 -586.96)">60</text>
<line x1="105.20" y1="569.28" x2="107.00" y2="569.28" stroke="#777" stroke-width="0.7" />
<text x="103.30" y="571.88" font-size="7.9" text-anchor="end" stroke="#1e1e1e" stroke-width="0.14" transform="translate(103.30 571.88) scale(0.97 1) translate(-103.30 -571.88)">80</text>
<line x1="105.20" y1="554.20" x2="107.00" y2="554.20" stroke="#777" stroke-width="0.7" />
<text x="103.30" y="556.80" font-size="7.9" text-anchor="end" stroke="#1e1e1e" stroke-width="0.14" transform="translate(103.30 556.80) scale(0.97 1) translate(-103.30 -556.80)">100</text>
<text x="88.00" y="592.00" font-size="7.9" text-anchor="middle" stroke="#1e1e1e" stroke-width="0.14" transform="rotate(-90 88.00 592.00) translate(88.00 592.00) scale(0.97 1) translate(-88.00 -592.00)">% of human</text>
<rect x="107.90" y="602.08" width="10.90" height="27.52" fill="#898989" stroke="none" stroke-width="0.5" />
<line x1="113.35" y1="602.08" x2="113.35" y2="596.42" stroke="#444" stroke-width="0.6" />
<line x1="112.25" y1="596.42" x2="114.45" y2="596.42" stroke="#444" stroke-width="0.6" />
<rect x="121.30" y="582.10" width="11.00" height="47.50" fill="#ae1d24" stroke="none" stroke-width="0.5" />
<line x1="126.80" y1="582.10" x2="126.80" y2="580.59" stroke="#444" stroke-width="0.6" />
<line x1="125.70" y1="580.59" x2="127.90" y2="580.59" stroke="#444" stroke-width="0.6" />
<circle cx="113.40" cy="560.99" r="1.5" fill="#fff" stroke="#444" stroke-width="0.55"/>
<circle cx="113.40" cy="582.85" r="1.5" fill="#fff" stroke="#444" stroke-width="0.55"/>
<circle cx="110.50" cy="603.96" r="1.5" fill="#fff" stroke="#444" stroke-width="0.55"/>
<circle cx="116.00" cy="603.96" r="1.5" fill="#fff" stroke="#444" stroke-width="0.55"/>
<circle cx="113.40" cy="606.98" r="1.5" fill="#fff" stroke="#444" stroke-width="0.55"/>
<circle cx="110.00" cy="610.00" r="1.5" fill="#fff" stroke="#444" stroke-width="0.55"/>
<circle cx="110.50" cy="614.52" r="1.5" fill="#fff" stroke="#444" stroke-width="0.55"/>
<circle cx="114.00" cy="614.52" r="1.5" fill="#fff" stroke="#444" stroke-width="0.55"/>
<circle cx="117.00" cy="613.77" r="1.5" fill="#fff" stroke="#444" stroke-width="0.55"/>
<circle cx="123.50" cy="570.79" r="1.5" fill="#fff" stroke="#444" stroke-width="0.55"/>
<circle cx="126.50" cy="570.03" r="1.5" fill="#fff" stroke="#444" stroke-width="0.55"/>
<circle cx="129.50" cy="570.03" r="1.5" fill="#fff" stroke="#444" stroke-width="0.55"/>
<circle cx="124.00" cy="578.33" r="1.5" fill="#fff" stroke="#444" stroke-width="0.55"/>
<circle cx="127.50" cy="577.57" r="1.5" fill="#fff" stroke="#444" stroke-width="0.55"/>
<circle cx="130.50" cy="577.57" r="1.5" fill="#fff" stroke="#444" stroke-width="0.55"/>
<circle cx="126.80" cy="601.70" r="1.5" fill="#fff" stroke="#444" stroke-width="0.55"/>
<circle cx="126.80" cy="622.06" r="1.5" fill="#fff" stroke="#444" stroke-width="0.55"/>
<path d="M113.30,555.60 V551.00 H127.30 V563.80" fill="none" stroke="#3a3a3a" stroke-width="0.9" />
<text x="120.60" y="551.37" font-size="8.6" text-anchor="middle" fill="#111" font-weight="bold" letter-spacing="1.0">*</text>
<rect x="137.30" y="547.90" width="9.00" height="5.20" fill="#898989" stroke="none" stroke-width="0.5" />
<text x="148.30" y="553.40" font-size="7.9" stroke="#1e1e1e" stroke-width="0.14" transform="translate(148.30 553.40) scale(0.97 1) translate(-148.30 -553.40)">AAVS1</text>
<rect x="137.30" y="558.30" width="9.00" height="5.20" fill="#ae1d24" stroke="none" stroke-width="0.5" />
<text x="148.30" y="563.80" font-size="7.9" stroke="#1e1e1e" stroke-width="0.14" transform="translate(148.30 563.80) scale(0.97 1) translate(-148.30 -563.80)">ASXL1 Trunc</text>
<text x="206.80" y="527.20" font-size="10.2" fill="#111" font-weight="bold">K</text>
<text x="246.20" y="535.20" font-size="7.9" text-anchor="middle" stroke="#1e1e1e" stroke-width="0.14" transform="translate(246.20 535.20) scale(0.97 1) translate(-246.20 -535.20)">Lineage</text>
<line x1="220.80" y1="628.80" x2="220.80" y2="559.30" stroke="#777" stroke-width="0.7" />
<line x1="219.00" y1="628.80" x2="220.80" y2="628.80" stroke="#777" stroke-width="0.7" />
<text x="217.10" y="631.40" font-size="7.9" text-anchor="end" stroke="#1e1e1e" stroke-width="0.14" transform="translate(217.10 631.40) scale(0.97 1) translate(-217.10 -631.40)">0</text>
<line x1="219.00" y1="615.34" x2="220.80" y2="615.34" stroke="#777" stroke-width="0.7" />
<text x="217.10" y="617.94" font-size="7.9" text-anchor="end" stroke="#1e1e1e" stroke-width="0.14" transform="translate(217.10 617.94) scale(0.97 1) translate(-217.10 -617.94)">20</text>
<line x1="219.00" y1="601.88" x2="220.80" y2="601.88" stroke="#777" stroke-width="0.7" />
<text x="217.10" y="604.48" font-size="7.9" text-anchor="end" stroke="#1e1e1e" stroke-width="0.14" transform="translate(217.10 604.48) scale(0.97 1) translate(-217.10 -604.48)">40</text>
<line x1="219.00" y1="588.42" x2="220.80" y2="588.42" stroke="#777" stroke-width="0.7" />
<text x="217.10" y="591.02" font-size="7.9" text-anchor="end" stroke="#1e1e1e" stroke-width="0.14" transform="translate(217.10 591.02) scale(0.97 1) translate(-217.10 -591.02)">60</text>
<line x1="219.00" y1="574.96" x2="220.80" y2="574.96" stroke="#777" stroke-width="0.7" />
<text x="217.10" y="577.56" font-size="7.9" text-anchor="end" stroke="#1e1e1e" stroke-width="0.14" transform="translate(217.10 577.56) scale(0.97 1) translate(-217.10 -577.56)">80</text>
<line x1="219.00" y1="561.50" x2="220.80" y2="561.50" stroke="#777" stroke-width="0.7" />
<text x="217.10" y="564.10" font-size="7.9" text-anchor="end" stroke="#1e1e1e" stroke-width="0.14" transform="translate(217.10 564.10) scale(0.97 1) translate(-217.10 -564.10)">100</text>
<text x="202.50" y="595.40" font-size="7.9" text-anchor="middle" stroke="#1e1e1e" stroke-width="0.14" transform="rotate(-90 202.50 595.40) translate(202.50 595.40) scale(0.97 1) translate(-202.50 -595.40)">% of human</text>
<rect x="221.70" y="619.71" width="10.70" height="9.09" fill="#e2e2e2" stroke="#888" stroke-width="0.5" />
<line x1="227.00" y1="619.71" x2="227.00" y2="615.34" stroke="#444" stroke-width="0.6" />
<line x1="225.90" y1="615.34" x2="228.10" y2="615.34" stroke="#444" stroke-width="0.6" />
<rect x="234.40" y="572.27" width="10.60" height="56.53" fill="#8a8a8a" stroke="none" stroke-width="0.5" />
<line x1="239.70" y1="572.27" x2="239.70" y2="569.58" stroke="#444" stroke-width="0.6" />
<line x1="238.60" y1="569.58" x2="240.80" y2="569.58" stroke="#444" stroke-width="0.6" />
<rect x="261.20" y="561.84" width="10.10" height="66.96" fill="#ae1d24" stroke="none" stroke-width="0.5" />
<circle cx="227.00" cy="589.77" r="1.5" fill="#fff" stroke="#444" stroke-width="0.55"/>
<circle cx="227.00" cy="603.23" r="1.5" fill="#fff" stroke="#444" stroke-width="0.55"/>
<circle cx="223.50" cy="620.72" r="1.5" fill="#fff" stroke="#444" stroke-width="0.55"/>
<circle cx="227.50" cy="622.07" r="1.5" fill="#fff" stroke="#444" stroke-width="0.55"/>
<circle cx="231.00" cy="621.40" r="1.5" fill="#fff" stroke="#444" stroke-width="0.55"/>
<circle cx="224.00" cy="625.43" r="1.5" fill="#fff" stroke="#444" stroke-width="0.55"/>
<circle cx="228.00" cy="626.11" r="1.5" fill="#fff" stroke="#444" stroke-width="0.55"/>
<circle cx="231.50" cy="624.76" r="1.5" fill="#fff" stroke="#444" stroke-width="0.55"/>
<circle cx="225.00" cy="628.13" r="1.5" fill="#fff" stroke="#444" stroke-width="0.55"/>
<circle cx="229.50" cy="628.13" r="1.5" fill="#fff" stroke="#444" stroke-width="0.55"/>
<circle cx="236.50" cy="561.50" r="1.5" fill="#fff" stroke="#444" stroke-width="0.55"/>
<circle cx="240.00" cy="560.83" r="1.5" fill="#fff" stroke="#444" stroke-width="0.55"/>
<circle cx="243.50" cy="562.17" r="1.5" fill="#fff" stroke="#444" stroke-width="0.55"/>
<circle cx="237.50" cy="564.87" r="1.5" fill="#fff" stroke="#444" stroke-width="0.55"/>
<circle cx="241.50" cy="564.87" r="1.5" fill="#fff" stroke="#444" stroke-width="0.55"/>
<circle cx="237.00" cy="568.90" r="1.5" fill="#fff" stroke="#444" stroke-width="0.55"/>
<circle cx="241.00" cy="568.23" r="1.5" fill="#fff" stroke="#444" stroke-width="0.55"/>
<circle cx="240.00" cy="574.29" r="1.5" fill="#fff" stroke="#444" stroke-width="0.55"/>
<circle cx="239.50" cy="593.13" r="1.5" fill="#fff" stroke="#444" stroke-width="0.55"/>
<circle cx="239.70" cy="599.19" r="1.5" fill="#fff" stroke="#444" stroke-width="0.55"/>
<circle cx="250.50" cy="628.60" r="1.2" fill="#fff" stroke="#444" stroke-width="0.55"/>
<circle cx="253.00" cy="628.60" r="1.2" fill="#fff" stroke="#444" stroke-width="0.55"/>
<circle cx="255.50" cy="628.60" r="1.2" fill="#fff" stroke="#444" stroke-width="0.55"/>
<circle cx="257.50" cy="628.60" r="1.2" fill="#fff" stroke="#444" stroke-width="0.55"/>
<circle cx="263.00" cy="561.84" r="1.1" fill="#fff" stroke="#444" stroke-width="0.55"/>
<circle cx="266.00" cy="561.84" r="1.1" fill="#fff" stroke="#444" stroke-width="0.55"/>
<circle cx="269.00" cy="561.84" r="1.1" fill="#fff" stroke="#444" stroke-width="0.55"/>
<path d="M226.80,578.00 V557.30 H254.00 V626.50" fill="none" stroke="#3a3a3a" stroke-width="0.9" />
<text x="240.80" y="557.77" font-size="8.6" text-anchor="middle" fill="#111" font-weight="bold" letter-spacing="1.0">*</text>
<path d="M239.30,549.00 V546.10 H266.70 V558.50" fill="none" stroke="#3a3a3a" stroke-width="0.9" />
<text x="253.30" y="546.17" font-size="8.6" text-anchor="middle" fill="#111" font-weight="bold" letter-spacing="1.0">*</text>
<line x1="277.40" y1="560.50" x2="311.00" y2="560.50" stroke="#999" stroke-width="0.9" />
<rect x="277.40" y="565.00" width="8.50" height="5.50" fill="#dcdcdc" stroke="#999" stroke-width="0.5" />
<text x="288.80" y="570.80" font-size="7.9" stroke="#1e1e1e" stroke-width="0.14" transform="translate(288.80 570.80) scale(0.97 1) translate(-288.80 -570.80)">CD19<tspan font-size="4.5" dy="-2.8">+</tspan></text>
<rect x="277.40" y="575.80" width="8.50" height="5.50" fill="#7a7a7a" stroke="none" stroke-width="0.5" />
<text x="288.80" y="581.60" font-size="7.9" stroke="#1e1e1e" stroke-width="0.14" transform="translate(288.80 581.60) scale(0.97 1) translate(-288.80 -581.60)">CD33<tspan font-size="4.5" dy="-2.8">+</tspan></text>
<line x1="277.40" y1="598.50" x2="311.00" y2="598.50" stroke="#999" stroke-width="0.9" />
<rect x="277.40" y="602.50" width="8.50" height="5.50" fill="#e4606a" stroke="none" stroke-width="0.5" />
<text x="288.80" y="608.30" font-size="7.9" stroke="#1e1e1e" stroke-width="0.14" transform="translate(288.80 608.30) scale(0.97 1) translate(-288.80 -608.30)">CD19<tspan font-size="4.5" dy="-2.8">+</tspan></text>
<rect x="277.40" y="613.30" width="8.50" height="5.50" fill="#a5141e" stroke="none" stroke-width="0.5" />
<text x="288.80" y="619.10" font-size="7.9" stroke="#1e1e1e" stroke-width="0.14" transform="translate(288.80 619.10) scale(0.97 1) translate(-288.80 -619.10)">CD33<tspan font-size="4.5" dy="-2.8">+</tspan></text>
<text x="326.80" y="527.20" font-size="10.2" fill="#111" font-weight="bold">L</text>
<rect x="327.40" y="547.30" width="70.40" height="81.30" fill="#fff" stroke="#9a9a9a" stroke-width="0.9" rx="2.5" />
<text x="329.30" y="555.70" font-size="7.9" stroke="#1e1e1e" stroke-width="0.14" transform="translate(329.30 555.70) scale(0.97 1) translate(-329.30 -555.70)">ASXL1 Trunc</text>
<circle cx="334.70" cy="564.10" r="3.8" fill="#b01e26" stroke="#6a1015" stroke-width="0.6"/>
<circle cx="341.10" cy="564.10" r="3.8" fill="#b01e26" stroke="#6a1015" stroke-width="0.6"/>
<circle cx="334.70" cy="570.50" r="3.8" fill="#b01e26" stroke="#6a1015" stroke-width="0.6"/>
<circle cx="341.10" cy="570.50" r="3.8" fill="#b01e26" stroke="#6a1015" stroke-width="0.6"/>
<circle cx="337.90" cy="567.30" r="3.8" fill="#b01e26" stroke="#6a1015" stroke-width="0.6"/>
<circle cx="335.50" cy="608.10" r="3.6" fill="#3452ad" stroke="#1f3277" stroke-width="0.6"/>
<circle cx="341.70" cy="608.30" r="3.6" fill="#3452ad" stroke="#1f3277" stroke-width="0.6"/>
<circle cx="334.50" cy="613.30" r="3.6" fill="#3452ad" stroke="#1f3277" stroke-width="0.6"/>
<circle cx="342.50" cy="613.50" r="3.6" fill="#3452ad" stroke="#1f3277" stroke-width="0.6"/>
<circle cx="338.50" cy="615.10" r="3.6" fill="#3452ad" stroke="#1f3277" stroke-width="0.6"/>
<circle cx="338.50" cy="611.10" r="3.6" fill="#3452ad" stroke="#1f3277" stroke-width="0.6"/>
<line x1="340.00" y1="577.00" x2="342.30" y2="583.00" stroke="#222" stroke-width="0.7" />
<polygon points="343.2,586 341,582.4 344.2,582" fill="#111"/>
<line x1="340.50" y1="602.00" x2="342.00" y2="597.00" stroke="#222" stroke-width="0.7" />
<polygon points="343.2,593.2 340.4,596.8 343.5,597.5" fill="#111"/>
<text x="347.90" y="592.60" font-size="7.9" text-anchor="middle" stroke="#1e1e1e" stroke-width="0.14" transform="translate(347.90 592.60) scale(0.97 1) translate(-347.90 -592.60)">1:1</text>
<line x1="353.50" y1="589.00" x2="358.00" y2="589.00" stroke="#222" stroke-width="0.7" />
<polygon points="361,589 357.5,587.3 357.5,590.7" fill="#111"/>
<path d="M362.6,590 C365.6,587.0 367.6,585.5 370.6,585.4 C376.6,583.5 384.6,583.5 388.6,588.0 C391.6,591.5 390.6,595.0 386.6,596.0 L372.6,596.0 C369.6,595.0 367.6,593.0 365.6,592.0 C364.1,591.6 362.6,591.0 362.6,590 Z" fill="#d9d9d9" stroke="#333" stroke-width="0.75" />
<path d="M369.1,586.0 C368.6,583.0 371.6,582.5 372.1,585.2" fill="#d9d9d9" stroke="#333" stroke-width="0.7" />
<path d="M388.6,594.0 C393.6,593.0 397.6,596.0 395.6,598.0 C393.6,599.5 389.6,599.0 387.6,599.0" fill="none" stroke="#333" stroke-width="0.7" />
<ellipse cx="372.10" cy="596.60" rx="1.60" ry="0.80" fill="#333"/>
<ellipse cx="384.10" cy="596.80" rx="1.60" ry="0.80" fill="#333"/>
<circle cx="366.80" cy="589.00" r="0.45" fill="#333" stroke="none" stroke-width="0"/>
<line x1="383.20" y1="581.00" x2="385.94" y2="578.42" stroke="#333" stroke-width="0.7" />
<polygon points="386.83,579.37 392.80,573.77 391.02,571.88 385.05,577.48" fill="#fff" stroke="#333" stroke-width="0.7"/>
<line x1="393.51" y1="574.53" x2="390.30" y2="571.12" stroke="#333" stroke-width="0.7" />
<line x1="391.91" y1="572.83" x2="393.36" y2="571.46" stroke="#333" stroke-width="0.7" />
<text x="377.80" y="605.30" font-size="7.9" text-anchor="middle" stroke="#1e1e1e" stroke-width="0.14" transform="translate(377.80 605.30) scale(0.97 1) translate(-377.80 -605.30)">NSGS</text>
<text x="329.70" y="626.60" font-size="7.9" stroke="#1e1e1e" stroke-width="0.14" transform="translate(329.70 626.60) scale(0.97 1) translate(-329.70 -626.60)">ASXL1 KO</text>
<text x="409.20" y="526.60" font-size="10.2" fill="#111" font-weight="bold">M</text>
<text x="447.70" y="535.70" font-size="7.9" text-anchor="middle" stroke="#1e1e1e" stroke-width="0.14" transform="translate(447.70 535.70) scale(0.97 1) translate(-447.70 -535.70)">Genotype</text>
<line x1="434.20" y1="630.30" x2="434.20" y2="552.00" stroke="#777" stroke-width="0.7" />
<line x1="432.40" y1="630.30" x2="434.20" y2="630.30" stroke="#777" stroke-width="0.7" />
<text x="430.50" y="632.90" font-size="7.9" text-anchor="end" stroke="#1e1e1e" stroke-width="0.14" transform="translate(430.50 632.90) scale(0.97 1) translate(-430.50 -632.90)">0</text>
<line x1="432.40" y1="615.08" x2="434.20" y2="615.08" stroke="#777" stroke-width="0.7" />
<text x="430.50" y="617.68" font-size="7.9" text-anchor="end" stroke="#1e1e1e" stroke-width="0.14" transform="translate(430.50 617.68) scale(0.97 1) translate(-430.50 -617.68)">20</text>
<line x1="432.40" y1="599.86" x2="434.20" y2="599.86" stroke="#777" stroke-width="0.7" />
<text x="430.50" y="602.46" font-size="7.9" text-anchor="end" stroke="#1e1e1e" stroke-width="0.14" transform="translate(430.50 602.46) scale(0.97 1) translate(-430.50 -602.46)">40</text>
<line x1="432.40" y1="584.64" x2="434.20" y2="584.64" stroke="#777" stroke-width="0.7" />
<text x="430.50" y="587.24" font-size="7.9" text-anchor="end" stroke="#1e1e1e" stroke-width="0.14" transform="translate(430.50 587.24) scale(0.97 1) translate(-430.50 -587.24)">60</text>
<line x1="432.40" y1="569.42" x2="434.20" y2="569.42" stroke="#777" stroke-width="0.7" />
<text x="430.50" y="572.02" font-size="7.9" text-anchor="end" stroke="#1e1e1e" stroke-width="0.14" transform="translate(430.50 572.02) scale(0.97 1) translate(-430.50 -572.02)">80</text>
<line x1="432.40" y1="554.20" x2="434.20" y2="554.20" stroke="#777" stroke-width="0.7" />
<text x="430.50" y="556.80" font-size="7.9" text-anchor="end" stroke="#1e1e1e" stroke-width="0.14" transform="translate(430.50 556.80) scale(0.97 1) translate(-430.50 -556.80)">100</text>
<text x="413.50" y="594.00" font-size="7.9" text-anchor="middle" stroke="#1e1e1e" stroke-width="0.14" transform="rotate(-90 413.50 594.00) translate(413.50 594.00) scale(0.97 1) translate(-413.50 -594.00)">% of human</text>
<rect x="435.10" y="564.09" width="12.20" height="66.21" fill="#ae1d24" stroke="none" stroke-width="0.5" />
<line x1="441.20" y1="564.09" x2="441.20" y2="561.81" stroke="#444" stroke-width="0.6" />
<line x1="440.10" y1="561.81" x2="442.30" y2="561.81" stroke="#444" stroke-width="0.6" />
<rect x="448.90" y="620.41" width="11.60" height="9.89" fill="#3452ad" stroke="none" stroke-width="0.5" />
<line x1="454.70" y1="620.41" x2="454.70" y2="618.12" stroke="#444" stroke-width="0.6" />
<line x1="453.60" y1="618.12" x2="455.80" y2="618.12" stroke="#444" stroke-width="0.6" />
<circle cx="441.20" cy="554.20" r="1.5" fill="#fff" stroke="#444" stroke-width="0.55"/>
<circle cx="437.50" cy="564.85" r="1.5" fill="#fff" stroke="#444" stroke-width="0.55"/>
<circle cx="441.20" cy="566.38" r="1.5" fill="#fff" stroke="#444" stroke-width="0.55"/>
<circle cx="445.00" cy="565.62" r="1.5" fill="#fff" stroke="#444" stroke-width="0.55"/>
<circle cx="451.50" cy="616.60" r="1.5" fill="#fff" stroke="#444" stroke-width="0.55"/>
<circle cx="455.00" cy="615.84" r="1.5" fill="#fff" stroke="#444" stroke-width="0.55"/>
<circle cx="458.00" cy="617.36" r="1.5" fill="#fff" stroke="#444" stroke-width="0.55"/>
<circle cx="454.70" cy="620.41" r="1.5" fill="#fff" stroke="#444" stroke-width="0.55"/>
<circle cx="454.70" cy="629.54" r="1.5" fill="#fff" stroke="#444" stroke-width="0.55"/>
<path d="M440.50,550.00 V544.80 H454.50 V613.50" fill="none" stroke="#3a3a3a" stroke-width="0.9" />
<text x="448.20" y="545.27" font-size="8.6" text-anchor="middle" fill="#111" font-weight="bold" letter-spacing="1.0">****</text>
<rect x="462.80" y="553.50" width="10.60" height="5.30" fill="#ae1d24" stroke="none" stroke-width="0.5" />
<text x="475.80" y="559.10" font-size="7.9" stroke="#1e1e1e" stroke-width="0.14" transform="translate(475.80 559.10) scale(0.97 1) translate(-475.80 -559.10)">ASXL1 Trunc</text>
<rect x="462.80" y="564.30" width="10.60" height="5.30" fill="#3452ad" stroke="none" stroke-width="0.5" />
<text x="476.20" y="569.90" font-size="7.9" stroke="#1e1e1e" stroke-width="0.14" transform="translate(476.20 569.90) scale(0.97 1) translate(-476.20 -569.90)">ASXL1 KO</text>
</svg></body></html>
